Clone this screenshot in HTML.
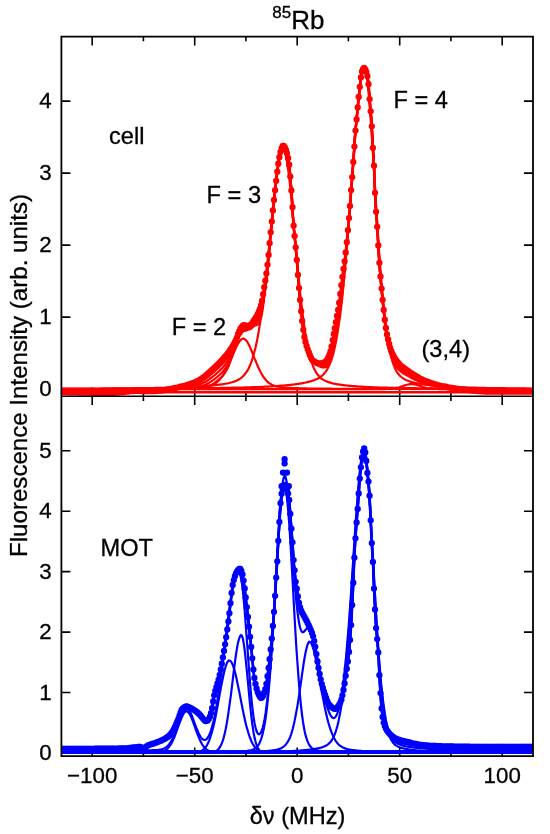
<!DOCTYPE html>
<html><head><meta charset="utf-8"><style>
html,body{margin:0;padding:0;background:#fff;}
svg{display:block;}
text{font-family:"Liberation Sans",Arial,Helvetica,sans-serif;fill:#000;stroke:#000;stroke-width:0.3px;}
</style></head><body>
<svg width="550" height="834" viewBox="0 0 550 834">
<rect width="550" height="834" fill="#fff"/>
<defs><clipPath id="ct"><rect x="61.4" y="36.7" width="471.6" height="359.6"/></clipPath><clipPath id="cb"><rect x="61.4" y="396.3" width="471.6" height="359.9"/></clipPath></defs>
<path d="M92.2 36.7v8.8M92.2 387.5v17.6M92.2 756.2v-8.8M143.4 36.7v4.6M143.4 391.7v9.2M143.4 756.2v-4.6M194.7 36.7v8.8M194.7 387.5v17.6M194.7 756.2v-8.8M245.9 36.7v4.6M245.9 391.7v9.2M245.9 756.2v-4.6M297.2 36.7v8.8M297.2 387.5v17.6M297.2 756.2v-8.8M348.4 36.7v4.6M348.4 391.7v9.2M348.4 756.2v-4.6M399.7 36.7v8.8M399.7 387.5v17.6M399.7 756.2v-8.8M450.9 36.7v4.6M450.9 391.7v9.2M450.9 756.2v-4.6M502.2 36.7v8.8M502.2 387.5v17.6M502.2 756.2v-8.8M61.4 389.1h9M533.0 389.1h-9M61.4 317.1h9M533.0 317.1h-9M61.4 245.1h9M533.0 245.1h-9M61.4 173.1h9M533.0 173.1h-9M61.4 101.1h9M533.0 101.1h-9M61.4 753.0h9M533.0 753.0h-9M61.4 692.5h9M533.0 692.5h-9M61.4 632.1h9M533.0 632.1h-9M61.4 571.6h9M533.0 571.6h-9M61.4 511.2h9M533.0 511.2h-9M61.4 450.8h9M533.0 450.8h-9" stroke="#000" stroke-width="1.6"/>
<g clip-path="url(#ct)"><g fill="none" stroke="#ff0000" stroke-width="2.2"><path d="M60.6 389.0L61.5 389.0L62.5 389.0L63.4 389.0L64.3 389.0L65.2 389.0L66.1 389.0L67.0 389.0L67.9 389.0L68.8 389.0L69.7 389.0L70.6 389.0L71.6 389.0L72.5 389.0L73.4 389.0L74.3 389.0L75.2 389.0L76.1 389.0L77.0 389.0L77.9 389.0L78.8 389.0L79.8 389.0L80.7 389.0L81.6 389.0L82.5 389.0L83.4 389.0L84.3 389.0L85.2 389.0L86.1 389.0L87.0 389.0L88.0 389.0L88.9 389.0L89.8 389.0L90.7 389.0L91.6 389.0L92.5 389.0L93.4 389.0L94.3 389.0L95.2 389.0L96.2 389.0L97.1 389.0L98.0 389.0L98.9 389.0L99.8 389.0L100.7 388.9L101.6 388.9L102.5 388.9L103.4 388.9L104.4 388.9L105.3 388.9L106.2 388.9L107.1 388.9L108.0 388.9L108.9 388.9L109.8 388.9L110.7 388.9L111.6 388.9L112.5 388.9L113.5 388.9L114.4 388.9L115.3 388.9L116.2 388.9L117.1 388.9L118.0 388.9L118.9 388.9L119.8 388.9L120.7 388.9L121.7 388.9L122.6 388.9L123.5 388.9L124.4 388.9L125.3 388.9L126.2 388.9L127.1 388.9L128.0 388.9L128.9 388.9L129.9 388.9L130.8 388.9L131.7 388.9L132.6 388.9L133.5 388.8L134.4 388.8L135.3 388.8L136.2 388.8L137.1 388.8L138.1 388.8L139.0 388.8L139.9 388.8L140.8 388.8L141.7 388.8L142.6 388.8L143.5 388.8L144.4 388.8L145.3 388.8L146.2 388.8L147.2 388.8L148.1 388.8L149.0 388.8L149.9 388.8L150.8 388.7L151.7 388.7L152.6 388.7L153.5 388.7L154.4 388.7L155.4 388.7L156.3 388.7L157.2 388.7L158.1 388.7L159.0 388.7L159.9 388.7L160.8 388.7L161.7 388.6L162.6 388.6L163.6 388.6L164.5 388.6L165.4 388.6L166.3 388.6L167.2 388.6L168.1 388.6L169.0 388.6L169.9 388.5L170.8 388.5L171.8 388.5L172.7 388.5L173.6 388.5L174.5 388.5L175.4 388.5L176.3 388.4L177.2 388.4L178.1 388.4L179.0 388.4L180.0 388.4L180.9 388.3L181.8 388.3L182.7 388.3L183.6 388.3L184.5 388.2L185.4 388.2L186.3 388.2L187.2 388.2L188.1 388.1L189.1 388.1L190.0 388.1L190.9 388.0L191.8 388.0L192.7 388.0L193.6 387.9L194.5 387.9L195.4 387.8L196.3 387.8L197.3 387.7L198.2 387.7L199.1 387.6L200.0 387.5L200.9 387.5L201.8 387.4L202.7 387.3L203.6 387.2L204.5 387.1L205.5 386.9L206.4 386.8L207.3 386.6L208.2 386.4L209.1 386.1L210.0 385.9L210.9 385.6L211.8 385.2L212.7 384.8L213.7 384.4L214.6 383.9L215.5 383.3L216.4 382.7L217.3 381.9L218.2 381.1L219.1 380.2L220.0 379.2L220.9 378.1L221.9 376.9L222.8 375.6L223.7 374.2L224.6 372.6L225.5 371.0L226.4 369.2L227.3 367.4L228.2 365.5L229.1 363.4L230.0 361.4L231.0 359.2L231.9 357.1L232.8 354.9L233.7 352.8L234.6 350.7L235.5 348.6L236.4 346.7L237.3 344.9L238.2 343.3L239.2 341.8L240.1 340.6L241.0 339.7L241.9 339.1L242.8 338.7L243.7 338.7L244.6 339.1L245.5 339.8L246.4 340.8L247.4 342.1L248.3 343.7L249.2 345.5L250.1 347.4L251.0 349.5L251.9 351.7L252.8 354.0L253.7 356.3L254.6 358.6L255.6 360.8L256.5 363.1L257.4 365.2L258.3 367.3L259.2 369.2L260.1 371.1L261.0 372.8L261.9 374.4L262.8 375.9L263.7 377.3L264.7 378.5L265.6 379.6L266.5 380.7L267.4 381.6L268.3 382.4L269.2 383.1L270.1 383.7L271.0 384.3L271.9 384.8L272.9 385.2L273.8 385.6L274.7 385.9L275.6 386.2L276.5 386.4L277.4 386.6L278.3 386.8L279.2 387.0L280.1 387.1L281.1 387.2L282.0 387.3L282.9 387.4L283.8 387.5L284.7 387.6L285.6 387.7L286.5 387.7L287.4 387.8L288.3 387.8L289.3 387.9L290.2 387.9L291.1 388.0L292.0 388.0L292.9 388.1L293.8 388.1L294.7 388.1L295.6 388.2L296.5 388.2L297.5 388.2L298.4 388.2L299.3 388.3L300.2 388.3L301.1 388.3L302.0 388.3L302.9 388.4L303.8 388.4L304.7 388.4L305.6 388.4L306.6 388.4L307.5 388.5L308.4 388.5L309.3 388.5L310.2 388.5L311.1 388.5L312.0 388.5L312.9 388.6L313.8 388.6L314.8 388.6L315.7 388.6L316.6 388.6L317.5 388.6L318.4 388.6L319.3 388.6L320.2 388.6L321.1 388.7L322.0 388.7L323.0 388.7L323.9 388.7L324.8 388.7L325.7 388.7L326.6 388.7L327.5 388.7L328.4 388.7L329.3 388.7L330.2 388.7L331.2 388.7L332.1 388.8L333.0 388.8L333.9 388.8L334.8 388.8L335.7 388.8L336.6 388.8L337.5 388.8L338.4 388.8L339.3 388.8L340.3 388.8L341.2 388.8L342.1 388.8L343.0 388.8L343.9 388.8L344.8 388.8L345.7 388.8L346.6 388.8L347.5 388.8L348.5 388.9L349.4 388.9L350.3 388.9L351.2 388.9L352.1 388.9L353.0 388.9L353.9 388.9L354.8 388.9L355.7 388.9L356.7 388.9L357.6 388.9L358.5 388.9L359.4 388.9L360.3 388.9L361.2 388.9L362.1 388.9L363.0 388.9L363.9 388.9L364.9 388.9L365.8 388.9L366.7 388.9L367.6 388.9L368.5 388.9L369.4 388.9L370.3 388.9L371.2 388.9L372.1 388.9L373.1 388.9L374.0 388.9L374.9 388.9L375.8 388.9L376.7 388.9L377.6 388.9L378.5 389.0L379.4 389.0L380.3 389.0L381.2 389.0L382.2 389.0L383.1 389.0L384.0 389.0L384.9 389.0L385.8 389.0L386.7 389.0L387.6 389.0L388.5 389.0L389.4 389.0L390.4 389.0L391.3 389.0L392.2 389.0L393.1 389.0L394.0 389.0L394.9 389.0L395.8 389.0L396.7 389.0L397.6 389.0L398.6 389.0L399.5 389.0L400.4 389.0L401.3 389.0L402.2 389.0L403.1 389.0L404.0 389.0L404.9 389.0L405.8 389.0L406.8 389.0L407.7 389.0L408.6 389.0L409.5 389.0L410.4 389.0L411.3 389.0L412.2 389.0L413.1 389.0L414.0 389.0L414.9 389.0L415.9 389.0L416.8 389.0L417.7 389.0L418.6 389.0L419.5 389.0L420.4 389.0L421.3 389.0L422.2 389.0L423.1 389.0L424.1 389.0L425.0 389.0L425.9 389.0L426.8 389.0L427.7 389.0L428.6 389.0L429.5 389.0L430.4 389.0L431.3 389.0L432.3 389.0L433.2 389.0L434.1 389.0L435.0 389.0L435.9 389.0L436.8 389.0L437.7 389.0L438.6 389.0L439.5 389.0L440.5 389.0L441.4 389.0L442.3 389.0L443.2 389.0L444.1 389.0L445.0 389.0L445.9 389.0L446.8 389.0L447.7 389.0L448.7 389.0L449.6 389.0L450.5 389.0L451.4 389.0L452.3 389.0L453.2 389.0L454.1 389.0L455.0 389.0L455.9 389.0L456.8 389.0L457.8 389.0L458.7 389.0L459.6 389.0L460.5 389.0L461.4 389.0L462.3 389.0L463.2 389.0L464.1 389.0L465.0 389.0L466.0 389.0L466.9 389.0L467.8 389.0L468.7 389.0L469.6 389.0L470.5 389.0L471.4 389.0L472.3 389.0L473.2 389.0L474.2 389.0L475.1 389.0L476.0 389.0L476.9 389.0L477.8 389.0L478.7 389.1L479.6 389.1L480.5 389.1L481.4 389.1L482.4 389.1L483.3 389.1L484.2 389.1L485.1 389.1L486.0 389.1L486.9 389.1L487.8 389.1L488.7 389.1L489.6 389.1L490.6 389.1L491.5 389.1L492.4 389.1L493.3 389.1L494.2 389.1L495.1 389.1L496.0 389.1L496.9 389.1L497.8 389.1L498.7 389.1L499.7 389.1L500.6 389.1L501.5 389.1L502.4 389.1L503.3 389.1L504.2 389.1L505.1 389.1L506.0 389.1L506.9 389.1L507.9 389.1L508.8 389.1L509.7 389.1L510.6 389.1L511.5 389.1L512.4 389.1L513.3 389.1L514.2 389.1L515.1 389.1L516.1 389.1L517.0 389.1L517.9 389.1L518.8 389.1L519.7 389.1L520.6 389.1L521.5 389.1L522.4 389.1L523.3 389.1L524.3 389.1L525.2 389.1L526.1 389.1L527.0 389.1L527.9 389.1L528.8 389.1L529.7 389.1L530.6 389.1L531.5 389.1L532.4 389.1L533.4 389.1"/>
<path d="M60.6 388.7L61.5 388.7L62.5 388.7L63.4 388.7L64.3 388.7L65.2 388.7L66.1 388.7L67.0 388.7L67.9 388.7L68.8 388.7L69.7 388.7L70.6 388.7L71.6 388.7L72.5 388.7L73.4 388.7L74.3 388.7L75.2 388.7L76.1 388.7L77.0 388.6L77.9 388.6L78.8 388.6L79.8 388.6L80.7 388.6L81.6 388.6L82.5 388.6L83.4 388.6L84.3 388.6L85.2 388.6L86.1 388.6L87.0 388.6L88.0 388.6L88.9 388.6L89.8 388.6L90.7 388.6L91.6 388.6L92.5 388.6L93.4 388.6L94.3 388.6L95.2 388.6L96.2 388.6L97.1 388.5L98.0 388.5L98.9 388.5L99.8 388.5L100.7 388.5L101.6 388.5L102.5 388.5L103.4 388.5L104.4 388.5L105.3 388.5L106.2 388.5L107.1 388.5L108.0 388.5L108.9 388.5L109.8 388.5L110.7 388.5L111.6 388.4L112.5 388.4L113.5 388.4L114.4 388.4L115.3 388.4L116.2 388.4L117.1 388.4L118.0 388.4L118.9 388.4L119.8 388.4L120.7 388.4L121.7 388.4L122.6 388.4L123.5 388.4L124.4 388.3L125.3 388.3L126.2 388.3L127.1 388.3L128.0 388.3L128.9 388.3L129.9 388.3L130.8 388.3L131.7 388.3L132.6 388.3L133.5 388.2L134.4 388.2L135.3 388.2L136.2 388.2L137.1 388.2L138.1 388.2L139.0 388.2L139.9 388.2L140.8 388.2L141.7 388.1L142.6 388.1L143.5 388.1L144.4 388.1L145.3 388.1L146.2 388.1L147.2 388.1L148.1 388.1L149.0 388.0L149.9 388.0L150.8 388.0L151.7 388.0L152.6 388.0L153.5 388.0L154.4 388.0L155.4 387.9L156.3 387.9L157.2 387.9L158.1 387.9L159.0 387.9L159.9 387.9L160.8 387.8L161.7 387.8L162.6 387.8L163.6 387.8L164.5 387.8L165.4 387.7L166.3 387.7L167.2 387.7L168.1 387.7L169.0 387.6L169.9 387.6L170.8 387.6L171.8 387.6L172.7 387.6L173.6 387.5L174.5 387.5L175.4 387.5L176.3 387.4L177.2 387.4L178.1 387.4L179.0 387.4L180.0 387.3L180.9 387.3L181.8 387.3L182.7 387.2L183.6 387.2L184.5 387.2L185.4 387.1L186.3 387.1L187.2 387.1L188.1 387.0L189.1 387.0L190.0 386.9L190.9 386.9L191.8 386.9L192.7 386.8L193.6 386.8L194.5 386.7L195.4 386.7L196.3 386.6L197.3 386.6L198.2 386.5L199.1 386.5L200.0 386.4L200.9 386.4L201.8 386.3L202.7 386.2L203.6 386.2L204.5 386.1L205.5 386.0L206.4 386.0L207.3 385.9L208.2 385.8L209.1 385.7L210.0 385.7L210.9 385.6L211.8 385.5L212.7 385.4L213.7 385.3L214.6 385.2L215.5 385.1L216.4 385.0L217.3 384.9L218.2 384.8L219.1 384.7L220.0 384.6L220.9 384.4L221.9 384.3L222.8 384.2L223.7 384.0L224.6 383.9L225.5 383.7L226.4 383.5L227.3 383.4L228.2 383.2L229.1 383.0L230.0 382.7L231.0 382.5L231.9 382.3L232.8 382.0L233.7 381.7L234.6 381.4L235.5 381.0L236.4 380.7L237.3 380.2L238.2 379.8L239.2 379.2L240.1 378.7L241.0 378.0L241.9 377.3L242.8 376.5L243.7 375.6L244.6 374.5L245.5 373.4L246.4 372.1L247.4 370.6L248.3 369.0L249.2 367.2L250.1 365.1L251.0 362.9L251.9 360.3L252.8 357.5L253.7 354.4L254.6 351.0L255.6 347.2L256.5 343.1L257.4 338.7L258.3 333.8L259.2 328.6L260.1 322.9L261.0 316.9L261.9 310.4L262.8 303.6L263.7 296.4L264.7 288.8L265.6 280.9L266.5 272.7L267.4 264.2L268.3 255.5L269.2 246.7L270.1 237.7L271.0 228.7L271.9 219.7L272.9 210.8L273.8 202.2L274.7 193.8L275.6 185.9L276.5 178.4L277.4 171.6L278.3 165.5L279.2 160.3L280.1 156.0L281.1 152.7L282.0 150.5L282.9 149.4L283.8 149.6L284.7 151.2L285.6 154.2L286.5 158.5L287.4 164.1L288.3 170.8L289.3 178.4L290.2 186.8L291.1 195.8L292.0 205.4L292.9 215.2L293.8 225.3L294.7 235.5L295.6 245.6L296.5 255.6L297.5 265.4L298.4 274.9L299.3 284.0L300.2 292.8L301.1 301.1L302.0 308.9L302.9 316.2L303.8 323.0L304.7 329.4L305.6 335.2L306.6 340.5L307.5 345.3L308.4 349.7L309.3 353.7L310.2 357.2L311.1 360.4L312.0 363.2L312.9 365.7L313.8 368.0L314.8 369.9L315.7 371.6L316.6 373.1L317.5 374.5L318.4 375.6L319.3 376.6L320.2 377.5L321.1 378.3L322.0 379.0L323.0 379.6L323.9 380.1L324.8 380.6L325.7 381.1L326.6 381.4L327.5 381.8L328.4 382.1L329.3 382.4L330.2 382.7L331.2 382.9L332.1 383.2L333.0 383.4L333.9 383.6L334.8 383.8L335.7 383.9L336.6 384.1L337.5 384.3L338.4 384.4L339.3 384.6L340.3 384.7L341.2 384.8L342.1 384.9L343.0 385.1L343.9 385.2L344.8 385.3L345.7 385.4L346.6 385.5L347.5 385.6L348.5 385.7L349.4 385.8L350.3 385.9L351.2 385.9L352.1 386.0L353.0 386.1L353.9 386.2L354.8 386.2L355.7 386.3L356.7 386.4L357.6 386.4L358.5 386.5L359.4 386.6L360.3 386.6L361.2 386.7L362.1 386.7L363.0 386.8L363.9 386.8L364.9 386.9L365.8 386.9L366.7 387.0L367.6 387.0L368.5 387.1L369.4 387.1L370.3 387.1L371.2 387.2L372.1 387.2L373.1 387.3L374.0 387.3L374.9 387.3L375.8 387.4L376.7 387.4L377.6 387.4L378.5 387.5L379.4 387.5L380.3 387.5L381.2 387.5L382.2 387.6L383.1 387.6L384.0 387.6L384.9 387.7L385.8 387.7L386.7 387.7L387.6 387.7L388.5 387.8L389.4 387.8L390.4 387.8L391.3 387.8L392.2 387.8L393.1 387.9L394.0 387.9L394.9 387.9L395.8 387.9L396.7 387.9L397.6 388.0L398.6 388.0L399.5 388.0L400.4 388.0L401.3 388.0L402.2 388.0L403.1 388.1L404.0 388.1L404.9 388.1L405.8 388.1L406.8 388.1L407.7 388.1L408.6 388.1L409.5 388.2L410.4 388.2L411.3 388.2L412.2 388.2L413.1 388.2L414.0 388.2L414.9 388.2L415.9 388.2L416.8 388.3L417.7 388.3L418.6 388.3L419.5 388.3L420.4 388.3L421.3 388.3L422.2 388.3L423.1 388.3L424.1 388.3L425.0 388.3L425.9 388.4L426.8 388.4L427.7 388.4L428.6 388.4L429.5 388.4L430.4 388.4L431.3 388.4L432.3 388.4L433.2 388.4L434.1 388.4L435.0 388.4L435.9 388.5L436.8 388.5L437.7 388.5L438.6 388.5L439.5 388.5L440.5 388.5L441.4 388.5L442.3 388.5L443.2 388.5L444.1 388.5L445.0 388.5L445.9 388.5L446.8 388.5L447.7 388.5L448.7 388.5L449.6 388.6L450.5 388.6L451.4 388.6L452.3 388.6L453.2 388.6L454.1 388.6L455.0 388.6L455.9 388.6L456.8 388.6L457.8 388.6L458.7 388.6L459.6 388.6L460.5 388.6L461.4 388.6L462.3 388.6L463.2 388.6L464.1 388.6L465.0 388.6L466.0 388.6L466.9 388.7L467.8 388.7L468.7 388.7L469.6 388.7L470.5 388.7L471.4 388.7L472.3 388.7L473.2 388.7L474.2 388.7L475.1 388.7L476.0 388.7L476.9 388.7L477.8 388.7L478.7 388.7L479.6 388.7L480.5 388.7L481.4 388.7L482.4 388.7L483.3 388.7L484.2 388.7L485.1 388.7L486.0 388.7L486.9 388.7L487.8 388.7L488.7 388.7L489.6 388.7L490.6 388.7L491.5 388.8L492.4 388.8L493.3 388.8L494.2 388.8L495.1 388.8L496.0 388.8L496.9 388.8L497.8 388.8L498.7 388.8L499.7 388.8L500.6 388.8L501.5 388.8L502.4 388.8L503.3 388.8L504.2 388.8L505.1 388.8L506.0 388.8L506.9 388.8L507.9 388.8L508.8 388.8L509.7 388.8L510.6 388.8L511.5 388.8L512.4 388.8L513.3 388.8L514.2 388.8L515.1 388.8L516.1 388.8L517.0 388.8L517.9 388.8L518.8 388.8L519.7 388.8L520.6 388.8L521.5 388.8L522.4 388.8L523.3 388.8L524.3 388.8L525.2 388.8L526.1 388.8L527.0 388.8L527.9 388.8L528.8 388.8L529.7 388.9L530.6 388.9L531.5 388.9L532.4 388.9L533.4 388.9"/>
<path d="M60.6 388.8L61.5 388.8L62.5 388.8L63.4 388.8L64.3 388.8L65.2 388.8L66.1 388.8L67.0 388.8L67.9 388.8L68.8 388.8L69.7 388.8L70.6 388.8L71.6 388.8L72.5 388.8L73.4 388.8L74.3 388.8L75.2 388.8L76.1 388.8L77.0 388.8L77.9 388.8L78.8 388.8L79.8 388.8L80.7 388.8L81.6 388.8L82.5 388.8L83.4 388.8L84.3 388.8L85.2 388.8L86.1 388.8L87.0 388.8L88.0 388.8L88.9 388.8L89.8 388.8L90.7 388.8L91.6 388.8L92.5 388.8L93.4 388.8L94.3 388.8L95.2 388.8L96.2 388.8L97.1 388.8L98.0 388.8L98.9 388.8L99.8 388.8L100.7 388.8L101.6 388.8L102.5 388.8L103.4 388.7L104.4 388.7L105.3 388.7L106.2 388.7L107.1 388.7L108.0 388.7L108.9 388.7L109.8 388.7L110.7 388.7L111.6 388.7L112.5 388.7L113.5 388.7L114.4 388.7L115.3 388.7L116.2 388.7L117.1 388.7L118.0 388.7L118.9 388.7L119.8 388.7L120.7 388.7L121.7 388.7L122.6 388.7L123.5 388.7L124.4 388.7L125.3 388.7L126.2 388.7L127.1 388.7L128.0 388.7L128.9 388.7L129.9 388.7L130.8 388.7L131.7 388.7L132.6 388.7L133.5 388.7L134.4 388.6L135.3 388.6L136.2 388.6L137.1 388.6L138.1 388.6L139.0 388.6L139.9 388.6L140.8 388.6L141.7 388.6L142.6 388.6L143.5 388.6L144.4 388.6L145.3 388.6L146.2 388.6L147.2 388.6L148.1 388.6L149.0 388.6L149.9 388.6L150.8 388.6L151.7 388.6L152.6 388.6L153.5 388.6L154.4 388.6L155.4 388.6L156.3 388.5L157.2 388.5L158.1 388.5L159.0 388.5L159.9 388.5L160.8 388.5L161.7 388.5L162.6 388.5L163.6 388.5L164.5 388.5L165.4 388.5L166.3 388.5L167.2 388.5L168.1 388.5L169.0 388.5L169.9 388.5L170.8 388.5L171.8 388.5L172.7 388.4L173.6 388.4L174.5 388.4L175.4 388.4L176.3 388.4L177.2 388.4L178.1 388.4L179.0 388.4L180.0 388.4L180.9 388.4L181.8 388.4L182.7 388.4L183.6 388.4L184.5 388.4L185.4 388.4L186.3 388.3L187.2 388.3L188.1 388.3L189.1 388.3L190.0 388.3L190.9 388.3L191.8 388.3L192.7 388.3L193.6 388.3L194.5 388.3L195.4 388.3L196.3 388.3L197.3 388.2L198.2 388.2L199.1 388.2L200.0 388.2L200.9 388.2L201.8 388.2L202.7 388.2L203.6 388.2L204.5 388.2L205.5 388.2L206.4 388.1L207.3 388.1L208.2 388.1L209.1 388.1L210.0 388.1L210.9 388.1L211.8 388.1L212.7 388.1L213.7 388.1L214.6 388.0L215.5 388.0L216.4 388.0L217.3 388.0L218.2 388.0L219.1 388.0L220.0 388.0L220.9 387.9L221.9 387.9L222.8 387.9L223.7 387.9L224.6 387.9L225.5 387.9L226.4 387.9L227.3 387.8L228.2 387.8L229.1 387.8L230.0 387.8L231.0 387.8L231.9 387.7L232.8 387.7L233.7 387.7L234.6 387.7L235.5 387.7L236.4 387.6L237.3 387.6L238.2 387.6L239.2 387.6L240.1 387.6L241.0 387.5L241.9 387.5L242.8 387.5L243.7 387.5L244.6 387.4L245.5 387.4L246.4 387.4L247.4 387.4L248.3 387.3L249.2 387.3L250.1 387.3L251.0 387.3L251.9 387.2L252.8 387.2L253.7 387.2L254.6 387.1L255.6 387.1L256.5 387.1L257.4 387.0L258.3 387.0L259.2 387.0L260.1 386.9L261.0 386.9L261.9 386.9L262.8 386.8L263.7 386.8L264.7 386.7L265.6 386.7L266.5 386.6L267.4 386.6L268.3 386.6L269.2 386.5L270.1 386.5L271.0 386.4L271.9 386.4L272.9 386.3L273.8 386.2L274.7 386.2L275.6 386.1L276.5 386.1L277.4 386.0L278.3 385.9L279.2 385.9L280.1 385.8L281.1 385.7L282.0 385.7L282.9 385.6L283.8 385.5L284.7 385.4L285.6 385.4L286.5 385.3L287.4 385.2L288.3 385.1L289.3 385.0L290.2 384.9L291.1 384.8L292.0 384.7L292.9 384.6L293.8 384.5L294.7 384.4L295.6 384.2L296.5 384.1L297.5 384.0L298.4 383.9L299.3 383.7L300.2 383.6L301.1 383.4L302.0 383.3L302.9 383.1L303.8 382.9L304.7 382.7L305.6 382.5L306.6 382.4L307.5 382.1L308.4 381.9L309.3 381.7L310.2 381.4L311.1 381.2L312.0 380.9L312.9 380.6L313.8 380.3L314.8 379.9L315.7 379.6L316.6 379.1L317.5 378.7L318.4 378.2L319.3 377.7L320.2 377.1L321.1 376.4L322.0 375.7L323.0 374.8L323.9 373.9L324.8 372.8L325.7 371.6L326.6 370.3L327.5 368.8L328.4 367.0L329.3 365.1L330.2 362.9L331.2 360.5L332.1 357.7L333.0 354.6L333.9 351.2L334.8 347.3L335.7 343.1L336.6 338.3L337.5 333.1L338.4 327.4L339.3 321.2L340.3 314.4L341.2 307.0L342.1 299.1L343.0 290.5L343.9 281.4L344.8 271.8L345.7 261.6L346.6 250.9L347.5 239.7L348.5 228.1L349.4 216.1L350.3 203.9L351.2 191.4L352.1 178.8L353.0 166.3L353.9 153.8L354.8 141.6L355.7 129.9L356.7 118.6L357.6 108.1L358.5 98.4L359.4 89.8L360.3 82.4L361.2 76.3L362.1 71.7L363.0 68.7L363.9 67.3L364.9 67.8L365.8 70.6L366.7 75.6L367.6 82.7L368.5 91.6L369.4 102.2L370.3 114.2L371.2 127.3L372.1 141.2L373.1 155.6L374.0 170.4L374.9 185.3L375.8 200.1L376.7 214.7L377.6 228.9L378.5 242.5L379.4 255.6L380.3 268.0L381.2 279.6L382.2 290.5L383.1 300.5L384.0 309.7L384.9 318.1L385.8 325.8L386.7 332.7L387.6 338.8L388.5 344.3L389.4 349.2L390.4 353.5L391.3 357.2L392.2 360.5L393.1 363.4L394.0 365.9L394.9 368.1L395.8 369.9L396.7 371.6L397.6 373.0L398.6 374.2L399.5 375.2L400.4 376.2L401.3 377.0L402.2 377.7L403.1 378.3L404.0 378.9L404.9 379.4L405.8 379.9L406.8 380.3L407.7 380.6L408.6 381.0L409.5 381.3L410.4 381.6L411.3 381.9L412.2 382.2L413.1 382.4L414.0 382.6L414.9 382.9L415.9 383.1L416.8 383.3L417.7 383.4L418.6 383.6L419.5 383.8L420.4 384.0L421.3 384.1L422.2 384.3L423.1 384.4L424.1 384.5L425.0 384.7L425.9 384.8L426.8 384.9L427.7 385.0L428.6 385.1L429.5 385.2L430.4 385.3L431.3 385.4L432.3 385.5L433.2 385.6L434.1 385.7L435.0 385.8L435.9 385.9L436.8 386.0L437.7 386.0L438.6 386.1L439.5 386.2L440.5 386.2L441.4 386.3L442.3 386.4L443.2 386.4L444.1 386.5L445.0 386.5L445.9 386.6L446.8 386.7L447.7 386.7L448.7 386.8L449.6 386.8L450.5 386.8L451.4 386.9L452.3 386.9L453.2 387.0L454.1 387.0L455.0 387.1L455.9 387.1L456.8 387.1L457.8 387.2L458.7 387.2L459.6 387.3L460.5 387.3L461.4 387.3L462.3 387.4L463.2 387.4L464.1 387.4L465.0 387.4L466.0 387.5L466.9 387.5L467.8 387.5L468.7 387.6L469.6 387.6L470.5 387.6L471.4 387.6L472.3 387.7L473.2 387.7L474.2 387.7L475.1 387.7L476.0 387.7L476.9 387.8L477.8 387.8L478.7 387.8L479.6 387.8L480.5 387.8L481.4 387.9L482.4 387.9L483.3 387.9L484.2 387.9L485.1 387.9L486.0 388.0L486.9 388.0L487.8 388.0L488.7 388.0L489.6 388.0L490.6 388.0L491.5 388.1L492.4 388.1L493.3 388.1L494.2 388.1L495.1 388.1L496.0 388.1L496.9 388.1L497.8 388.1L498.7 388.2L499.7 388.2L500.6 388.2L501.5 388.2L502.4 388.2L503.3 388.2L504.2 388.2L505.1 388.2L506.0 388.3L506.9 388.3L507.9 388.3L508.8 388.3L509.7 388.3L510.6 388.3L511.5 388.3L512.4 388.3L513.3 388.3L514.2 388.3L515.1 388.4L516.1 388.4L517.0 388.4L517.9 388.4L518.8 388.4L519.7 388.4L520.6 388.4L521.5 388.4L522.4 388.4L523.3 388.4L524.3 388.4L525.2 388.4L526.1 388.4L527.0 388.5L527.9 388.5L528.8 388.5L529.7 388.5L530.6 388.5L531.5 388.5L532.4 388.5L533.4 388.5"/>
<path d="M60.6 389.1L61.5 389.1L62.5 389.1L63.4 389.1L64.3 389.1L65.2 389.1L66.1 389.1L67.0 389.1L67.9 389.1L68.8 389.1L69.7 389.1L70.6 389.1L71.6 389.1L72.5 389.1L73.4 389.1L74.3 389.1L75.2 389.1L76.1 389.1L77.0 389.1L77.9 389.1L78.8 389.1L79.8 389.1L80.7 389.1L81.6 389.1L82.5 389.1L83.4 389.1L84.3 389.1L85.2 389.1L86.1 389.1L87.0 389.1L88.0 389.1L88.9 389.1L89.8 389.1L90.7 389.1L91.6 389.1L92.5 389.1L93.4 389.1L94.3 389.1L95.2 389.1L96.2 389.1L97.1 389.1L98.0 389.1L98.9 389.1L99.8 389.1L100.7 389.1L101.6 389.1L102.5 389.1L103.4 389.1L104.4 389.1L105.3 389.1L106.2 389.1L107.1 389.1L108.0 389.1L108.9 389.1L109.8 389.1L110.7 389.1L111.6 389.1L112.5 389.1L113.5 389.1L114.4 389.1L115.3 389.1L116.2 389.1L117.1 389.1L118.0 389.1L118.9 389.1L119.8 389.1L120.7 389.1L121.7 389.1L122.6 389.1L123.5 389.1L124.4 389.1L125.3 389.1L126.2 389.1L127.1 389.1L128.0 389.1L128.9 389.1L129.9 389.1L130.8 389.1L131.7 389.1L132.6 389.1L133.5 389.1L134.4 389.1L135.3 389.1L136.2 389.1L137.1 389.1L138.1 389.1L139.0 389.1L139.9 389.1L140.8 389.1L141.7 389.1L142.6 389.1L143.5 389.1L144.4 389.1L145.3 389.1L146.2 389.1L147.2 389.1L148.1 389.1L149.0 389.1L149.9 389.1L150.8 389.1L151.7 389.1L152.6 389.1L153.5 389.1L154.4 389.1L155.4 389.1L156.3 389.1L157.2 389.1L158.1 389.1L159.0 389.1L159.9 389.1L160.8 389.1L161.7 389.1L162.6 389.1L163.6 389.1L164.5 389.1L165.4 389.1L166.3 389.1L167.2 389.1L168.1 389.1L169.0 389.1L169.9 389.1L170.8 389.1L171.8 389.1L172.7 389.1L173.6 389.1L174.5 389.1L175.4 389.1L176.3 389.1L177.2 389.1L178.1 389.1L179.0 389.1L180.0 389.1L180.9 389.1L181.8 389.1L182.7 389.1L183.6 389.1L184.5 389.1L185.4 389.1L186.3 389.1L187.2 389.1L188.1 389.1L189.1 389.1L190.0 389.1L190.9 389.1L191.8 389.1L192.7 389.1L193.6 389.1L194.5 389.1L195.4 389.1L196.3 389.1L197.3 389.1L198.2 389.1L199.1 389.1L200.0 389.1L200.9 389.1L201.8 389.1L202.7 389.1L203.6 389.1L204.5 389.1L205.5 389.1L206.4 389.1L207.3 389.1L208.2 389.1L209.1 389.1L210.0 389.1L210.9 389.1L211.8 389.1L212.7 389.1L213.7 389.1L214.6 389.1L215.5 389.1L216.4 389.1L217.3 389.1L218.2 389.1L219.1 389.1L220.0 389.1L220.9 389.1L221.9 389.1L222.8 389.1L223.7 389.1L224.6 389.1L225.5 389.1L226.4 389.1L227.3 389.1L228.2 389.1L229.1 389.1L230.0 389.1L231.0 389.1L231.9 389.1L232.8 389.1L233.7 389.1L234.6 389.1L235.5 389.1L236.4 389.1L237.3 389.1L238.2 389.1L239.2 389.1L240.1 389.1L241.0 389.1L241.9 389.1L242.8 389.1L243.7 389.1L244.6 389.1L245.5 389.1L246.4 389.1L247.4 389.1L248.3 389.1L249.2 389.1L250.1 389.1L251.0 389.1L251.9 389.1L252.8 389.1L253.7 389.1L254.6 389.1L255.6 389.1L256.5 389.1L257.4 389.1L258.3 389.1L259.2 389.1L260.1 389.1L261.0 389.1L261.9 389.1L262.8 389.1L263.7 389.1L264.7 389.1L265.6 389.1L266.5 389.1L267.4 389.1L268.3 389.1L269.2 389.1L270.1 389.1L271.0 389.1L271.9 389.1L272.9 389.1L273.8 389.1L274.7 389.1L275.6 389.1L276.5 389.1L277.4 389.1L278.3 389.1L279.2 389.1L280.1 389.1L281.1 389.1L282.0 389.1L282.9 389.1L283.8 389.1L284.7 389.1L285.6 389.1L286.5 389.1L287.4 389.1L288.3 389.1L289.3 389.1L290.2 389.1L291.1 389.1L292.0 389.1L292.9 389.1L293.8 389.1L294.7 389.1L295.6 389.1L296.5 389.1L297.5 389.1L298.4 389.1L299.3 389.1L300.2 389.1L301.1 389.1L302.0 389.1L302.9 389.1L303.8 389.1L304.7 389.1L305.6 389.1L306.6 389.1L307.5 389.1L308.4 389.1L309.3 389.1L310.2 389.1L311.1 389.1L312.0 389.1L312.9 389.1L313.8 389.1L314.8 389.1L315.7 389.1L316.6 389.1L317.5 389.1L318.4 389.1L319.3 389.1L320.2 389.1L321.1 389.1L322.0 389.1L323.0 389.1L323.9 389.1L324.8 389.1L325.7 389.1L326.6 389.1L327.5 389.1L328.4 389.1L329.3 389.1L330.2 389.1L331.2 389.1L332.1 389.1L333.0 389.1L333.9 389.1L334.8 389.1L335.7 389.1L336.6 389.1L337.5 389.1L338.4 389.1L339.3 389.1L340.3 389.1L341.2 389.1L342.1 389.1L343.0 389.1L343.9 389.1L344.8 389.1L345.7 389.1L346.6 389.1L347.5 389.1L348.5 389.1L349.4 389.1L350.3 389.1L351.2 389.1L352.1 389.1L353.0 389.1L353.9 389.1L354.8 389.1L355.7 389.1L356.7 389.1L357.6 389.1L358.5 389.1L359.4 389.1L360.3 389.1L361.2 389.1L362.1 389.1L363.0 389.1L363.9 389.1L364.9 389.1L365.8 389.1L366.7 389.1L367.6 389.1L368.5 389.1L369.4 389.1L370.3 389.1L371.2 389.1L372.1 389.1L373.1 389.1L374.0 389.1L374.9 389.1L375.8 389.1L376.7 389.1L377.6 389.1L378.5 389.1L379.4 389.1L380.3 389.1L381.2 389.1L382.2 389.1L383.1 389.1L384.0 389.1L384.9 389.1L385.8 389.0L386.7 389.0L387.6 389.0L388.5 388.9L389.4 388.9L390.4 388.8L391.3 388.8L392.2 388.7L393.1 388.6L394.0 388.4L394.9 388.3L395.8 388.1L396.7 387.9L397.6 387.7L398.6 387.5L399.5 387.2L400.4 386.9L401.3 386.6L402.2 386.3L403.1 386.0L404.0 385.6L404.9 385.3L405.8 385.0L406.8 384.8L407.7 384.5L408.6 384.4L409.5 384.2L410.4 384.1L411.3 384.1L412.2 384.1L413.1 384.1L414.0 384.3L414.9 384.4L415.9 384.6L416.8 384.9L417.7 385.2L418.6 385.5L419.5 385.8L420.4 386.1L421.3 386.4L422.2 386.7L423.1 387.0L424.1 387.3L425.0 387.6L425.9 387.8L426.8 388.0L427.7 388.2L428.6 388.4L429.5 388.5L430.4 388.6L431.3 388.7L432.3 388.8L433.2 388.9L434.1 388.9L435.0 389.0L435.9 389.0L436.8 389.0L437.7 389.0L438.6 389.1L439.5 389.1L440.5 389.1L441.4 389.1L442.3 389.1L443.2 389.1L444.1 389.1L445.0 389.1L445.9 389.1L446.8 389.1L447.7 389.1L448.7 389.1L449.6 389.1L450.5 389.1L451.4 389.1L452.3 389.1L453.2 389.1L454.1 389.1L455.0 389.1L455.9 389.1L456.8 389.1L457.8 389.1L458.7 389.1L459.6 389.1L460.5 389.1L461.4 389.1L462.3 389.1L463.2 389.1L464.1 389.1L465.0 389.1L466.0 389.1L466.9 389.1L467.8 389.1L468.7 389.1L469.6 389.1L470.5 389.1L471.4 389.1L472.3 389.1L473.2 389.1L474.2 389.1L475.1 389.1L476.0 389.1L476.9 389.1L477.8 389.1L478.7 389.1L479.6 389.1L480.5 389.1L481.4 389.1L482.4 389.1L483.3 389.1L484.2 389.1L485.1 389.1L486.0 389.1L486.9 389.1L487.8 389.1L488.7 389.1L489.6 389.1L490.6 389.1L491.5 389.1L492.4 389.1L493.3 389.1L494.2 389.1L495.1 389.1L496.0 389.1L496.9 389.1L497.8 389.1L498.7 389.1L499.7 389.1L500.6 389.1L501.5 389.1L502.4 389.1L503.3 389.1L504.2 389.1L505.1 389.1L506.0 389.1L506.9 389.1L507.9 389.1L508.8 389.1L509.7 389.1L510.6 389.1L511.5 389.1L512.4 389.1L513.3 389.1L514.2 389.1L515.1 389.1L516.1 389.1L517.0 389.1L517.9 389.1L518.8 389.1L519.7 389.1L520.6 389.1L521.5 389.1L522.4 389.1L523.3 389.1L524.3 389.1L525.2 389.1L526.1 389.1L527.0 389.1L527.9 389.1L528.8 389.1L529.7 389.1L530.6 389.1L531.5 389.1L532.4 389.1L533.4 389.1"/>
<path d="M61 392.3H533" stroke-width="2.6"/>
<path d="M60.6 392.1L61.5 392.1L62.5 392.1L63.4 392.1L64.3 392.2L65.2 392.2L66.1 392.2L67.0 392.2L67.9 392.2L68.8 392.3L69.7 392.3L70.6 392.3L71.6 392.3L72.5 392.3L73.4 392.4L74.3 392.4L75.2 392.4L76.1 392.4L77.0 392.4L77.9 392.5L78.8 392.5L79.8 392.5L80.7 392.5L81.6 392.5L82.5 392.6L83.4 392.6L84.3 392.6L85.2 392.6L86.1 392.6L87.0 392.6L88.0 392.7L88.9 392.7L89.8 392.7L90.7 392.7L91.6 392.7L92.5 392.8L93.4 392.8L94.3 392.8L95.2 392.8L96.2 392.8L97.1 392.9L98.0 392.9L98.9 392.9L99.8 392.9L100.7 392.9L101.6 392.9L102.5 393.0L103.4 393.0L104.4 393.0L105.3 393.0L106.2 393.0L107.1 393.0L108.0 393.0L108.9 393.0L109.8 393.0L110.7 393.0L111.6 392.9L112.5 392.9L113.5 392.8L114.4 392.8L115.3 392.7L116.2 392.6L117.1 392.5L118.0 392.5L118.9 392.4L119.8 392.3L120.7 392.2L121.7 392.1L122.6 392.0L123.5 391.9L124.4 391.8L125.3 391.8L126.2 391.7L127.1 391.6L128.0 391.5L128.9 391.4L129.9 391.3L130.8 391.2L131.7 391.1L132.6 391.0L133.5 391.0L134.4 390.9L135.3 390.9L136.2 390.9L137.1 390.9L138.1 390.9L139.0 390.9L139.9 391.0L140.8 391.0L141.7 391.0L142.6 391.0L143.5 391.1L144.4 391.1L145.3 391.1L146.2 391.1L147.2 391.2L148.1 391.2L149.0 391.2L149.9 391.2L150.8 391.2L151.7 391.2L152.6 391.1L153.5 391.1L154.4 391.0L155.4 391.0L156.3 390.9L157.2 390.8L158.1 390.8L159.0 390.7L159.9 390.6L160.8 390.5L161.7 390.4L162.6 390.3L163.6 390.2L164.5 390.0L165.4 389.9L166.3 389.7L167.2 389.6L168.1 389.4L169.0 389.3L169.9 389.1L170.8 388.9L171.8 388.7L172.7 388.6L173.6 388.4L174.5 388.2L175.4 388.0L176.3 387.8L177.2 387.6L178.1 387.4L179.0 387.2L180.0 387.1L180.9 387.0L181.8 386.8L182.7 386.7L183.6 386.5L184.5 386.4L185.4 386.2L186.3 386.0L187.2 385.8L188.1 385.7L189.1 385.5L190.0 385.3L190.9 385.0L191.8 384.8L192.7 384.6L193.6 384.3L194.5 384.0L195.4 383.7L196.3 383.5L197.3 383.1L198.2 382.8L199.1 382.4L200.0 382.0L200.9 381.5L201.8 381.0L202.7 380.5L203.6 380.0L204.5 379.4L205.5 378.8L206.4 378.2L207.3 377.5L208.2 376.8L209.1 376.1L210.0 375.3L210.9 374.5L211.8 373.8L212.7 373.0L213.7 372.2L214.6 371.4L215.5 370.6L216.4 369.8L217.3 368.9L218.2 368.1L219.1 367.2L220.0 366.3L220.9 365.4L221.9 364.4L222.8 363.5L223.7 362.4L224.6 361.2L225.5 360.1L226.4 358.9L227.3 357.6L228.2 356.3L229.1 354.8L230.0 353.2L231.0 351.6L231.9 349.8L232.8 348.1L233.7 346.2L234.6 344.3L235.5 342.2L236.4 339.9L237.3 337.2L238.2 334.9L239.2 332.7L240.1 330.9L241.0 329.5L241.9 328.2L242.8 327.1L243.7 326.5L244.6 326.6L245.5 326.8L246.4 327.0L247.4 327.0L248.3 326.8L249.2 326.5L250.1 326.2L251.0 325.7L251.9 324.6L252.8 323.3L253.7 322.1L254.6 321.0L255.6 319.9L256.5 318.7L257.4 317.3L258.3 315.7L259.2 313.7L260.1 311.2L261.0 308.2L261.9 304.7L262.8 299.2L263.7 292.8L264.7 287.0L265.6 281.1L266.5 274.6L267.4 267.0L268.3 258.6L269.2 248.9L270.1 239.0L271.0 229.8L271.9 220.7L272.9 211.3L273.8 202.3L274.7 193.8L275.6 185.7L276.5 178.0L277.4 170.4L278.3 163.9L279.2 158.3L280.1 153.5L281.1 150.2L282.0 147.4L282.9 145.7L283.8 145.8L284.7 147.1L285.6 149.1L286.5 151.4L287.4 154.9L288.3 159.4L289.3 165.1L290.2 175.0L291.1 186.5L292.0 199.0L292.9 216.2L293.8 228.5L294.7 236.8L295.6 246.3L296.5 256.6L297.5 268.6L298.4 280.9L299.3 291.3L300.2 301.1L301.1 310.6L302.0 319.0L302.9 326.6L303.8 333.3L304.7 338.5L305.6 342.5L306.6 345.8L307.5 348.7L308.4 351.2L309.3 353.6L310.2 355.9L311.1 358.0L312.0 359.7L312.9 360.9L313.8 361.6L314.8 362.2L315.7 362.8L316.6 363.2L317.5 363.6L318.4 364.0L319.3 364.2L320.2 364.3L321.1 364.3L322.0 364.2L323.0 364.0L323.9 363.7L324.8 363.3L325.7 362.9L326.6 362.2L327.5 360.9L328.4 359.1L329.3 356.9L330.2 354.4L331.2 351.2L332.1 346.5L333.0 341.2L333.9 336.3L334.8 331.6L335.7 326.7L336.6 321.7L337.5 316.6L338.4 310.9L339.3 304.6L340.3 296.9L341.2 289.3L342.1 281.9L343.0 274.7L343.9 268.1L344.8 261.2L345.7 253.3L346.6 244.5L347.5 234.5L348.5 224.1L349.4 213.8L350.3 203.1L351.2 189.4L352.1 178.6L353.0 166.1L353.9 153.9L354.8 138.6L355.7 128.1L356.7 118.3L357.6 108.3L358.5 99.5L359.4 91.0L360.3 82.2L361.2 75.4L362.1 71.2L363.0 68.9L363.9 67.8L364.9 68.5L365.8 70.4L366.7 72.9L367.6 77.1L368.5 83.9L369.4 96.2L370.3 107.7L371.2 117.5L372.1 132.9L373.1 151.0L374.0 165.9L374.9 188.8L375.8 207.2L376.7 219.1L377.6 233.0L378.5 249.7L379.4 263.4L380.3 275.0L381.2 285.5L382.2 295.4L383.1 304.5L384.0 312.8L384.9 321.3L385.8 328.3L386.7 333.9L387.6 338.6L388.5 342.6L389.4 346.3L390.4 349.5L391.3 352.3L392.2 354.6L393.1 356.6L394.0 358.4L394.9 359.9L395.8 361.4L396.7 362.6L397.6 363.8L398.6 364.8L399.5 365.7L400.4 366.6L401.3 367.4L402.2 368.2L403.1 368.9L404.0 369.6L404.9 370.2L405.8 370.8L406.8 371.4L407.7 372.0L408.6 372.6L409.5 373.2L410.4 373.7L411.3 374.3L412.2 374.9L413.1 375.5L414.0 376.0L414.9 376.6L415.9 377.1L416.8 377.6L417.7 378.1L418.6 378.6L419.5 379.0L420.4 379.5L421.3 379.9L422.2 380.3L423.1 380.7L424.1 381.1L425.0 381.4L425.9 381.7L426.8 382.0L427.7 382.3L428.6 382.6L429.5 382.9L430.4 383.2L431.3 383.5L432.3 383.8L433.2 384.0L434.1 384.3L435.0 384.5L435.9 384.7L436.8 385.0L437.7 385.2L438.6 385.4L439.5 385.6L440.5 385.8L441.4 386.0L442.3 386.1L443.2 386.3L444.1 386.5L445.0 386.6L445.9 386.8L446.8 387.0L447.7 387.2L448.7 387.3L449.6 387.5L450.5 387.7L451.4 387.8L452.3 388.0L453.2 388.1L454.1 388.3L455.0 388.4L455.9 388.6L456.8 388.7L457.8 388.8L458.7 388.9L459.6 389.1L460.5 389.2L461.4 389.3L462.3 389.4L463.2 389.5L464.1 389.6L465.0 389.7L466.0 389.8L466.9 389.9L467.8 390.0L468.7 390.1L469.6 390.2L470.5 390.3L471.4 390.4L472.3 390.5L473.2 390.6L474.2 390.7L475.1 390.8L476.0 390.9L476.9 391.0L477.8 391.1L478.7 391.1L479.6 391.2L480.5 391.3L481.4 391.3L482.4 391.4L483.3 391.4L484.2 391.4L485.1 391.5L486.0 391.5L486.9 391.5L487.8 391.5L488.7 391.5L489.6 391.5L490.6 391.5L491.5 391.5L492.4 391.5L493.3 391.5L494.2 391.5L495.1 391.5L496.0 391.5L496.9 391.5L497.8 391.5L498.7 391.5L499.7 391.5L500.6 391.5L501.5 391.5L502.4 391.5L503.3 391.5L504.2 391.5L505.1 391.5L506.0 391.5L506.9 391.5L507.9 391.5L508.8 391.5L509.7 391.5L510.6 391.5L511.5 391.5L512.4 391.5L513.3 391.5L514.2 391.5L515.1 391.5L516.1 391.5L517.0 391.5L517.9 391.5L518.8 391.5L519.7 391.5L520.6 391.5L521.5 391.5L522.4 391.5L523.3 391.5L524.3 391.5L525.2 391.5L526.1 391.5L527.0 391.5L527.9 391.5L528.8 391.5L529.7 391.5L530.6 391.5L531.5 391.5L532.4 391.5L533.4 391.5"/>
<path d="M60.6 392.1L61.5 392.1L62.5 392.1L63.4 392.1L64.3 392.2L65.2 392.2L66.1 392.2L67.0 392.2L67.9 392.2L68.8 392.3L69.7 392.3L70.6 392.3L71.6 392.3L72.5 392.3L73.4 392.4L74.3 392.4L75.2 392.4L76.1 392.4L77.0 392.4L77.9 392.5L78.8 392.5L79.8 392.5L80.7 392.5L81.6 392.5L82.5 392.6L83.4 392.6L84.3 392.6L85.2 392.6L86.1 392.6L87.0 392.6L88.0 392.7L88.9 392.7L89.8 392.7L90.7 392.7L91.6 392.7L92.5 392.8L93.4 392.8L94.3 392.8L95.2 392.8L96.2 392.8L97.1 392.9L98.0 392.9L98.9 392.9L99.8 392.9L100.7 392.9L101.6 392.9L102.5 393.0L103.4 393.0L104.4 393.0L105.3 393.0L106.2 393.0L107.1 393.0L108.0 393.0L108.9 393.0L109.8 393.0L110.7 393.0L111.6 392.9L112.5 392.9L113.5 392.8L114.4 392.8L115.3 392.7L116.2 392.6L117.1 392.5L118.0 392.5L118.9 392.4L119.8 392.3L120.7 392.2L121.7 392.1L122.6 392.0L123.5 391.9L124.4 391.8L125.3 391.8L126.2 391.7L127.1 391.6L128.0 391.5L128.9 391.4L129.9 391.3L130.8 391.2L131.7 391.1L132.6 391.0L133.5 391.0L134.4 390.9L135.3 390.9L136.2 390.9L137.1 390.9L138.1 390.9L139.0 390.9L139.9 391.0L140.8 391.0L141.7 391.0L142.6 391.0L143.5 391.1L144.4 391.1L145.3 391.1L146.2 391.1L147.2 391.2L148.1 391.2L149.0 391.2L149.9 391.2L150.8 391.2L151.7 391.2L152.6 391.1L153.5 391.1L154.4 391.0L155.4 391.0L156.3 390.9L157.2 390.8L158.1 390.8L159.0 390.7L159.9 390.6L160.8 390.5L161.7 390.4L162.6 390.3L163.6 390.2L164.5 390.0L165.4 389.9L166.3 389.7L167.2 389.6L168.1 389.4L169.0 389.3L169.9 389.1L170.8 388.9L171.8 388.7L172.7 388.6L173.6 388.4L174.5 388.2L175.4 388.0L176.3 387.8L177.2 387.6L178.1 387.4L179.0 387.3L180.0 387.3L180.9 387.2L181.8 387.2L182.7 387.1L183.6 387.0L184.5 387.0L185.4 386.9L186.3 386.8L187.2 386.7L188.1 386.6L189.1 386.5L190.0 386.4L190.9 386.3L191.8 386.2L192.7 386.0L193.6 385.8L194.5 385.6L195.4 385.4L196.3 385.3L197.3 385.1L198.2 384.8L199.1 384.6L200.0 384.2L200.9 383.9L201.8 383.5L202.7 383.1L203.6 382.7L204.5 382.2L205.5 381.7L206.4 381.2L207.3 380.6L208.2 380.0L209.1 379.4L210.0 378.7L210.9 378.0L211.8 377.4L212.7 376.7L213.7 376.0L214.6 375.2L215.5 374.4L216.4 373.6L217.3 372.8L218.2 372.0L219.1 371.2L220.0 370.3L220.9 369.4L221.9 368.5L222.8 367.6L223.7 366.4L224.6 365.2L225.5 363.9L226.4 362.6L227.3 361.3L228.2 359.9L229.1 358.1L230.0 356.2L231.0 354.2L231.9 352.2L232.8 350.1L233.7 348.0L234.6 345.8L235.5 343.5L236.4 340.9L237.3 337.9L238.2 335.9L239.2 333.9L240.1 332.3L241.0 331.1L241.9 329.8L242.8 328.6L243.7 328.0L244.6 328.0L245.5 328.1L246.4 328.2L247.4 328.0L248.3 327.7L249.2 327.5L250.1 327.2L251.0 326.7L251.9 325.7L252.8 324.6L253.7 323.6L254.6 322.7L255.6 321.7L256.5 320.9L257.4 319.8L258.3 318.5L259.2 316.8L260.1 314.3L261.0 311.4L261.9 307.9L262.8 302.3L263.7 295.6L264.7 289.4L265.6 283.2L266.5 276.4L267.4 268.5L268.3 259.8L269.2 249.8L270.1 239.7L271.0 230.3L271.9 221.0L272.9 211.5L273.8 202.4L274.7 193.8L275.6 185.7L276.5 178.0L277.4 170.4L278.3 163.9L279.2 158.3L280.1 153.5L281.1 150.2L282.0 147.4L282.9 145.7L283.8 145.8L284.7 147.1L285.6 149.1L286.5 151.4L287.4 154.9L288.3 159.4L289.3 165.1L290.2 175.0L291.1 186.5L292.0 199.0L292.9 216.2L293.8 228.5L294.7 236.8L295.6 246.3L296.5 256.6L297.5 268.6L298.4 280.9L299.3 291.3L300.2 301.1L301.1 310.6L302.0 319.0L302.9 326.6L303.8 333.3L304.7 338.5L305.6 342.5L306.6 345.8L307.5 348.7L308.4 351.2L309.3 353.6L310.2 356.0L311.1 358.1L312.0 359.9L312.9 361.1L313.8 361.9L314.8 362.6L315.7 363.2L316.6 363.7L317.5 364.2L318.4 364.6L319.3 364.9L320.2 365.1L321.1 365.2L322.0 365.2L323.0 365.1L323.9 364.9L324.8 364.7L325.7 364.3L326.6 363.8L327.5 362.7L328.4 361.1L329.3 359.1L330.2 356.8L331.2 353.7L332.1 349.2L333.0 344.0L333.9 339.3L334.8 334.8L335.7 330.1L336.6 325.2L337.5 320.1L338.4 314.2L339.3 307.6L340.3 299.8L341.2 291.9L342.1 284.3L343.0 276.8L343.9 269.8L344.8 262.7L345.7 254.5L346.6 245.4L347.5 235.0L348.5 224.4L349.4 214.0L350.3 203.1L351.2 189.4L352.1 178.6L353.0 166.1L353.9 153.9L354.8 138.6L355.7 128.1L356.7 118.3L357.6 108.3L358.5 99.5L359.4 91.0L360.3 82.2L361.2 75.4L362.1 71.2L363.0 68.9L363.9 67.8L364.9 68.5L365.8 70.4L366.7 72.9L367.6 77.1L368.5 83.9L369.4 96.2L370.3 107.7L371.2 117.5L372.1 132.9L373.1 151.0L374.0 165.9L374.9 188.8L375.8 207.2L376.7 219.1L377.6 233.0L378.5 249.7L379.4 263.4L380.3 275.1L381.2 285.8L382.2 295.8L383.1 305.1L384.0 313.5L384.9 322.1L385.8 329.2L386.7 334.9L387.6 339.7L388.5 343.8L389.4 347.5L390.4 350.9L391.3 353.7L392.2 356.1L393.1 358.2L394.0 360.0L394.9 361.5L395.8 362.9L396.7 364.2L397.6 365.3L398.6 366.3L399.5 367.3L400.4 368.1L401.3 368.9L402.2 369.7L403.1 370.4L404.0 371.0L404.9 371.6L405.8 372.2L406.8 372.8L407.7 373.3L408.6 373.9L409.5 374.4L410.4 375.0L411.3 375.5L412.2 376.0L413.1 376.6L414.0 377.1L414.9 377.6L415.9 378.1L416.8 378.6L417.7 379.0L418.6 379.5L419.5 379.9L420.4 380.3L421.3 380.7L422.2 381.0L423.1 381.4L424.1 381.7L425.0 382.0L425.9 382.3L426.8 382.6L427.7 382.8L428.6 383.1L429.5 383.4L430.4 383.6L431.3 383.9L432.3 384.1L433.2 384.4L434.1 384.6L435.0 384.8L435.9 385.0L436.8 385.2L437.7 385.4L438.6 385.6L439.5 385.7L440.5 385.9L441.4 386.1L442.3 386.2L443.2 386.4L444.1 386.5L445.0 386.6L445.9 386.8L446.8 387.0L447.7 387.2L448.7 387.3L449.6 387.5L450.5 387.7L451.4 387.8L452.3 388.0L453.2 388.1L454.1 388.3L455.0 388.4L455.9 388.6L456.8 388.7L457.8 388.8L458.7 388.9L459.6 389.1L460.5 389.2L461.4 389.3L462.3 389.4L463.2 389.5L464.1 389.6L465.0 389.7L466.0 389.8L466.9 389.9L467.8 390.0L468.7 390.1L469.6 390.2L470.5 390.3L471.4 390.4L472.3 390.5L473.2 390.6L474.2 390.7L475.1 390.8L476.0 390.9L476.9 391.0L477.8 391.1L478.7 391.1L479.6 391.2L480.5 391.3L481.4 391.3L482.4 391.4L483.3 391.4L484.2 391.4L485.1 391.5L486.0 391.5L486.9 391.5L487.8 391.5L488.7 391.5L489.6 391.5L490.6 391.5L491.5 391.5L492.4 391.5L493.3 391.5L494.2 391.5L495.1 391.5L496.0 391.5L496.9 391.5L497.8 391.5L498.7 391.5L499.7 391.5L500.6 391.5L501.5 391.5L502.4 391.5L503.3 391.5L504.2 391.5L505.1 391.5L506.0 391.5L506.9 391.5L507.9 391.5L508.8 391.5L509.7 391.5L510.6 391.5L511.5 391.5L512.4 391.5L513.3 391.5L514.2 391.5L515.1 391.5L516.1 391.5L517.0 391.5L517.9 391.5L518.8 391.5L519.7 391.5L520.6 391.5L521.5 391.5L522.4 391.5L523.3 391.5L524.3 391.5L525.2 391.5L526.1 391.5L527.0 391.5L527.9 391.5L528.8 391.5L529.7 391.5L530.6 391.5L531.5 391.5L532.4 391.5L533.4 391.5"/>
<path d="M60.6 392.1L61.5 392.1L62.5 392.1L63.4 392.1L64.3 392.2L65.2 392.2L66.1 392.2L67.0 392.2L67.9 392.2L68.8 392.3L69.7 392.3L70.6 392.3L71.6 392.3L72.5 392.3L73.4 392.4L74.3 392.4L75.2 392.4L76.1 392.4L77.0 392.4L77.9 392.5L78.8 392.5L79.8 392.5L80.7 392.5L81.6 392.5L82.5 392.6L83.4 392.6L84.3 392.6L85.2 392.6L86.1 392.6L87.0 392.6L88.0 392.7L88.9 392.7L89.8 392.7L90.7 392.7L91.6 392.7L92.5 392.8L93.4 392.8L94.3 392.8L95.2 392.8L96.2 392.8L97.1 392.9L98.0 392.9L98.9 392.9L99.8 392.9L100.7 392.9L101.6 392.9L102.5 393.0L103.4 393.0L104.4 393.0L105.3 393.0L106.2 393.0L107.1 393.0L108.0 393.0L108.9 393.0L109.8 393.0L110.7 393.0L111.6 392.9L112.5 392.9L113.5 392.8L114.4 392.8L115.3 392.7L116.2 392.6L117.1 392.5L118.0 392.5L118.9 392.4L119.8 392.3L120.7 392.2L121.7 392.1L122.6 392.0L123.5 391.9L124.4 391.8L125.3 391.8L126.2 391.7L127.1 391.6L128.0 391.5L128.9 391.4L129.9 391.3L130.8 391.2L131.7 391.1L132.6 391.0L133.5 391.0L134.4 390.9L135.3 390.9L136.2 390.9L137.1 390.9L138.1 390.9L139.0 390.9L139.9 391.0L140.8 391.0L141.7 391.0L142.6 391.0L143.5 391.1L144.4 391.1L145.3 391.1L146.2 391.1L147.2 391.2L148.1 391.2L149.0 391.2L149.9 391.2L150.8 391.2L151.7 391.2L152.6 391.1L153.5 391.1L154.4 391.0L155.4 391.0L156.3 390.9L157.2 390.8L158.1 390.8L159.0 390.7L159.9 390.6L160.8 390.5L161.7 390.4L162.6 390.3L163.6 390.2L164.5 390.0L165.4 389.9L166.3 389.7L167.2 389.6L168.1 389.4L169.0 389.3L169.9 389.1L170.8 388.9L171.8 388.7L172.7 388.6L173.6 388.4L174.5 388.2L175.4 388.0L176.3 387.8L177.2 387.6L178.1 387.4L179.0 387.4L180.0 387.4L180.9 387.5L181.8 387.5L182.7 387.5L183.6 387.6L184.5 387.6L185.4 387.6L186.3 387.6L187.2 387.6L188.1 387.6L189.1 387.6L190.0 387.6L190.9 387.5L191.8 387.5L192.7 387.4L193.6 387.4L194.5 387.3L195.4 387.1L196.3 387.1L197.3 387.0L198.2 386.9L199.1 386.7L200.0 386.5L200.9 386.3L201.8 386.0L202.7 385.7L203.6 385.4L204.5 385.1L205.5 384.7L206.4 384.2L207.3 383.7L208.2 383.2L209.1 382.7L210.0 382.1L210.9 381.6L211.8 381.0L212.7 380.4L213.7 379.8L214.6 379.0L215.5 378.3L216.4 377.5L217.3 376.8L218.2 376.0L219.1 375.2L220.0 374.4L220.9 373.5L221.9 372.6L222.8 371.7L223.7 370.5L224.6 369.1L225.5 367.8L226.4 366.4L227.3 365.0L228.2 363.4L229.1 361.3L230.0 359.1L231.0 356.9L231.9 354.6L232.8 352.2L233.7 349.8L234.6 347.3L235.5 344.7L236.4 341.9L237.3 338.7L238.2 336.8L239.2 335.1L240.1 333.7L241.0 332.7L241.9 331.3L242.8 330.1L243.7 329.5L244.6 329.4L245.5 329.4L246.4 329.4L247.4 329.1L248.3 328.6L249.2 328.4L250.1 328.2L251.0 327.7L251.9 326.7L252.8 325.8L253.7 325.0L254.6 324.3L255.6 323.5L256.5 323.0L257.4 322.2L258.3 321.2L259.2 319.9L260.1 317.4L261.0 314.6L261.9 311.1L262.8 305.3L263.7 298.3L264.7 291.8L265.6 285.3L266.5 278.1L267.4 270.0L268.3 261.1L269.2 250.8L270.1 240.3L271.0 230.8L271.9 221.4L272.9 211.7L273.8 202.5L274.7 193.8L275.6 185.7L276.5 178.0L277.4 170.4L278.3 163.9L279.2 158.3L280.1 153.5L281.1 150.2L282.0 147.4L282.9 145.7L283.8 145.8L284.7 147.1L285.6 149.1L286.5 151.4L287.4 154.9L288.3 159.4L289.3 165.1L290.2 175.0L291.1 186.5L292.0 199.0L292.9 216.2L293.8 228.5L294.7 236.8L295.6 246.3L296.5 256.6L297.5 268.6L298.4 280.9L299.3 291.3L300.2 301.1L301.1 310.6L302.0 319.0L302.9 326.6L303.8 333.3L304.7 338.5L305.6 342.5L306.6 345.8L307.5 348.7L308.4 351.2L309.3 353.6L310.2 356.0L311.1 358.2L312.0 360.1L312.9 361.4L313.8 362.2L314.8 362.9L315.7 363.6L316.6 364.2L317.5 364.7L318.4 365.2L319.3 365.6L320.2 365.9L321.1 366.1L322.0 366.2L323.0 366.2L323.9 366.1L324.8 366.0L325.7 365.8L326.6 365.4L327.5 364.5L328.4 363.0L329.3 361.2L330.2 359.1L331.2 356.2L332.1 351.9L333.0 346.9L333.9 342.4L334.8 337.9L335.7 333.4L336.6 328.7L337.5 323.6L338.4 317.5L339.3 310.7L340.3 302.6L341.2 294.5L342.1 286.7L343.0 278.9L343.9 271.6L344.8 264.1L345.7 255.6L346.6 246.2L347.5 235.5L348.5 224.8L349.4 214.2L350.3 203.1L351.2 189.4L352.1 178.6L353.0 166.1L353.9 153.9L354.8 138.6L355.7 128.1L356.7 118.3L357.6 108.3L358.5 99.5L359.4 91.0L360.3 82.2L361.2 75.4L362.1 71.2L363.0 68.9L363.9 67.8L364.9 68.5L365.8 70.4L366.7 72.9L367.6 77.1L368.5 83.9L369.4 96.2L370.3 107.7L371.2 117.5L372.1 132.9L373.1 151.0L374.0 165.9L374.9 188.8L375.8 207.2L376.7 219.1L377.6 233.0L378.5 249.7L379.4 263.5L380.3 275.3L381.2 286.1L382.2 296.2L383.1 305.6L384.0 314.2L384.9 322.9L385.8 330.1L386.7 336.0L387.6 340.8L388.5 345.0L389.4 348.8L390.4 352.2L391.3 355.1L392.2 357.6L393.1 359.7L394.0 361.6L394.9 363.1L395.8 364.5L396.7 365.8L397.6 366.9L398.6 367.9L399.5 368.8L400.4 369.6L401.3 370.4L402.2 371.1L403.1 371.8L404.0 372.5L404.9 373.0L405.8 373.6L406.8 374.1L407.7 374.6L408.6 375.1L409.5 375.6L410.4 376.2L411.3 376.7L412.2 377.2L413.1 377.7L414.0 378.2L414.9 378.6L415.9 379.1L416.8 379.5L417.7 379.9L418.6 380.3L419.5 380.7L420.4 381.1L421.3 381.4L422.2 381.8L423.1 382.1L424.1 382.3L425.0 382.6L425.9 382.8L426.8 383.1L427.7 383.3L428.6 383.6L429.5 383.8L430.4 384.1L431.3 384.3L432.3 384.5L433.2 384.7L434.1 384.9L435.0 385.1L435.9 385.3L436.8 385.4L437.7 385.6L438.6 385.7L439.5 385.9L440.5 386.0L441.4 386.2L442.3 386.3L443.2 386.4L444.1 386.5L445.0 386.6L445.9 386.8L446.8 387.0L447.7 387.2L448.7 387.3L449.6 387.5L450.5 387.7L451.4 387.8L452.3 388.0L453.2 388.1L454.1 388.3L455.0 388.4L455.9 388.6L456.8 388.7L457.8 388.8L458.7 388.9L459.6 389.1L460.5 389.2L461.4 389.3L462.3 389.4L463.2 389.5L464.1 389.6L465.0 389.7L466.0 389.8L466.9 389.9L467.8 390.0L468.7 390.1L469.6 390.2L470.5 390.3L471.4 390.4L472.3 390.5L473.2 390.6L474.2 390.7L475.1 390.8L476.0 390.9L476.9 391.0L477.8 391.1L478.7 391.1L479.6 391.2L480.5 391.3L481.4 391.3L482.4 391.4L483.3 391.4L484.2 391.4L485.1 391.5L486.0 391.5L486.9 391.5L487.8 391.5L488.7 391.5L489.6 391.5L490.6 391.5L491.5 391.5L492.4 391.5L493.3 391.5L494.2 391.5L495.1 391.5L496.0 391.5L496.9 391.5L497.8 391.5L498.7 391.5L499.7 391.5L500.6 391.5L501.5 391.5L502.4 391.5L503.3 391.5L504.2 391.5L505.1 391.5L506.0 391.5L506.9 391.5L507.9 391.5L508.8 391.5L509.7 391.5L510.6 391.5L511.5 391.5L512.4 391.5L513.3 391.5L514.2 391.5L515.1 391.5L516.1 391.5L517.0 391.5L517.9 391.5L518.8 391.5L519.7 391.5L520.6 391.5L521.5 391.5L522.4 391.5L523.3 391.5L524.3 391.5L525.2 391.5L526.1 391.5L527.0 391.5L527.9 391.5L528.8 391.5L529.7 391.5L530.6 391.5L531.5 391.5L532.4 391.5L533.4 391.5"/>
<path d="M60.6 392.1L61.5 392.1L62.5 392.1L63.4 392.1L64.3 392.2L65.2 392.2L66.1 392.2L67.0 392.2L67.9 392.2L68.8 392.3L69.7 392.3L70.6 392.3L71.6 392.3L72.5 392.3L73.4 392.4L74.3 392.4L75.2 392.4L76.1 392.4L77.0 392.4L77.9 392.5L78.8 392.5L79.8 392.5L80.7 392.5L81.6 392.5L82.5 392.6L83.4 392.6L84.3 392.6L85.2 392.6L86.1 392.6L87.0 392.6L88.0 392.7L88.9 392.7L89.8 392.7L90.7 392.7L91.6 392.7L92.5 392.8L93.4 392.8L94.3 392.8L95.2 392.8L96.2 392.8L97.1 392.9L98.0 392.9L98.9 392.9L99.8 392.9L100.7 392.9L101.6 392.9L102.5 393.0L103.4 393.0L104.4 393.0L105.3 393.0L106.2 393.0L107.1 393.0L108.0 393.0L108.9 393.0L109.8 393.0L110.7 393.0L111.6 392.9L112.5 392.9L113.5 392.8L114.4 392.8L115.3 392.7L116.2 392.6L117.1 392.5L118.0 392.5L118.9 392.4L119.8 392.3L120.7 392.2L121.7 392.1L122.6 392.0L123.5 391.9L124.4 391.8L125.3 391.8L126.2 391.7L127.1 391.6L128.0 391.5L128.9 391.4L129.9 391.3L130.8 391.2L131.7 391.1L132.6 391.0L133.5 391.0L134.4 390.9L135.3 390.9L136.2 390.9L137.1 390.9L138.1 390.9L139.0 390.9L139.9 391.0L140.8 391.0L141.7 391.0L142.6 391.0L143.5 391.1L144.4 391.1L145.3 391.1L146.2 391.1L147.2 391.2L148.1 391.2L149.0 391.2L149.9 391.2L150.8 391.2L151.7 391.2L152.6 391.1L153.5 391.1L154.4 391.0L155.4 391.0L156.3 390.9L157.2 390.8L158.1 390.8L159.0 390.7L159.9 390.6L160.8 390.5L161.7 390.4L162.6 390.3L163.6 390.2L164.5 390.0L165.4 389.9L166.3 389.7L167.2 389.6L168.1 389.4L169.0 389.3L169.9 389.1L170.8 388.9L171.8 388.7L172.7 388.6L173.6 388.4L174.5 388.2L175.4 388.0L176.3 387.8L177.2 387.6L178.1 387.4L179.0 387.4L180.0 387.6L180.9 387.7L181.8 387.8L182.7 388.0L183.6 388.1L184.5 388.2L185.4 388.3L186.3 388.4L187.2 388.5L188.1 388.6L189.1 388.7L190.0 388.7L190.9 388.8L191.8 388.8L192.7 388.9L193.6 388.9L194.5 388.9L195.4 388.8L196.3 388.9L197.3 388.9L198.2 388.9L199.1 388.9L200.0 388.8L200.9 388.6L201.8 388.5L202.7 388.3L203.6 388.1L204.5 387.9L205.5 387.6L206.4 387.2L207.3 386.9L208.2 386.4L209.1 386.0L210.0 385.5L210.9 385.1L211.8 384.6L212.7 384.1L213.7 383.6L214.6 382.9L215.5 382.1L216.4 381.4L217.3 380.7L218.2 379.9L219.1 379.2L220.0 378.4L220.9 377.6L221.9 376.7L222.8 375.9L223.7 374.5L224.6 373.1L225.5 371.7L226.4 370.2L227.3 368.7L228.2 367.0L229.1 364.6L230.0 362.1L231.0 359.6L231.9 357.0L232.8 354.3L233.7 351.6L234.6 348.8L235.5 346.0L236.4 342.9L237.3 339.4L238.2 337.8L239.2 336.3L240.1 335.1L241.0 334.3L241.9 332.9L242.8 331.7L243.7 330.9L244.6 330.8L245.5 330.7L246.4 330.5L247.4 330.1L248.3 329.5L249.2 329.4L250.1 329.2L251.0 328.8L251.9 327.8L252.8 327.1L253.7 326.4L254.6 325.9L255.6 325.3L256.5 325.1L257.4 324.7L258.3 324.0L259.2 322.9L260.1 320.5L261.0 317.7L261.9 314.3L262.8 308.4L263.7 301.1L264.7 294.3L265.6 287.4L266.5 279.9L267.4 271.6L268.3 262.3L269.2 251.7L270.1 241.0L271.0 231.3L271.9 221.7L272.9 212.0L273.8 202.6L274.7 193.8L275.6 185.7L276.5 178.0L277.4 170.4L278.3 163.9L279.2 158.3L280.1 153.5L281.1 150.2L282.0 147.4L282.9 145.7L283.8 145.8L284.7 147.1L285.6 149.1L286.5 151.4L287.4 154.9L288.3 159.4L289.3 165.1L290.2 175.0L291.1 186.5L292.0 199.0L292.9 216.2L293.8 228.5L294.7 236.8L295.6 246.3L296.5 256.6L297.5 268.6L298.4 280.9L299.3 291.3L300.2 301.1L301.1 310.6L302.0 319.0L302.9 326.6L303.8 333.3L304.7 338.5L305.6 342.5L306.6 345.8L307.5 348.7L308.4 351.2L309.3 353.6L310.2 356.1L311.1 358.3L312.0 360.2L312.9 361.6L313.8 362.5L314.8 363.3L315.7 364.0L316.6 364.6L317.5 365.2L318.4 365.8L319.3 366.3L320.2 366.8L321.1 367.1L322.0 367.3L323.0 367.3L323.9 367.4L324.8 367.3L325.7 367.2L326.6 367.0L327.5 366.2L328.4 365.0L329.3 363.4L330.2 361.4L331.2 358.8L332.1 354.6L333.0 349.8L333.9 345.4L334.8 341.1L335.7 336.8L336.6 332.3L337.5 327.2L338.4 320.8L339.3 313.8L340.3 305.5L341.2 297.1L342.1 289.1L343.0 281.0L343.9 273.4L344.8 265.6L345.7 256.7L346.6 247.0L347.5 236.1L348.5 225.2L349.4 214.4L350.3 203.2L351.2 189.4L352.1 178.6L353.0 166.1L353.9 153.9L354.8 138.6L355.7 128.1L356.7 118.3L357.6 108.3L358.5 99.5L359.4 91.0L360.3 82.2L361.2 75.4L362.1 71.2L363.0 68.9L363.9 67.8L364.9 68.5L365.8 70.4L366.7 72.9L367.6 77.1L368.5 83.9L369.4 96.2L370.3 107.7L371.2 117.5L372.1 132.9L373.1 151.0L374.0 165.9L374.9 188.8L375.8 207.2L376.7 219.1L377.6 233.0L378.5 249.7L379.4 263.5L380.3 275.5L381.2 286.4L382.2 296.7L383.1 306.2L384.0 314.9L384.9 323.8L385.8 331.1L386.7 337.0L387.6 341.9L388.5 346.1L389.4 350.1L390.4 353.5L391.3 356.6L392.2 359.1L393.1 361.3L394.0 363.2L394.9 364.7L395.8 366.1L396.7 367.3L397.6 368.4L398.6 369.4L399.5 370.3L400.4 371.1L401.3 371.9L402.2 372.6L403.1 373.3L404.0 373.9L404.9 374.4L405.8 374.9L406.8 375.4L407.7 375.9L408.6 376.4L409.5 376.9L410.4 377.4L411.3 377.9L412.2 378.3L413.1 378.8L414.0 379.3L414.9 379.7L415.9 380.1L416.8 380.5L417.7 380.9L418.6 381.2L419.5 381.6L420.4 381.9L421.3 382.2L422.2 382.5L423.1 382.7L424.1 383.0L425.0 383.2L425.9 383.4L426.8 383.6L427.7 383.8L428.6 384.1L429.5 384.3L430.4 384.5L431.3 384.7L432.3 384.9L433.2 385.0L434.1 385.2L435.0 385.4L435.9 385.5L436.8 385.7L437.7 385.8L438.6 385.9L439.5 386.0L440.5 386.2L441.4 386.3L442.3 386.4L443.2 386.4L444.1 386.5L445.0 386.6L445.9 386.8L446.8 387.0L447.7 387.2L448.7 387.3L449.6 387.5L450.5 387.7L451.4 387.8L452.3 388.0L453.2 388.1L454.1 388.3L455.0 388.4L455.9 388.6L456.8 388.7L457.8 388.8L458.7 388.9L459.6 389.1L460.5 389.2L461.4 389.3L462.3 389.4L463.2 389.5L464.1 389.6L465.0 389.7L466.0 389.8L466.9 389.9L467.8 390.0L468.7 390.1L469.6 390.2L470.5 390.3L471.4 390.4L472.3 390.5L473.2 390.6L474.2 390.7L475.1 390.8L476.0 390.9L476.9 391.0L477.8 391.1L478.7 391.1L479.6 391.2L480.5 391.3L481.4 391.3L482.4 391.4L483.3 391.4L484.2 391.4L485.1 391.5L486.0 391.5L486.9 391.5L487.8 391.5L488.7 391.5L489.6 391.5L490.6 391.5L491.5 391.5L492.4 391.5L493.3 391.5L494.2 391.5L495.1 391.5L496.0 391.5L496.9 391.5L497.8 391.5L498.7 391.5L499.7 391.5L500.6 391.5L501.5 391.5L502.4 391.5L503.3 391.5L504.2 391.5L505.1 391.5L506.0 391.5L506.9 391.5L507.9 391.5L508.8 391.5L509.7 391.5L510.6 391.5L511.5 391.5L512.4 391.5L513.3 391.5L514.2 391.5L515.1 391.5L516.1 391.5L517.0 391.5L517.9 391.5L518.8 391.5L519.7 391.5L520.6 391.5L521.5 391.5L522.4 391.5L523.3 391.5L524.3 391.5L525.2 391.5L526.1 391.5L527.0 391.5L527.9 391.5L528.8 391.5L529.7 391.5L530.6 391.5L531.5 391.5L532.4 391.5L533.4 391.5"/>
<path d="M60.6 392.1L61.5 392.1L62.5 392.1L63.4 392.1L64.3 392.2L65.2 392.2L66.1 392.2L67.0 392.2L67.9 392.2L68.8 392.3L69.7 392.3L70.6 392.3L71.6 392.3L72.5 392.3L73.4 392.4L74.3 392.4L75.2 392.4L76.1 392.4L77.0 392.4L77.9 392.5L78.8 392.5L79.8 392.5L80.7 392.5L81.6 392.5L82.5 392.6L83.4 392.6L84.3 392.6L85.2 392.6L86.1 392.6L87.0 392.6L88.0 392.7L88.9 392.7L89.8 392.7L90.7 392.7L91.6 392.7L92.5 392.8L93.4 392.8L94.3 392.8L95.2 392.8L96.2 392.8L97.1 392.9L98.0 392.9L98.9 392.9L99.8 392.9L100.7 392.9L101.6 392.9L102.5 393.0L103.4 393.0L104.4 393.0L105.3 393.0L106.2 393.0L107.1 393.0L108.0 393.0L108.9 393.0L109.8 393.0L110.7 393.0L111.6 392.9L112.5 392.9L113.5 392.8L114.4 392.8L115.3 392.7L116.2 392.6L117.1 392.5L118.0 392.5L118.9 392.4L119.8 392.3L120.7 392.2L121.7 392.1L122.6 392.0L123.5 391.9L124.4 391.8L125.3 391.8L126.2 391.7L127.1 391.6L128.0 391.5L128.9 391.4L129.9 391.3L130.8 391.2L131.7 391.1L132.6 391.0L133.5 391.0L134.4 390.9L135.3 390.9L136.2 390.9L137.1 390.9L138.1 390.9L139.0 390.9L139.9 391.0L140.8 391.0L141.7 391.0L142.6 391.0L143.5 391.1L144.4 391.1L145.3 391.1L146.2 391.1L147.2 391.2L148.1 391.2L149.0 391.2L149.9 391.2L150.8 391.2L151.7 391.2L152.6 391.1L153.5 391.1L154.4 391.0L155.4 391.0L156.3 390.9L157.2 390.8L158.1 390.8L159.0 390.7L159.9 390.6L160.8 390.5L161.7 390.4L162.6 390.3L163.6 390.2L164.5 390.0L165.4 389.9L166.3 389.7L167.2 389.6L168.1 389.4L169.0 389.3L169.9 389.1L170.8 388.9L171.8 388.7L172.7 388.6L173.6 388.4L174.5 388.2L175.4 388.0L176.3 387.8L177.2 387.6L178.1 387.4L179.0 387.2L180.0 386.9L180.9 386.7L181.8 386.5L182.7 386.2L183.6 386.0L184.5 385.7L185.4 385.5L186.3 385.2L187.2 385.0L188.1 384.7L189.1 384.4L190.0 384.1L190.9 383.8L191.8 383.5L192.7 383.1L193.6 382.8L194.5 382.4L195.4 382.0L196.3 381.6L197.3 381.2L198.2 380.8L199.1 380.3L200.0 379.7L200.9 379.1L201.8 378.5L202.7 377.9L203.6 377.2L204.5 376.6L205.5 375.9L206.4 375.1L207.3 374.4L208.2 373.6L209.1 372.7L210.0 371.9L210.9 371.0L211.8 370.2L212.7 369.3L213.7 368.5L214.6 367.6L215.5 366.7L216.4 365.9L217.3 365.0L218.2 364.1L219.1 363.2L220.0 362.3L220.9 361.3L221.9 360.3L222.8 359.3L223.7 358.3L224.6 357.3L225.5 356.2L226.4 355.1L227.3 353.9L228.2 352.8L229.1 351.5L230.0 350.2L231.0 348.9L231.9 347.5L232.8 346.0L233.7 344.4L234.6 342.7L235.5 341.0L236.4 338.9L237.3 336.5L238.2 334.0L239.2 331.5L240.1 329.4L241.0 327.9L241.9 326.6L242.8 325.6L243.7 325.0L244.6 325.1L245.5 325.5L246.4 325.9L247.4 326.0L248.3 325.9L249.2 325.6L250.1 325.2L251.0 324.6L251.9 323.5L252.8 322.0L253.7 320.7L254.6 319.4L255.6 318.1L256.5 316.6L257.4 314.9L258.3 312.9L259.2 310.7L260.1 308.1L261.0 305.1L261.9 301.4L262.8 296.1L263.7 290.1L264.7 284.5L265.6 279.0L266.5 272.8L267.4 265.5L268.3 257.4L269.2 247.9L270.1 238.3L271.0 229.4L271.9 220.3L272.9 211.0L273.8 202.2L274.7 193.8L275.6 185.7L276.5 178.0L277.4 170.4L278.3 163.9L279.2 158.3L280.1 153.5L281.1 150.2L282.0 147.4L282.9 145.7L283.8 145.8L284.7 147.1L285.6 149.1L286.5 151.4L287.4 154.9L288.3 159.4L289.3 165.1L290.2 175.0L291.1 186.5L292.0 199.0L292.9 216.2L293.8 228.5L294.7 236.8L295.6 246.3L296.5 256.6L297.5 268.6L298.4 280.9L299.3 291.3L300.2 301.1L301.1 310.6L302.0 319.0L302.9 326.6L303.8 333.3L304.7 338.5L305.6 342.5L306.6 345.8L307.5 348.7L308.4 351.2L309.3 353.6L310.2 355.9L311.1 357.9L312.0 359.6L312.9 360.7L313.8 361.3L314.8 361.9L315.7 362.4L316.6 362.8L317.5 363.1L318.4 363.3L319.3 363.5L320.2 363.5L321.1 363.4L322.0 363.2L323.0 362.9L323.9 362.5L324.8 362.0L325.7 361.5L326.6 360.6L327.5 359.2L328.4 357.2L329.3 354.8L330.2 352.1L331.2 348.7L332.1 343.8L333.0 338.3L333.9 333.3L334.8 328.4L335.7 323.4L336.6 318.2L337.5 313.1L338.4 307.7L339.3 301.5L340.3 294.1L341.2 286.7L342.1 279.5L343.0 272.7L343.9 266.3L344.8 259.8L345.7 252.2L346.6 243.7L347.5 234.0L348.5 223.7L349.4 213.6L350.3 203.0L351.2 189.4L352.1 178.6L353.0 166.1L353.9 153.9L354.8 138.6L355.7 128.1L356.7 118.3L357.6 108.3L358.5 99.5L359.4 91.0L360.3 82.2L361.2 75.4L362.1 71.2L363.0 68.9L363.9 67.8L364.9 68.5L365.8 70.4L366.7 72.9L367.6 77.1L368.5 83.9L369.4 96.2L370.3 107.7L371.2 117.5L372.1 132.9L373.1 151.0L374.0 165.9L374.9 188.8L375.8 207.2L376.7 219.1L377.6 233.0L378.5 249.7L379.4 263.4L380.3 274.8L381.2 285.2L382.2 294.9L383.1 303.9L384.0 312.1L384.9 320.4L385.8 327.3L386.7 332.9L387.6 337.5L388.5 341.4L389.4 345.0L390.4 348.2L391.3 350.9L392.2 353.1L393.1 355.0L394.0 356.7L394.9 358.3L395.8 359.8L396.7 361.1L397.6 362.2L398.6 363.3L399.5 364.2L400.4 365.1L401.3 366.0L402.2 366.7L403.1 367.5L404.0 368.2L404.9 368.8L405.8 369.5L406.8 370.1L407.7 370.7L408.6 371.3L409.5 371.9L410.4 372.5L411.3 373.1L412.2 373.8L413.1 374.4L414.0 374.9L414.9 375.5L415.9 376.1L416.8 376.6L417.7 377.2L418.6 377.7L419.5 378.2L420.4 378.7L421.3 379.2L422.2 379.6L423.1 380.0L424.1 380.4L425.0 380.8L425.9 381.1L426.8 381.5L427.7 381.8L428.6 382.2L429.5 382.5L430.4 382.8L431.3 383.1L432.3 383.4L433.2 383.7L434.1 384.0L435.0 384.2L435.9 384.5L436.8 384.7L437.7 385.0L438.6 385.2L439.5 385.4L440.5 385.6L441.4 385.9L442.3 386.1L443.2 386.3L444.1 386.4L445.0 386.6L445.9 386.8L446.8 387.0L447.7 387.2L448.7 387.3L449.6 387.5L450.5 387.7L451.4 387.8L452.3 388.0L453.2 388.1L454.1 388.3L455.0 388.4L455.9 388.6L456.8 388.7L457.8 388.8L458.7 388.9L459.6 389.1L460.5 389.2L461.4 389.3L462.3 389.4L463.2 389.5L464.1 389.6L465.0 389.7L466.0 389.8L466.9 389.9L467.8 390.0L468.7 390.1L469.6 390.2L470.5 390.3L471.4 390.4L472.3 390.5L473.2 390.6L474.2 390.7L475.1 390.8L476.0 390.9L476.9 391.0L477.8 391.1L478.7 391.1L479.6 391.2L480.5 391.3L481.4 391.3L482.4 391.4L483.3 391.4L484.2 391.4L485.1 391.5L486.0 391.5L486.9 391.5L487.8 391.5L488.7 391.5L489.6 391.5L490.6 391.5L491.5 391.5L492.4 391.5L493.3 391.5L494.2 391.5L495.1 391.5L496.0 391.5L496.9 391.5L497.8 391.5L498.7 391.5L499.7 391.5L500.6 391.5L501.5 391.5L502.4 391.5L503.3 391.5L504.2 391.5L505.1 391.5L506.0 391.5L506.9 391.5L507.9 391.5L508.8 391.5L509.7 391.5L510.6 391.5L511.5 391.5L512.4 391.5L513.3 391.5L514.2 391.5L515.1 391.5L516.1 391.5L517.0 391.5L517.9 391.5L518.8 391.5L519.7 391.5L520.6 391.5L521.5 391.5L522.4 391.5L523.3 391.5L524.3 391.5L525.2 391.5L526.1 391.5L527.0 391.5L527.9 391.5L528.8 391.5L529.7 391.5L530.6 391.5L531.5 391.5L532.4 391.5L533.4 391.5" stroke-width="2.6"/>
<path d="M61.0 392.1h0M62.1 392.1h0M63.2 392.1h0M64.3 392.2h0M65.4 392.2h0M66.5 392.2h0M67.6 392.2h0M68.6 392.3h0M69.7 392.3h0M70.8 392.3h0M71.9 392.3h0M73.0 392.4h0M74.1 392.4h0M75.2 392.4h0M76.3 392.4h0M77.3 392.4h0M78.4 392.5h0M79.5 392.5h0M80.6 392.5h0M81.7 392.5h0M82.8 392.6h0M83.9 392.6h0M84.9 392.6h0M86.0 392.6h0M87.1 392.6h0M88.2 392.7h0M89.3 392.7h0M90.4 392.7h0M91.5 392.7h0M92.5 392.8h0M93.6 392.8h0M94.7 392.8h0M95.8 392.8h0M96.9 392.9h0M98.0 392.9h0M99.1 392.9h0M100.2 392.9h0M101.2 392.9h0M102.3 392.9h0M103.4 393.0h0M104.5 393.0h0M105.6 393.0h0M106.7 393.0h0M107.8 393.0h0M108.8 393.0h0M109.9 393.0h0M111.0 393.0h0M112.1 392.9h0M113.2 392.9h0M114.3 392.8h0M115.4 392.7h0M116.5 392.6h0M117.5 392.5h0M118.6 392.4h0M119.7 392.3h0M120.8 392.2h0M121.9 392.1h0M123.0 392.0h0M124.1 391.9h0M125.1 391.8h0M126.2 391.7h0M127.3 391.6h0M128.4 391.5h0M129.5 391.3h0M130.6 391.2h0M131.7 391.1h0M132.7 391.0h0M133.8 391.0h0M134.9 390.9h0M136.0 390.9h0M137.1 390.9h0M138.2 390.9h0M139.3 390.9h0M140.4 391.0h0M141.4 391.0h0M142.5 391.0h0M143.6 391.1h0M144.7 391.1h0M145.8 391.1h0M146.9 391.2h0M148.0 391.2h0M149.0 391.2h0M150.1 391.2h0M151.2 391.2h0M152.3 391.2h0M153.4 391.1h0M154.5 391.0h0M155.6 391.0h0M156.7 390.9h0M157.7 390.8h0M158.8 390.7h0M159.9 390.6h0M161.0 390.5h0M162.1 390.4h0M163.2 390.2h0M164.3 390.1h0M165.3 389.9h0M166.4 389.7h0M167.5 389.5h0M168.6 389.3h0M169.7 389.1h0M170.8 388.9h0M171.9 388.7h0M172.9 388.5h0M174.0 388.3h0M175.1 388.0h0M176.2 387.8h0M177.3 387.6h0M178.4 387.3h0M179.5 387.0h0M180.6 386.8h0M181.6 386.5h0M182.7 386.2h0M183.8 385.9h0M184.9 385.6h0M186.0 385.3h0M187.1 385.0h0M188.2 384.7h0M189.2 384.3h0M190.3 384.0h0M191.4 383.6h0M192.5 383.2h0M193.6 382.8h0M194.7 382.4h0M195.8 381.9h0M196.9 381.4h0M197.9 380.9h0M199.0 380.3h0M200.1 379.6h0M201.2 378.9h0M202.3 378.2h0M203.4 377.4h0M204.5 376.6h0M205.5 375.8h0M206.6 374.9h0M207.7 374.0h0M208.8 373.0h0M209.9 372.0h0M211.0 371.0h0M212.1 370.0h0M213.2 368.9h0M214.2 367.9h0M215.3 366.9h0M216.4 365.8h0M217.5 364.8h0M218.6 363.7h0M219.7 362.6h0M220.8 361.5h0M221.8 360.3h0M222.9 359.1h0M224.0 357.9h0M225.1 356.7h0M226.2 355.4h0M227.3 354.0h0M228.4 352.6h0M229.4 351.1h0M230.5 349.5h0M231.6 347.9h0M232.7 346.1h0M233.8 344.2h0M234.9 342.2h0M236.0 340.0h0M237.1 337.3h0M238.1 334.2h0M239.2 331.3h0M240.3 328.9h0M241.4 327.3h0M242.5 325.9h0M243.6 325.1h0M244.7 325.1h0M245.7 325.6h0M246.8 326.0h0M247.9 325.9h0M249.0 325.6h0M250.1 325.2h0M251.2 324.4h0M252.3 322.9h0M253.4 321.2h0M254.4 319.7h0M255.5 318.2h0M256.6 316.4h0M257.7 314.2h0M258.8 311.7h0M259.9 308.8h0M261.0 305.3h0M262.0 300.9h0M263.1 294.2h0M264.2 287.2h0M265.3 280.7h0M266.4 273.5h0M267.5 264.8h0M268.6 254.9h0M269.6 243.2h0M270.7 232.3h0M271.8 221.6h0M272.9 210.5h0M274.0 200.0h0M275.1 190.2h0M276.2 180.8h0M277.3 171.7h0M278.3 163.7h0M279.4 157.2h0M280.5 152.0h0M281.6 148.4h0M282.7 145.9h0M283.8 145.8h0M284.9 147.5h0M285.9 149.8h0M287.0 153.2h0M288.1 158.2h0M289.2 164.7h0M290.3 176.6h0M291.4 190.4h0M292.5 207.2h0M293.6 225.7h0M294.6 236.1h0M295.7 247.3h0M296.8 259.9h0M297.9 274.9h0M299.0 288.1h0M300.1 299.9h0M301.2 311.2h0M302.2 321.0h0M303.3 329.8h0M304.4 336.9h0M305.5 341.9h0M306.6 345.9h0M307.7 349.3h0M308.8 352.2h0M309.8 355.0h0M310.9 357.5h0M312.0 359.6h0M313.1 360.8h0M314.2 361.5h0M315.3 362.2h0M316.4 362.7h0M317.5 363.1h0M318.5 363.4h0M319.6 363.5h0M320.7 363.5h0M321.8 363.3h0M322.9 362.9h0M324.0 362.4h0M325.1 361.9h0M326.1 361.1h0M327.2 359.7h0M328.3 357.4h0M329.4 354.6h0M330.5 351.3h0M331.6 346.5h0M332.7 340.1h0M333.8 334.0h0M334.8 328.2h0M335.9 322.2h0M337.0 316.0h0M338.1 309.8h0M339.2 302.7h0M340.3 294.0h0M341.4 285.2h0M342.4 276.8h0M343.5 268.8h0M344.6 261.3h0M345.7 252.4h0M346.8 242.2h0M347.9 230.2h0M349.0 218.1h0M350.0 206.0h0M351.1 190.1h0M352.2 177.1h0M353.3 162.0h0M354.4 146.6h0M355.5 130.6h0M356.6 119.4h0M357.7 107.5h0M358.7 97.0h0M359.8 86.8h0M360.9 77.4h0M362.0 71.5h0M363.1 68.8h0M364.2 67.8h0M365.3 69.3h0M366.3 71.9h0M367.4 76.2h0M368.5 84.2h0M369.6 99.1h0M370.7 111.3h0M371.8 126.3h0M372.9 147.8h0M374.0 165.7h0M375.0 192.8h0M376.1 211.8h0M377.2 226.8h0M378.3 245.5h0M379.4 262.8h0M380.5 276.4h0M381.6 288.6h0M382.6 299.8h0M383.7 309.9h0M384.8 319.7h0M385.9 328.0h0M387.0 334.4h0M388.1 339.5h0M389.2 343.9h0M390.2 347.8h0M391.3 351.1h0M392.4 353.6h0M393.5 355.8h0M394.6 357.8h0M395.7 359.6h0M396.8 361.1h0M397.9 362.5h0M398.9 363.7h0M400.0 364.8h0M401.1 365.8h0M402.2 366.7h0M403.3 367.6h0M404.4 368.4h0M405.5 369.2h0M406.5 369.9h0M407.6 370.7h0M408.7 371.4h0M409.8 372.1h0M410.9 372.9h0M412.0 373.6h0M413.1 374.3h0M414.2 375.0h0M415.2 375.7h0M416.3 376.4h0M417.4 377.0h0M418.5 377.6h0M419.6 378.3h0M420.7 378.8h0M421.8 379.4h0M422.8 379.9h0M423.9 380.4h0M425.0 380.8h0M426.1 381.2h0M427.2 381.6h0M428.3 382.0h0M429.4 382.4h0M430.5 382.8h0M431.5 383.2h0M432.6 383.5h0M433.7 383.8h0M434.8 384.2h0M435.9 384.5h0M437.0 384.8h0M438.1 385.1h0M439.1 385.3h0M440.2 385.6h0M441.3 385.8h0M442.4 386.1h0M443.5 386.3h0M444.6 386.5h0M445.7 386.8h0M446.7 387.0h0M447.8 387.2h0M448.9 387.4h0M450.0 387.6h0M451.1 387.8h0M452.2 388.0h0M453.3 388.2h0M454.4 388.3h0M455.4 388.5h0M456.5 388.6h0M457.6 388.8h0M458.7 388.9h0M459.8 389.1h0M460.9 389.2h0M462.0 389.3h0M463.0 389.5h0M464.1 389.6h0M465.2 389.7h0M466.3 389.8h0M467.4 390.0h0M468.5 390.1h0M469.6 390.2h0M470.7 390.3h0M471.7 390.5h0M472.8 390.6h0M473.9 390.7h0M475.0 390.8h0M476.1 390.9h0M477.2 391.0h0M478.3 391.1h0M479.3 391.2h0M480.4 391.2h0M481.5 391.3h0M482.6 391.4h0M483.7 391.4h0M484.8 391.5h0M485.9 391.5h0M486.9 391.5h0M488.0 391.5h0M489.1 391.5h0M490.2 391.5h0M491.3 391.5h0M492.4 391.5h0M493.5 391.5h0M494.6 391.5h0M495.6 391.5h0M496.7 391.5h0M497.8 391.5h0M498.9 391.5h0M500.0 391.5h0M501.1 391.5h0M502.2 391.5h0M503.2 391.5h0M504.3 391.5h0M505.4 391.5h0M506.5 391.5h0M507.6 391.5h0M508.7 391.5h0M509.8 391.5h0M510.9 391.5h0M511.9 391.5h0M513.0 391.5h0M514.1 391.5h0M515.2 391.5h0M516.3 391.5h0M517.4 391.5h0M518.5 391.5h0M519.5 391.5h0M520.6 391.5h0M521.7 391.5h0M522.8 391.5h0M523.9 391.5h0M525.0 391.5h0M526.1 391.5h0M527.1 391.5h0M528.2 391.5h0M529.3 391.5h0M530.4 391.5h0M531.5 391.5h0M532.6 391.5h0" stroke-width="6.3" stroke-linecap="round"/></g></g>
<g clip-path="url(#cb)"><g fill="none" stroke="#0000ff" stroke-width="2.2"><path d="M60.6 753.0L61.5 753.0L62.5 753.0L63.4 753.0L64.3 753.0L65.2 753.0L66.1 753.0L67.0 753.0L67.9 753.0L68.8 753.0L69.7 753.0L70.6 753.0L71.6 753.0L72.5 753.0L73.4 753.0L74.3 753.0L75.2 753.0L76.1 753.0L77.0 753.0L77.9 753.0L78.8 753.0L79.8 753.0L80.7 753.0L81.6 753.0L82.5 753.0L83.4 753.0L84.3 753.0L85.2 753.0L86.1 753.0L87.0 753.0L88.0 753.0L88.9 753.0L89.8 753.0L90.7 753.0L91.6 753.0L92.5 753.0L93.4 753.0L94.3 752.9L95.2 752.9L96.2 752.9L97.1 752.9L98.0 752.9L98.9 752.9L99.8 752.9L100.7 752.9L101.6 752.9L102.5 752.9L103.4 752.9L104.4 752.9L105.3 752.9L106.2 752.9L107.1 752.9L108.0 752.9L108.9 752.9L109.8 752.9L110.7 752.9L111.6 752.9L112.5 752.9L113.5 752.9L114.4 752.9L115.3 752.9L116.2 752.9L117.1 752.9L118.0 752.9L118.9 752.9L119.8 752.9L120.7 752.9L121.7 752.9L122.6 752.9L123.5 752.9L124.4 752.9L125.3 752.9L126.2 752.9L127.1 752.9L128.0 752.9L128.9 752.9L129.9 752.9L130.8 752.9L131.7 752.9L132.6 752.9L133.5 752.8L134.4 752.8L135.3 752.8L136.2 752.8L137.1 752.8L138.1 752.8L139.0 752.8L139.9 752.8L140.8 752.8L141.7 752.8L142.6 752.8L143.5 752.8L144.4 752.8L145.3 752.8L146.2 752.7L147.2 752.7L148.1 752.7L149.0 752.7L149.9 752.7L150.8 752.7L151.7 752.7L152.6 752.6L153.5 752.6L154.4 752.6L155.4 752.5L156.3 752.5L157.2 752.4L158.1 752.3L159.0 752.2L159.9 752.1L160.8 751.9L161.7 751.7L162.6 751.5L163.6 751.1L164.5 750.7L165.4 750.2L166.3 749.6L167.2 748.9L168.1 748.0L169.0 746.9L169.9 745.7L170.8 744.3L171.8 742.7L172.7 740.9L173.6 738.9L174.5 736.8L175.4 734.4L176.3 732.0L177.2 729.4L178.1 726.9L179.0 724.3L180.0 721.8L180.9 719.4L181.8 717.2L182.7 715.2L183.6 713.6L184.5 712.4L185.4 711.6L186.3 711.3L187.2 711.4L188.1 712.1L189.1 713.1L190.0 714.6L190.9 716.4L191.8 718.5L192.7 720.8L193.6 723.3L194.5 725.9L195.4 728.5L196.3 731.0L197.3 733.5L198.2 735.9L199.1 738.1L200.0 740.2L200.9 742.0L201.8 743.7L202.7 745.2L203.6 746.5L204.5 747.6L205.5 748.5L206.4 749.3L207.3 750.0L208.2 750.6L209.1 751.0L210.0 751.4L210.9 751.6L211.8 751.9L212.7 752.0L213.7 752.2L214.6 752.3L215.5 752.4L216.4 752.5L217.3 752.5L218.2 752.6L219.1 752.6L220.0 752.6L220.9 752.6L221.9 752.7L222.8 752.7L223.7 752.7L224.6 752.7L225.5 752.7L226.4 752.7L227.3 752.8L228.2 752.8L229.1 752.8L230.0 752.8L231.0 752.8L231.9 752.8L232.8 752.8L233.7 752.8L234.6 752.8L235.5 752.8L236.4 752.8L237.3 752.8L238.2 752.8L239.2 752.8L240.1 752.9L241.0 752.9L241.9 752.9L242.8 752.9L243.7 752.9L244.6 752.9L245.5 752.9L246.4 752.9L247.4 752.9L248.3 752.9L249.2 752.9L250.1 752.9L251.0 752.9L251.9 752.9L252.8 752.9L253.7 752.9L254.6 752.9L255.6 752.9L256.5 752.9L257.4 752.9L258.3 752.9L259.2 752.9L260.1 752.9L261.0 752.9L261.9 752.9L262.8 752.9L263.7 752.9L264.7 752.9L265.6 752.9L266.5 752.9L267.4 752.9L268.3 752.9L269.2 752.9L270.1 752.9L271.0 752.9L271.9 752.9L272.9 752.9L273.8 752.9L274.7 752.9L275.6 752.9L276.5 752.9L277.4 752.9L278.3 752.9L279.2 752.9L280.1 753.0L281.1 753.0L282.0 753.0L282.9 753.0L283.8 753.0L284.7 753.0L285.6 753.0L286.5 753.0L287.4 753.0L288.3 753.0L289.3 753.0L290.2 753.0L291.1 753.0L292.0 753.0L292.9 753.0L293.8 753.0L294.7 753.0L295.6 753.0L296.5 753.0L297.5 753.0L298.4 753.0L299.3 753.0L300.2 753.0L301.1 753.0L302.0 753.0L302.9 753.0L303.8 753.0L304.7 753.0L305.6 753.0L306.6 753.0L307.5 753.0L308.4 753.0L309.3 753.0L310.2 753.0L311.1 753.0L312.0 753.0L312.9 753.0L313.8 753.0L314.8 753.0L315.7 753.0L316.6 753.0L317.5 753.0L318.4 753.0L319.3 753.0L320.2 753.0L321.1 753.0L322.0 753.0L323.0 753.0L323.9 753.0L324.8 753.0L325.7 753.0L326.6 753.0L327.5 753.0L328.4 753.0L329.3 753.0L330.2 753.0L331.2 753.0L332.1 753.0L333.0 753.0L333.9 753.0L334.8 753.0L335.7 753.0L336.6 753.0L337.5 753.0L338.4 753.0L339.3 753.0L340.3 753.0L341.2 753.0L342.1 753.0L343.0 753.0L343.9 753.0L344.8 753.0L345.7 753.0L346.6 753.0L347.5 753.0L348.5 753.0L349.4 753.0L350.3 753.0L351.2 753.0L352.1 753.0L353.0 753.0L353.9 753.0L354.8 753.0L355.7 753.0L356.7 753.0L357.6 753.0L358.5 753.0L359.4 753.0L360.3 753.0L361.2 753.0L362.1 753.0L363.0 753.0L363.9 753.0L364.9 753.0L365.8 753.0L366.7 753.0L367.6 753.0L368.5 753.0L369.4 753.0L370.3 753.0L371.2 753.0L372.1 753.0L373.1 753.0L374.0 753.0L374.9 753.0L375.8 753.0L376.7 753.0L377.6 753.0L378.5 753.0L379.4 753.0L380.3 753.0L381.2 753.0L382.2 753.0L383.1 753.0L384.0 753.0L384.9 753.0L385.8 753.0L386.7 753.0L387.6 753.0L388.5 753.0L389.4 753.0L390.4 753.0L391.3 753.0L392.2 753.0L393.1 753.0L394.0 753.0L394.9 753.0L395.8 753.0L396.7 753.0L397.6 753.0L398.6 753.0L399.5 753.0L400.4 753.0L401.3 753.0L402.2 753.0L403.1 753.0L404.0 753.0L404.9 753.0L405.8 753.0L406.8 753.0L407.7 753.0L408.6 753.0L409.5 753.0L410.4 753.0L411.3 753.0L412.2 753.0L413.1 753.0L414.0 753.0L414.9 753.0L415.9 753.0L416.8 753.0L417.7 753.0L418.6 753.0L419.5 753.0L420.4 753.0L421.3 753.0L422.2 753.0L423.1 753.0L424.1 753.0L425.0 753.0L425.9 753.0L426.8 753.0L427.7 753.0L428.6 753.0L429.5 753.0L430.4 753.0L431.3 753.0L432.3 753.0L433.2 753.0L434.1 753.0L435.0 753.0L435.9 753.0L436.8 753.0L437.7 753.0L438.6 753.0L439.5 753.0L440.5 753.0L441.4 753.0L442.3 753.0L443.2 753.0L444.1 753.0L445.0 753.0L445.9 753.0L446.8 753.0L447.7 753.0L448.7 753.0L449.6 753.0L450.5 753.0L451.4 753.0L452.3 753.0L453.2 753.0L454.1 753.0L455.0 753.0L455.9 753.0L456.8 753.0L457.8 753.0L458.7 753.0L459.6 753.0L460.5 753.0L461.4 753.0L462.3 753.0L463.2 753.0L464.1 753.0L465.0 753.0L466.0 753.0L466.9 753.0L467.8 753.0L468.7 753.0L469.6 753.0L470.5 753.0L471.4 753.0L472.3 753.0L473.2 753.0L474.2 753.0L475.1 753.0L476.0 753.0L476.9 753.0L477.8 753.0L478.7 753.0L479.6 753.0L480.5 753.0L481.4 753.0L482.4 753.0L483.3 753.0L484.2 753.0L485.1 753.0L486.0 753.0L486.9 753.0L487.8 753.0L488.7 753.0L489.6 753.0L490.6 753.0L491.5 753.0L492.4 753.0L493.3 753.0L494.2 753.0L495.1 753.0L496.0 753.0L496.9 753.0L497.8 753.0L498.7 753.0L499.7 753.0L500.6 753.0L501.5 753.0L502.4 753.0L503.3 753.0L504.2 753.0L505.1 753.0L506.0 753.0L506.9 753.0L507.9 753.0L508.8 753.0L509.7 753.0L510.6 753.0L511.5 753.0L512.4 753.0L513.3 753.0L514.2 753.0L515.1 753.0L516.1 753.0L517.0 753.0L517.9 753.0L518.8 753.0L519.7 753.0L520.6 753.0L521.5 753.0L522.4 753.0L523.3 753.0L524.3 753.0L525.2 753.0L526.1 753.0L527.0 753.0L527.9 753.0L528.8 753.0L529.7 753.0L530.6 753.0L531.5 753.0L532.4 753.0L533.4 753.0"/>
<path d="M60.6 753.0L61.5 753.0L62.5 753.0L63.4 753.0L64.3 753.0L65.2 753.0L66.1 753.0L67.0 753.0L67.9 753.0L68.8 753.0L69.7 753.0L70.6 753.0L71.6 753.0L72.5 753.0L73.4 753.0L74.3 753.0L75.2 753.0L76.1 753.0L77.0 753.0L77.9 753.0L78.8 753.0L79.8 753.0L80.7 753.0L81.6 753.0L82.5 753.0L83.4 753.0L84.3 753.0L85.2 753.0L86.1 753.0L87.0 753.0L88.0 753.0L88.9 753.0L89.8 753.0L90.7 753.0L91.6 753.0L92.5 753.0L93.4 753.0L94.3 753.0L95.2 753.0L96.2 753.0L97.1 753.0L98.0 753.0L98.9 753.0L99.8 753.0L100.7 753.0L101.6 753.0L102.5 753.0L103.4 753.0L104.4 753.0L105.3 753.0L106.2 753.0L107.1 753.0L108.0 753.0L108.9 753.0L109.8 753.0L110.7 753.0L111.6 753.0L112.5 753.0L113.5 753.0L114.4 753.0L115.3 753.0L116.2 753.0L117.1 753.0L118.0 753.0L118.9 753.0L119.8 753.0L120.7 753.0L121.7 753.0L122.6 753.0L123.5 753.0L124.4 753.0L125.3 753.0L126.2 753.0L127.1 753.0L128.0 753.0L128.9 753.0L129.9 753.0L130.8 753.0L131.7 753.0L132.6 753.0L133.5 753.0L134.4 753.0L135.3 753.0L136.2 753.0L137.1 753.0L138.1 753.0L139.0 753.0L139.9 753.0L140.8 753.0L141.7 753.0L142.6 753.0L143.5 753.0L144.4 753.0L145.3 753.0L146.2 753.0L147.2 753.0L148.1 753.0L149.0 753.0L149.9 753.0L150.8 753.0L151.7 753.0L152.6 753.0L153.5 753.0L154.4 753.0L155.4 753.0L156.3 753.0L157.2 753.0L158.1 753.0L159.0 753.0L159.9 753.0L160.8 753.0L161.7 753.0L162.6 753.0L163.6 753.0L164.5 753.0L165.4 753.0L166.3 753.0L167.2 753.0L168.1 753.0L169.0 753.0L169.9 753.0L170.8 753.0L171.8 753.0L172.7 753.0L173.6 753.0L174.5 753.0L175.4 753.0L176.3 753.0L177.2 753.0L178.1 753.0L179.0 753.0L180.0 753.0L180.9 753.0L181.8 753.0L182.7 753.0L183.6 753.0L184.5 753.0L185.4 753.0L186.3 753.0L187.2 753.0L188.1 753.0L189.1 753.0L190.0 753.0L190.9 752.9L191.8 752.9L192.7 752.9L193.6 752.8L194.5 752.8L195.4 752.7L196.3 752.6L197.3 752.4L198.2 752.2L199.1 752.0L200.0 751.6L200.9 751.2L201.8 750.8L202.7 750.1L203.6 749.4L204.5 748.5L205.5 747.4L206.4 746.1L207.3 744.5L208.2 742.7L209.1 740.6L210.0 738.2L210.9 735.5L211.8 732.4L212.7 729.1L213.7 725.3L214.6 721.3L215.5 717.0L216.4 712.4L217.3 707.6L218.2 702.7L219.1 697.6L220.0 692.6L220.9 687.6L221.9 682.8L222.8 678.2L223.7 674.0L224.6 670.2L225.5 667.0L226.4 664.4L227.3 662.4L228.2 661.1L229.1 660.5L230.0 660.7L231.0 661.5L231.9 663.0L232.8 665.0L233.7 667.6L234.6 670.7L235.5 674.2L236.4 678.1L237.3 682.4L238.2 686.8L239.2 691.4L240.1 696.1L241.0 700.8L241.9 705.4L242.8 709.9L243.7 714.3L244.6 718.5L245.5 722.4L246.4 726.1L247.4 729.5L248.3 732.6L249.2 735.4L250.1 738.0L251.0 740.2L251.9 742.2L252.8 744.0L253.7 745.5L254.6 746.8L255.6 747.9L256.5 748.9L257.4 749.6L258.3 750.3L259.2 750.9L260.1 751.3L261.0 751.7L261.9 752.0L262.8 752.2L263.7 752.4L264.7 752.5L265.6 752.6L266.5 752.7L267.4 752.8L268.3 752.8L269.2 752.9L270.1 752.9L271.0 752.9L271.9 753.0L272.9 753.0L273.8 753.0L274.7 753.0L275.6 753.0L276.5 753.0L277.4 753.0L278.3 753.0L279.2 753.0L280.1 753.0L281.1 753.0L282.0 753.0L282.9 753.0L283.8 753.0L284.7 753.0L285.6 753.0L286.5 753.0L287.4 753.0L288.3 753.0L289.3 753.0L290.2 753.0L291.1 753.0L292.0 753.0L292.9 753.0L293.8 753.0L294.7 753.0L295.6 753.0L296.5 753.0L297.5 753.0L298.4 753.0L299.3 753.0L300.2 753.0L301.1 753.0L302.0 753.0L302.9 753.0L303.8 753.0L304.7 753.0L305.6 753.0L306.6 753.0L307.5 753.0L308.4 753.0L309.3 753.0L310.2 753.0L311.1 753.0L312.0 753.0L312.9 753.0L313.8 753.0L314.8 753.0L315.7 753.0L316.6 753.0L317.5 753.0L318.4 753.0L319.3 753.0L320.2 753.0L321.1 753.0L322.0 753.0L323.0 753.0L323.9 753.0L324.8 753.0L325.7 753.0L326.6 753.0L327.5 753.0L328.4 753.0L329.3 753.0L330.2 753.0L331.2 753.0L332.1 753.0L333.0 753.0L333.9 753.0L334.8 753.0L335.7 753.0L336.6 753.0L337.5 753.0L338.4 753.0L339.3 753.0L340.3 753.0L341.2 753.0L342.1 753.0L343.0 753.0L343.9 753.0L344.8 753.0L345.7 753.0L346.6 753.0L347.5 753.0L348.5 753.0L349.4 753.0L350.3 753.0L351.2 753.0L352.1 753.0L353.0 753.0L353.9 753.0L354.8 753.0L355.7 753.0L356.7 753.0L357.6 753.0L358.5 753.0L359.4 753.0L360.3 753.0L361.2 753.0L362.1 753.0L363.0 753.0L363.9 753.0L364.9 753.0L365.8 753.0L366.7 753.0L367.6 753.0L368.5 753.0L369.4 753.0L370.3 753.0L371.2 753.0L372.1 753.0L373.1 753.0L374.0 753.0L374.9 753.0L375.8 753.0L376.7 753.0L377.6 753.0L378.5 753.0L379.4 753.0L380.3 753.0L381.2 753.0L382.2 753.0L383.1 753.0L384.0 753.0L384.9 753.0L385.8 753.0L386.7 753.0L387.6 753.0L388.5 753.0L389.4 753.0L390.4 753.0L391.3 753.0L392.2 753.0L393.1 753.0L394.0 753.0L394.9 753.0L395.8 753.0L396.7 753.0L397.6 753.0L398.6 753.0L399.5 753.0L400.4 753.0L401.3 753.0L402.2 753.0L403.1 753.0L404.0 753.0L404.9 753.0L405.8 753.0L406.8 753.0L407.7 753.0L408.6 753.0L409.5 753.0L410.4 753.0L411.3 753.0L412.2 753.0L413.1 753.0L414.0 753.0L414.9 753.0L415.9 753.0L416.8 753.0L417.7 753.0L418.6 753.0L419.5 753.0L420.4 753.0L421.3 753.0L422.2 753.0L423.1 753.0L424.1 753.0L425.0 753.0L425.9 753.0L426.8 753.0L427.7 753.0L428.6 753.0L429.5 753.0L430.4 753.0L431.3 753.0L432.3 753.0L433.2 753.0L434.1 753.0L435.0 753.0L435.9 753.0L436.8 753.0L437.7 753.0L438.6 753.0L439.5 753.0L440.5 753.0L441.4 753.0L442.3 753.0L443.2 753.0L444.1 753.0L445.0 753.0L445.9 753.0L446.8 753.0L447.7 753.0L448.7 753.0L449.6 753.0L450.5 753.0L451.4 753.0L452.3 753.0L453.2 753.0L454.1 753.0L455.0 753.0L455.9 753.0L456.8 753.0L457.8 753.0L458.7 753.0L459.6 753.0L460.5 753.0L461.4 753.0L462.3 753.0L463.2 753.0L464.1 753.0L465.0 753.0L466.0 753.0L466.9 753.0L467.8 753.0L468.7 753.0L469.6 753.0L470.5 753.0L471.4 753.0L472.3 753.0L473.2 753.0L474.2 753.0L475.1 753.0L476.0 753.0L476.9 753.0L477.8 753.0L478.7 753.0L479.6 753.0L480.5 753.0L481.4 753.0L482.4 753.0L483.3 753.0L484.2 753.0L485.1 753.0L486.0 753.0L486.9 753.0L487.8 753.0L488.7 753.0L489.6 753.0L490.6 753.0L491.5 753.0L492.4 753.0L493.3 753.0L494.2 753.0L495.1 753.0L496.0 753.0L496.9 753.0L497.8 753.0L498.7 753.0L499.7 753.0L500.6 753.0L501.5 753.0L502.4 753.0L503.3 753.0L504.2 753.0L505.1 753.0L506.0 753.0L506.9 753.0L507.9 753.0L508.8 753.0L509.7 753.0L510.6 753.0L511.5 753.0L512.4 753.0L513.3 753.0L514.2 753.0L515.1 753.0L516.1 753.0L517.0 753.0L517.9 753.0L518.8 753.0L519.7 753.0L520.6 753.0L521.5 753.0L522.4 753.0L523.3 753.0L524.3 753.0L525.2 753.0L526.1 753.0L527.0 753.0L527.9 753.0L528.8 753.0L529.7 753.0L530.6 753.0L531.5 753.0L532.4 753.0L533.4 753.0"/>
<path d="M60.6 753.0L61.5 753.0L62.5 753.0L63.4 753.0L64.3 753.0L65.2 753.0L66.1 753.0L67.0 753.0L67.9 753.0L68.8 753.0L69.7 753.0L70.6 753.0L71.6 753.0L72.5 753.0L73.4 753.0L74.3 753.0L75.2 753.0L76.1 753.0L77.0 753.0L77.9 753.0L78.8 753.0L79.8 753.0L80.7 753.0L81.6 753.0L82.5 753.0L83.4 753.0L84.3 753.0L85.2 753.0L86.1 753.0L87.0 753.0L88.0 753.0L88.9 753.0L89.8 753.0L90.7 753.0L91.6 753.0L92.5 753.0L93.4 753.0L94.3 753.0L95.2 753.0L96.2 753.0L97.1 753.0L98.0 753.0L98.9 753.0L99.8 753.0L100.7 753.0L101.6 753.0L102.5 753.0L103.4 753.0L104.4 753.0L105.3 753.0L106.2 753.0L107.1 753.0L108.0 753.0L108.9 753.0L109.8 753.0L110.7 753.0L111.6 753.0L112.5 753.0L113.5 753.0L114.4 753.0L115.3 753.0L116.2 753.0L117.1 753.0L118.0 753.0L118.9 753.0L119.8 753.0L120.7 753.0L121.7 753.0L122.6 753.0L123.5 753.0L124.4 753.0L125.3 753.0L126.2 753.0L127.1 753.0L128.0 753.0L128.9 753.0L129.9 753.0L130.8 753.0L131.7 753.0L132.6 753.0L133.5 753.0L134.4 753.0L135.3 753.0L136.2 753.0L137.1 753.0L138.1 753.0L139.0 753.0L139.9 753.0L140.8 753.0L141.7 753.0L142.6 753.0L143.5 753.0L144.4 753.0L145.3 753.0L146.2 753.0L147.2 753.0L148.1 753.0L149.0 753.0L149.9 753.0L150.8 753.0L151.7 753.0L152.6 753.0L153.5 753.0L154.4 753.0L155.4 753.0L156.3 753.0L157.2 753.0L158.1 753.0L159.0 753.0L159.9 753.0L160.8 753.0L161.7 753.0L162.6 753.0L163.6 753.0L164.5 753.0L165.4 753.0L166.3 753.0L167.2 753.0L168.1 753.0L169.0 753.0L169.9 753.0L170.8 753.0L171.8 753.0L172.7 753.0L173.6 753.0L174.5 753.0L175.4 753.0L176.3 753.0L177.2 753.0L178.1 753.0L179.0 753.0L180.0 753.0L180.9 753.0L181.8 753.0L182.7 753.0L183.6 753.0L184.5 753.0L185.4 753.0L186.3 753.0L187.2 753.0L188.1 753.0L189.1 753.0L190.0 753.0L190.9 753.0L191.8 753.0L192.7 753.0L193.6 753.0L194.5 753.0L195.4 753.0L196.3 753.0L197.3 753.0L198.2 753.0L199.1 753.0L200.0 753.0L200.9 753.0L201.8 753.0L202.7 753.0L203.6 753.0L204.5 753.0L205.5 753.0L206.4 753.0L207.3 752.9L208.2 752.9L209.1 752.9L210.0 752.8L210.9 752.7L211.8 752.6L212.7 752.4L213.7 752.2L214.6 751.9L215.5 751.5L216.4 751.0L217.3 750.3L218.2 749.4L219.1 748.3L220.0 746.9L220.9 745.2L221.9 743.1L222.8 740.6L223.7 737.6L224.6 734.1L225.5 730.0L226.4 725.4L227.3 720.2L228.2 714.4L229.1 708.1L230.0 701.4L231.0 694.3L231.9 686.9L232.8 679.4L233.7 672.0L234.6 664.8L235.5 658.0L236.4 651.8L237.3 646.4L238.2 641.9L239.2 638.4L240.1 636.2L241.0 635.2L241.9 635.7L242.8 638.4L243.7 643.1L244.6 649.6L245.5 657.5L246.4 666.5L247.4 676.1L248.3 686.0L249.2 695.6L250.1 704.8L251.0 713.3L251.9 720.9L252.8 727.5L253.7 733.2L254.6 737.9L255.6 741.7L256.5 744.7L257.4 747.0L258.3 748.7L259.2 750.0L260.1 751.0L261.0 751.7L261.9 752.1L262.8 752.4L263.7 752.6L264.7 752.8L265.6 752.9L266.5 752.9L267.4 753.0L268.3 753.0L269.2 753.0L270.1 753.0L271.0 753.0L271.9 753.0L272.9 753.0L273.8 753.0L274.7 753.0L275.6 753.0L276.5 753.0L277.4 753.0L278.3 753.0L279.2 753.0L280.1 753.0L281.1 753.0L282.0 753.0L282.9 753.0L283.8 753.0L284.7 753.0L285.6 753.0L286.5 753.0L287.4 753.0L288.3 753.0L289.3 753.0L290.2 753.0L291.1 753.0L292.0 753.0L292.9 753.0L293.8 753.0L294.7 753.0L295.6 753.0L296.5 753.0L297.5 753.0L298.4 753.0L299.3 753.0L300.2 753.0L301.1 753.0L302.0 753.0L302.9 753.0L303.8 753.0L304.7 753.0L305.6 753.0L306.6 753.0L307.5 753.0L308.4 753.0L309.3 753.0L310.2 753.0L311.1 753.0L312.0 753.0L312.9 753.0L313.8 753.0L314.8 753.0L315.7 753.0L316.6 753.0L317.5 753.0L318.4 753.0L319.3 753.0L320.2 753.0L321.1 753.0L322.0 753.0L323.0 753.0L323.9 753.0L324.8 753.0L325.7 753.0L326.6 753.0L327.5 753.0L328.4 753.0L329.3 753.0L330.2 753.0L331.2 753.0L332.1 753.0L333.0 753.0L333.9 753.0L334.8 753.0L335.7 753.0L336.6 753.0L337.5 753.0L338.4 753.0L339.3 753.0L340.3 753.0L341.2 753.0L342.1 753.0L343.0 753.0L343.9 753.0L344.8 753.0L345.7 753.0L346.6 753.0L347.5 753.0L348.5 753.0L349.4 753.0L350.3 753.0L351.2 753.0L352.1 753.0L353.0 753.0L353.9 753.0L354.8 753.0L355.7 753.0L356.7 753.0L357.6 753.0L358.5 753.0L359.4 753.0L360.3 753.0L361.2 753.0L362.1 753.0L363.0 753.0L363.9 753.0L364.9 753.0L365.8 753.0L366.7 753.0L367.6 753.0L368.5 753.0L369.4 753.0L370.3 753.0L371.2 753.0L372.1 753.0L373.1 753.0L374.0 753.0L374.9 753.0L375.8 753.0L376.7 753.0L377.6 753.0L378.5 753.0L379.4 753.0L380.3 753.0L381.2 753.0L382.2 753.0L383.1 753.0L384.0 753.0L384.9 753.0L385.8 753.0L386.7 753.0L387.6 753.0L388.5 753.0L389.4 753.0L390.4 753.0L391.3 753.0L392.2 753.0L393.1 753.0L394.0 753.0L394.9 753.0L395.8 753.0L396.7 753.0L397.6 753.0L398.6 753.0L399.5 753.0L400.4 753.0L401.3 753.0L402.2 753.0L403.1 753.0L404.0 753.0L404.9 753.0L405.8 753.0L406.8 753.0L407.7 753.0L408.6 753.0L409.5 753.0L410.4 753.0L411.3 753.0L412.2 753.0L413.1 753.0L414.0 753.0L414.9 753.0L415.9 753.0L416.8 753.0L417.7 753.0L418.6 753.0L419.5 753.0L420.4 753.0L421.3 753.0L422.2 753.0L423.1 753.0L424.1 753.0L425.0 753.0L425.9 753.0L426.8 753.0L427.7 753.0L428.6 753.0L429.5 753.0L430.4 753.0L431.3 753.0L432.3 753.0L433.2 753.0L434.1 753.0L435.0 753.0L435.9 753.0L436.8 753.0L437.7 753.0L438.6 753.0L439.5 753.0L440.5 753.0L441.4 753.0L442.3 753.0L443.2 753.0L444.1 753.0L445.0 753.0L445.9 753.0L446.8 753.0L447.7 753.0L448.7 753.0L449.6 753.0L450.5 753.0L451.4 753.0L452.3 753.0L453.2 753.0L454.1 753.0L455.0 753.0L455.9 753.0L456.8 753.0L457.8 753.0L458.7 753.0L459.6 753.0L460.5 753.0L461.4 753.0L462.3 753.0L463.2 753.0L464.1 753.0L465.0 753.0L466.0 753.0L466.9 753.0L467.8 753.0L468.7 753.0L469.6 753.0L470.5 753.0L471.4 753.0L472.3 753.0L473.2 753.0L474.2 753.0L475.1 753.0L476.0 753.0L476.9 753.0L477.8 753.0L478.7 753.0L479.6 753.0L480.5 753.0L481.4 753.0L482.4 753.0L483.3 753.0L484.2 753.0L485.1 753.0L486.0 753.0L486.9 753.0L487.8 753.0L488.7 753.0L489.6 753.0L490.6 753.0L491.5 753.0L492.4 753.0L493.3 753.0L494.2 753.0L495.1 753.0L496.0 753.0L496.9 753.0L497.8 753.0L498.7 753.0L499.7 753.0L500.6 753.0L501.5 753.0L502.4 753.0L503.3 753.0L504.2 753.0L505.1 753.0L506.0 753.0L506.9 753.0L507.9 753.0L508.8 753.0L509.7 753.0L510.6 753.0L511.5 753.0L512.4 753.0L513.3 753.0L514.2 753.0L515.1 753.0L516.1 753.0L517.0 753.0L517.9 753.0L518.8 753.0L519.7 753.0L520.6 753.0L521.5 753.0L522.4 753.0L523.3 753.0L524.3 753.0L525.2 753.0L526.1 753.0L527.0 753.0L527.9 753.0L528.8 753.0L529.7 753.0L530.6 753.0L531.5 753.0L532.4 753.0L533.4 753.0"/>
<path d="M60.6 752.9L61.5 752.9L62.5 752.9L63.4 752.9L64.3 752.9L65.2 752.9L66.1 752.9L67.0 752.9L67.9 752.9L68.8 752.9L69.7 752.9L70.6 752.9L71.6 752.9L72.5 752.9L73.4 752.9L74.3 752.9L75.2 752.9L76.1 752.9L77.0 752.9L77.9 752.9L78.8 752.9L79.8 752.9L80.7 752.9L81.6 752.9L82.5 752.9L83.4 752.9L84.3 752.9L85.2 752.9L86.1 752.9L87.0 752.9L88.0 752.9L88.9 752.9L89.8 752.9L90.7 752.9L91.6 752.9L92.5 752.9L93.4 752.9L94.3 752.9L95.2 752.9L96.2 752.9L97.1 752.9L98.0 752.9L98.9 752.9L99.8 752.9L100.7 752.9L101.6 752.9L102.5 752.9L103.4 752.9L104.4 752.9L105.3 752.9L106.2 752.9L107.1 752.9L108.0 752.9L108.9 752.9L109.8 752.9L110.7 752.9L111.6 752.9L112.5 752.9L113.5 752.9L114.4 752.9L115.3 752.9L116.2 752.9L117.1 752.9L118.0 752.9L118.9 752.9L119.8 752.9L120.7 752.9L121.7 752.9L122.6 752.9L123.5 752.9L124.4 752.9L125.3 752.9L126.2 752.9L127.1 752.9L128.0 752.9L128.9 752.9L129.9 752.9L130.8 752.9L131.7 752.9L132.6 752.9L133.5 752.9L134.4 752.9L135.3 752.9L136.2 752.9L137.1 752.9L138.1 752.9L139.0 752.9L139.9 752.9L140.8 752.9L141.7 752.8L142.6 752.8L143.5 752.8L144.4 752.8L145.3 752.8L146.2 752.8L147.2 752.8L148.1 752.8L149.0 752.8L149.9 752.8L150.8 752.8L151.7 752.8L152.6 752.8L153.5 752.8L154.4 752.8L155.4 752.8L156.3 752.8L157.2 752.8L158.1 752.8L159.0 752.8L159.9 752.8L160.8 752.8L161.7 752.8L162.6 752.8L163.6 752.8L164.5 752.8L165.4 752.8L166.3 752.8L167.2 752.8L168.1 752.8L169.0 752.8L169.9 752.8L170.8 752.8L171.8 752.8L172.7 752.8L173.6 752.8L174.5 752.7L175.4 752.7L176.3 752.7L177.2 752.7L178.1 752.7L179.0 752.7L180.0 752.7L180.9 752.7L181.8 752.7L182.7 752.7L183.6 752.7L184.5 752.7L185.4 752.7L186.3 752.7L187.2 752.7L188.1 752.7L189.1 752.7L190.0 752.7L190.9 752.7L191.8 752.6L192.7 752.6L193.6 752.6L194.5 752.6L195.4 752.6L196.3 752.6L197.3 752.6L198.2 752.6L199.1 752.6L200.0 752.6L200.9 752.6L201.8 752.6L202.7 752.5L203.6 752.5L204.5 752.5L205.5 752.5L206.4 752.5L207.3 752.5L208.2 752.5L209.1 752.5L210.0 752.5L210.9 752.4L211.8 752.4L212.7 752.4L213.7 752.4L214.6 752.4L215.5 752.4L216.4 752.4L217.3 752.3L218.2 752.3L219.1 752.3L220.0 752.3L220.9 752.3L221.9 752.2L222.8 752.2L223.7 752.2L224.6 752.2L225.5 752.1L226.4 752.1L227.3 752.1L228.2 752.1L229.1 752.0L230.0 752.0L231.0 752.0L231.9 751.9L232.8 751.9L233.7 751.9L234.6 751.8L235.5 751.8L236.4 751.7L237.3 751.7L238.2 751.6L239.2 751.6L240.1 751.5L241.0 751.5L241.9 751.4L242.8 751.3L243.7 751.3L244.6 751.2L245.5 751.1L246.4 751.0L247.4 750.9L248.3 750.7L249.2 750.6L250.1 750.4L251.0 750.2L251.9 750.0L252.8 749.6L253.7 749.3L254.6 748.8L255.6 748.2L256.5 747.4L257.4 746.4L258.3 745.2L259.2 743.7L260.1 741.8L261.0 739.5L261.9 736.7L262.8 733.2L263.7 729.1L264.7 724.1L265.6 718.3L266.5 711.5L267.4 703.7L268.3 694.8L269.2 684.8L270.1 673.6L271.0 661.4L271.9 648.1L272.9 633.9L273.8 619.0L274.7 603.6L275.6 587.8L276.5 572.1L277.4 556.6L278.3 541.8L279.2 528.1L280.1 515.8L281.1 505.2L282.0 496.8L282.9 490.7L283.8 487.2L284.7 486.5L285.6 488.7L286.5 493.9L287.4 501.8L288.3 512.1L289.3 524.5L290.2 538.6L291.1 553.9L292.0 570.0L292.9 586.5L293.8 603.1L294.7 619.3L295.6 635.0L296.5 649.7L297.5 663.5L298.4 676.2L299.3 687.6L300.2 697.8L301.1 706.7L302.0 714.5L302.9 721.2L303.8 726.8L304.7 731.5L305.6 735.4L306.6 738.6L307.5 741.2L308.4 743.3L309.3 745.0L310.2 746.3L311.1 747.3L312.0 748.1L312.9 748.8L313.8 749.3L314.8 749.7L315.7 750.0L316.6 750.3L317.5 750.5L318.4 750.6L319.3 750.8L320.2 750.9L321.1 751.0L322.0 751.1L323.0 751.2L323.9 751.3L324.8 751.4L325.7 751.4L326.6 751.5L327.5 751.6L328.4 751.6L329.3 751.7L330.2 751.7L331.2 751.8L332.1 751.8L333.0 751.9L333.9 751.9L334.8 751.9L335.7 752.0L336.6 752.0L337.5 752.0L338.4 752.1L339.3 752.1L340.3 752.1L341.2 752.2L342.1 752.2L343.0 752.2L343.9 752.2L344.8 752.3L345.7 752.3L346.6 752.3L347.5 752.3L348.5 752.3L349.4 752.4L350.3 752.4L351.2 752.4L352.1 752.4L353.0 752.4L353.9 752.4L354.8 752.4L355.7 752.5L356.7 752.5L357.6 752.5L358.5 752.5L359.4 752.5L360.3 752.5L361.2 752.5L362.1 752.5L363.0 752.6L363.9 752.6L364.9 752.6L365.8 752.6L366.7 752.6L367.6 752.6L368.5 752.6L369.4 752.6L370.3 752.6L371.2 752.6L372.1 752.6L373.1 752.6L374.0 752.7L374.9 752.7L375.8 752.7L376.7 752.7L377.6 752.7L378.5 752.7L379.4 752.7L380.3 752.7L381.2 752.7L382.2 752.7L383.1 752.7L384.0 752.7L384.9 752.7L385.8 752.7L386.7 752.7L387.6 752.7L388.5 752.7L389.4 752.7L390.4 752.8L391.3 752.8L392.2 752.8L393.1 752.8L394.0 752.8L394.9 752.8L395.8 752.8L396.7 752.8L397.6 752.8L398.6 752.8L399.5 752.8L400.4 752.8L401.3 752.8L402.2 752.8L403.1 752.8L404.0 752.8L404.9 752.8L405.8 752.8L406.8 752.8L407.7 752.8L408.6 752.8L409.5 752.8L410.4 752.8L411.3 752.8L412.2 752.8L413.1 752.8L414.0 752.8L414.9 752.8L415.9 752.8L416.8 752.8L417.7 752.8L418.6 752.8L419.5 752.8L420.4 752.8L421.3 752.9L422.2 752.9L423.1 752.9L424.1 752.9L425.0 752.9L425.9 752.9L426.8 752.9L427.7 752.9L428.6 752.9L429.5 752.9L430.4 752.9L431.3 752.9L432.3 752.9L433.2 752.9L434.1 752.9L435.0 752.9L435.9 752.9L436.8 752.9L437.7 752.9L438.6 752.9L439.5 752.9L440.5 752.9L441.4 752.9L442.3 752.9L443.2 752.9L444.1 752.9L445.0 752.9L445.9 752.9L446.8 752.9L447.7 752.9L448.7 752.9L449.6 752.9L450.5 752.9L451.4 752.9L452.3 752.9L453.2 752.9L454.1 752.9L455.0 752.9L455.9 752.9L456.8 752.9L457.8 752.9L458.7 752.9L459.6 752.9L460.5 752.9L461.4 752.9L462.3 752.9L463.2 752.9L464.1 752.9L465.0 752.9L466.0 752.9L466.9 752.9L467.8 752.9L468.7 752.9L469.6 752.9L470.5 752.9L471.4 752.9L472.3 752.9L473.2 752.9L474.2 752.9L475.1 752.9L476.0 752.9L476.9 752.9L477.8 752.9L478.7 752.9L479.6 752.9L480.5 752.9L481.4 752.9L482.4 752.9L483.3 752.9L484.2 752.9L485.1 752.9L486.0 752.9L486.9 752.9L487.8 752.9L488.7 752.9L489.6 752.9L490.6 752.9L491.5 752.9L492.4 752.9L493.3 752.9L494.2 752.9L495.1 752.9L496.0 752.9L496.9 752.9L497.8 752.9L498.7 752.9L499.7 752.9L500.6 752.9L501.5 752.9L502.4 752.9L503.3 752.9L504.2 752.9L505.1 752.9L506.0 752.9L506.9 752.9L507.9 752.9L508.8 752.9L509.7 752.9L510.6 752.9L511.5 752.9L512.4 752.9L513.3 752.9L514.2 752.9L515.1 752.9L516.1 752.9L517.0 752.9L517.9 752.9L518.8 752.9L519.7 752.9L520.6 752.9L521.5 753.0L522.4 753.0L523.3 753.0L524.3 753.0L525.2 753.0L526.1 753.0L527.0 753.0L527.9 753.0L528.8 753.0L529.7 753.0L530.6 753.0L531.5 753.0L532.4 753.0L533.4 753.0"/>
<path d="M60.6 752.9L61.5 752.9L62.5 752.9L63.4 752.9L64.3 752.9L65.2 752.9L66.1 752.9L67.0 752.9L67.9 752.9L68.8 752.9L69.7 752.9L70.6 752.9L71.6 752.9L72.5 752.9L73.4 752.9L74.3 752.9L75.2 752.9L76.1 752.9L77.0 752.9L77.9 752.9L78.8 752.9L79.8 752.9L80.7 752.9L81.6 752.9L82.5 752.9L83.4 752.9L84.3 752.9L85.2 752.9L86.1 752.9L87.0 752.9L88.0 752.9L88.9 752.9L89.8 752.9L90.7 752.9L91.6 752.9L92.5 752.9L93.4 752.9L94.3 752.9L95.2 752.9L96.2 752.9L97.1 752.9L98.0 752.9L98.9 752.9L99.8 752.9L100.7 752.9L101.6 752.9L102.5 752.9L103.4 752.9L104.4 752.9L105.3 752.9L106.2 752.9L107.1 752.9L108.0 752.9L108.9 752.9L109.8 752.9L110.7 752.9L111.6 752.9L112.5 752.9L113.5 752.9L114.4 752.9L115.3 752.9L116.2 752.9L117.1 752.9L118.0 752.9L118.9 752.9L119.8 752.9L120.7 752.9L121.7 752.9L122.6 752.9L123.5 752.9L124.4 752.9L125.3 752.9L126.2 752.9L127.1 752.9L128.0 752.9L128.9 752.9L129.9 752.9L130.8 752.9L131.7 752.9L132.6 752.9L133.5 752.9L134.4 752.9L135.3 752.9L136.2 752.9L137.1 752.9L138.1 752.9L139.0 752.9L139.9 752.9L140.8 752.9L141.7 752.9L142.6 752.9L143.5 752.9L144.4 752.9L145.3 752.9L146.2 752.9L147.2 752.9L148.1 752.9L149.0 752.9L149.9 752.8L150.8 752.8L151.7 752.8L152.6 752.8L153.5 752.8L154.4 752.8L155.4 752.8L156.3 752.8L157.2 752.8L158.1 752.8L159.0 752.8L159.9 752.8L160.8 752.8L161.7 752.8L162.6 752.8L163.6 752.8L164.5 752.8L165.4 752.8L166.3 752.8L167.2 752.8L168.1 752.8L169.0 752.8L169.9 752.8L170.8 752.8L171.8 752.8L172.7 752.8L173.6 752.8L174.5 752.8L175.4 752.8L176.3 752.8L177.2 752.8L178.1 752.8L179.0 752.8L180.0 752.8L180.9 752.8L181.8 752.8L182.7 752.8L183.6 752.8L184.5 752.8L185.4 752.8L186.3 752.7L187.2 752.7L188.1 752.7L189.1 752.7L190.0 752.7L190.9 752.7L191.8 752.7L192.7 752.7L193.6 752.7L194.5 752.7L195.4 752.7L196.3 752.7L197.3 752.7L198.2 752.7L199.1 752.7L200.0 752.7L200.9 752.7L201.8 752.7L202.7 752.7L203.6 752.7L204.5 752.7L205.5 752.6L206.4 752.6L207.3 752.6L208.2 752.6L209.1 752.6L210.0 752.6L210.9 752.6L211.8 752.6L212.7 752.6L213.7 752.6L214.6 752.6L215.5 752.6L216.4 752.6L217.3 752.6L218.2 752.5L219.1 752.5L220.0 752.5L220.9 752.5L221.9 752.5L222.8 752.5L223.7 752.5L224.6 752.5L225.5 752.5L226.4 752.4L227.3 752.4L228.2 752.4L229.1 752.4L230.0 752.4L231.0 752.4L231.9 752.4L232.8 752.4L233.7 752.3L234.6 752.3L235.5 752.3L236.4 752.3L237.3 752.3L238.2 752.3L239.2 752.2L240.1 752.2L241.0 752.2L241.9 752.2L242.8 752.2L243.7 752.1L244.6 752.1L245.5 752.1L246.4 752.1L247.4 752.0L248.3 752.0L249.2 752.0L250.1 751.9L251.0 751.9L251.9 751.9L252.8 751.8L253.7 751.8L254.6 751.8L255.6 751.7L256.5 751.7L257.4 751.6L258.3 751.6L259.2 751.5L260.1 751.5L261.0 751.4L261.9 751.4L262.8 751.3L263.7 751.2L264.7 751.2L265.6 751.1L266.5 751.0L267.4 751.0L268.3 750.9L269.2 750.8L270.1 750.7L271.0 750.6L271.9 750.5L272.9 750.3L273.8 750.2L274.7 750.0L275.6 749.9L276.5 749.7L277.4 749.5L278.3 749.2L279.2 748.9L280.1 748.6L281.1 748.2L282.0 747.7L282.9 747.2L283.8 746.5L284.7 745.8L285.6 744.8L286.5 743.7L287.4 742.4L288.3 740.8L289.3 739.0L290.2 736.8L291.1 734.3L292.0 731.4L292.9 728.2L293.8 724.5L294.7 720.4L295.6 715.8L296.5 710.9L297.5 705.5L298.4 699.8L299.3 693.8L300.2 687.6L301.1 681.3L302.0 674.9L302.9 668.7L303.8 662.7L304.7 657.1L305.6 652.2L306.6 648.0L307.5 644.8L308.4 642.7L309.3 641.8L310.2 642.0L311.1 643.0L312.0 644.8L312.9 647.4L313.8 650.5L314.8 654.2L315.7 658.4L316.6 662.9L317.5 667.8L318.4 672.8L319.3 677.9L320.2 683.0L321.1 688.2L322.0 693.2L323.0 698.1L323.9 702.8L324.8 707.3L325.7 711.5L326.6 715.5L327.5 719.2L328.4 722.7L329.3 725.8L330.2 728.7L331.2 731.3L332.1 733.7L333.0 735.8L333.9 737.7L334.8 739.3L335.7 740.8L336.6 742.1L337.5 743.2L338.4 744.2L339.3 745.1L340.3 745.8L341.2 746.4L342.1 747.0L343.0 747.5L343.9 747.9L344.8 748.2L345.7 748.6L346.6 748.8L347.5 749.1L348.5 749.3L349.4 749.5L350.3 749.7L351.2 749.8L352.1 750.0L353.0 750.1L353.9 750.2L354.8 750.3L355.7 750.4L356.7 750.5L357.6 750.6L358.5 750.7L359.4 750.8L360.3 750.8L361.2 750.9L362.1 751.0L363.0 751.1L363.9 751.1L364.9 751.2L365.8 751.2L366.7 751.3L367.6 751.3L368.5 751.4L369.4 751.4L370.3 751.5L371.2 751.5L372.1 751.6L373.1 751.6L374.0 751.6L374.9 751.7L375.8 751.7L376.7 751.7L377.6 751.8L378.5 751.8L379.4 751.8L380.3 751.9L381.2 751.9L382.2 751.9L383.1 751.9L384.0 752.0L384.9 752.0L385.8 752.0L386.7 752.0L387.6 752.1L388.5 752.1L389.4 752.1L390.4 752.1L391.3 752.1L392.2 752.2L393.1 752.2L394.0 752.2L394.9 752.2L395.8 752.2L396.7 752.2L397.6 752.3L398.6 752.3L399.5 752.3L400.4 752.3L401.3 752.3L402.2 752.3L403.1 752.3L404.0 752.3L404.9 752.4L405.8 752.4L406.8 752.4L407.7 752.4L408.6 752.4L409.5 752.4L410.4 752.4L411.3 752.4L412.2 752.4L413.1 752.5L414.0 752.5L414.9 752.5L415.9 752.5L416.8 752.5L417.7 752.5L418.6 752.5L419.5 752.5L420.4 752.5L421.3 752.5L422.2 752.5L423.1 752.5L424.1 752.6L425.0 752.6L425.9 752.6L426.8 752.6L427.7 752.6L428.6 752.6L429.5 752.6L430.4 752.6L431.3 752.6L432.3 752.6L433.2 752.6L434.1 752.6L435.0 752.6L435.9 752.6L436.8 752.6L437.7 752.6L438.6 752.6L439.5 752.7L440.5 752.7L441.4 752.7L442.3 752.7L443.2 752.7L444.1 752.7L445.0 752.7L445.9 752.7L446.8 752.7L447.7 752.7L448.7 752.7L449.6 752.7L450.5 752.7L451.4 752.7L452.3 752.7L453.2 752.7L454.1 752.7L455.0 752.7L455.9 752.7L456.8 752.7L457.8 752.7L458.7 752.7L459.6 752.7L460.5 752.7L461.4 752.7L462.3 752.7L463.2 752.8L464.1 752.8L465.0 752.8L466.0 752.8L466.9 752.8L467.8 752.8L468.7 752.8L469.6 752.8L470.5 752.8L471.4 752.8L472.3 752.8L473.2 752.8L474.2 752.8L475.1 752.8L476.0 752.8L476.9 752.8L477.8 752.8L478.7 752.8L479.6 752.8L480.5 752.8L481.4 752.8L482.4 752.8L483.3 752.8L484.2 752.8L485.1 752.8L486.0 752.8L486.9 752.8L487.8 752.8L488.7 752.8L489.6 752.8L490.6 752.8L491.5 752.8L492.4 752.8L493.3 752.8L494.2 752.8L495.1 752.8L496.0 752.8L496.9 752.8L497.8 752.8L498.7 752.8L499.7 752.8L500.6 752.8L501.5 752.8L502.4 752.8L503.3 752.8L504.2 752.8L505.1 752.8L506.0 752.8L506.9 752.8L507.9 752.9L508.8 752.9L509.7 752.9L510.6 752.9L511.5 752.9L512.4 752.9L513.3 752.9L514.2 752.9L515.1 752.9L516.1 752.9L517.0 752.9L517.9 752.9L518.8 752.9L519.7 752.9L520.6 752.9L521.5 752.9L522.4 752.9L523.3 752.9L524.3 752.9L525.2 752.9L526.1 752.9L527.0 752.9L527.9 752.9L528.8 752.9L529.7 752.9L530.6 752.9L531.5 752.9L532.4 752.9L533.4 752.9"/>
<path d="M60.6 752.9L61.5 752.9L62.5 752.9L63.4 752.9L64.3 752.9L65.2 752.9L66.1 752.9L67.0 752.9L67.9 752.9L68.8 752.9L69.7 752.9L70.6 752.9L71.6 752.9L72.5 752.9L73.4 752.9L74.3 752.9L75.2 752.9L76.1 752.9L77.0 752.9L77.9 752.9L78.8 752.9L79.8 752.9L80.7 752.9L81.6 752.9L82.5 752.9L83.4 752.9L84.3 752.9L85.2 752.9L86.1 752.9L87.0 752.9L88.0 752.9L88.9 752.9L89.8 752.9L90.7 752.9L91.6 752.9L92.5 752.9L93.4 752.9L94.3 752.9L95.2 752.9L96.2 752.9L97.1 752.9L98.0 752.9L98.9 752.8L99.8 752.8L100.7 752.8L101.6 752.8L102.5 752.8L103.4 752.8L104.4 752.8L105.3 752.8L106.2 752.8L107.1 752.8L108.0 752.8L108.9 752.8L109.8 752.8L110.7 752.8L111.6 752.8L112.5 752.8L113.5 752.8L114.4 752.8L115.3 752.8L116.2 752.8L117.1 752.8L118.0 752.8L118.9 752.8L119.8 752.8L120.7 752.8L121.7 752.8L122.6 752.8L123.5 752.8L124.4 752.8L125.3 752.8L126.2 752.8L127.1 752.8L128.0 752.8L128.9 752.8L129.9 752.8L130.8 752.8L131.7 752.8L132.6 752.8L133.5 752.8L134.4 752.8L135.3 752.8L136.2 752.8L137.1 752.8L138.1 752.8L139.0 752.8L139.9 752.8L140.8 752.8L141.7 752.8L142.6 752.8L143.5 752.8L144.4 752.8L145.3 752.8L146.2 752.8L147.2 752.8L148.1 752.8L149.0 752.8L149.9 752.8L150.8 752.8L151.7 752.8L152.6 752.8L153.5 752.8L154.4 752.8L155.4 752.8L156.3 752.8L157.2 752.8L158.1 752.8L159.0 752.7L159.9 752.7L160.8 752.7L161.7 752.7L162.6 752.7L163.6 752.7L164.5 752.7L165.4 752.7L166.3 752.7L167.2 752.7L168.1 752.7L169.0 752.7L169.9 752.7L170.8 752.7L171.8 752.7L172.7 752.7L173.6 752.7L174.5 752.7L175.4 752.7L176.3 752.7L177.2 752.7L178.1 752.7L179.0 752.7L180.0 752.7L180.9 752.7L181.8 752.7L182.7 752.7L183.6 752.7L184.5 752.7L185.4 752.7L186.3 752.7L187.2 752.7L188.1 752.7L189.1 752.7L190.0 752.7L190.9 752.6L191.8 752.6L192.7 752.6L193.6 752.6L194.5 752.6L195.4 752.6L196.3 752.6L197.3 752.6L198.2 752.6L199.1 752.6L200.0 752.6L200.9 752.6L201.8 752.6L202.7 752.6L203.6 752.6L204.5 752.6L205.5 752.6L206.4 752.6L207.3 752.6L208.2 752.6L209.1 752.6L210.0 752.6L210.9 752.6L211.8 752.5L212.7 752.5L213.7 752.5L214.6 752.5L215.5 752.5L216.4 752.5L217.3 752.5L218.2 752.5L219.1 752.5L220.0 752.5L220.9 752.5L221.9 752.5L222.8 752.5L223.7 752.5L224.6 752.5L225.5 752.5L226.4 752.4L227.3 752.4L228.2 752.4L229.1 752.4L230.0 752.4L231.0 752.4L231.9 752.4L232.8 752.4L233.7 752.4L234.6 752.4L235.5 752.4L236.4 752.4L237.3 752.3L238.2 752.3L239.2 752.3L240.1 752.3L241.0 752.3L241.9 752.3L242.8 752.3L243.7 752.3L244.6 752.3L245.5 752.3L246.4 752.2L247.4 752.2L248.3 752.2L249.2 752.2L250.1 752.2L251.0 752.2L251.9 752.2L252.8 752.2L253.7 752.1L254.6 752.1L255.6 752.1L256.5 752.1L257.4 752.1L258.3 752.1L259.2 752.0L260.1 752.0L261.0 752.0L261.9 752.0L262.8 752.0L263.7 752.0L264.7 751.9L265.6 751.9L266.5 751.9L267.4 751.9L268.3 751.9L269.2 751.8L270.1 751.8L271.0 751.8L271.9 751.8L272.9 751.7L273.8 751.7L274.7 751.7L275.6 751.7L276.5 751.6L277.4 751.6L278.3 751.6L279.2 751.6L280.1 751.5L281.1 751.5L282.0 751.5L282.9 751.4L283.8 751.4L284.7 751.4L285.6 751.3L286.5 751.3L287.4 751.2L288.3 751.2L289.3 751.2L290.2 751.1L291.1 751.1L292.0 751.0L292.9 751.0L293.8 750.9L294.7 750.9L295.6 750.8L296.5 750.8L297.5 750.7L298.4 750.6L299.3 750.6L300.2 750.5L301.1 750.4L302.0 750.4L302.9 750.3L303.8 750.2L304.7 750.1L305.6 750.0L306.6 749.9L307.5 749.9L308.4 749.8L309.3 749.7L310.2 749.5L311.1 749.4L312.0 749.3L312.9 749.2L313.8 749.0L314.8 748.9L315.7 748.8L316.6 748.6L317.5 748.4L318.4 748.2L319.3 748.0L320.2 747.8L321.1 747.6L322.0 747.3L323.0 747.0L323.9 746.6L324.8 746.2L325.7 745.8L326.6 745.3L327.5 744.7L328.4 744.0L329.3 743.1L330.2 742.2L331.2 741.0L332.1 739.7L333.0 738.2L333.9 736.3L334.8 734.2L335.7 731.7L336.6 728.8L337.5 725.5L338.4 721.7L339.3 717.3L340.3 712.3L341.2 706.7L342.1 700.4L343.0 693.3L343.9 685.5L344.8 676.9L345.7 667.6L346.6 657.4L347.5 646.5L348.5 634.8L349.4 622.5L350.3 609.6L351.2 596.2L352.1 582.4L353.0 568.4L353.9 554.4L354.8 540.4L355.7 526.7L356.7 513.6L357.6 501.2L358.5 489.8L359.4 479.6L360.3 470.8L361.2 463.7L362.1 458.4L363.0 455.0L363.9 453.8L364.9 455.0L365.8 459.0L366.7 465.9L367.6 475.1L368.5 486.6L369.4 499.8L370.3 514.4L371.2 530.0L372.1 546.3L373.1 562.9L374.0 579.5L374.9 595.8L375.8 611.6L376.7 626.7L377.6 640.9L378.5 654.2L379.4 666.4L380.3 677.5L381.2 687.5L382.2 696.4L383.1 704.3L384.0 711.2L384.9 717.2L385.8 722.3L386.7 726.7L387.6 730.4L388.5 733.5L389.4 736.1L390.4 738.3L391.3 740.1L392.2 741.5L393.1 742.8L394.0 743.8L394.9 744.6L395.8 745.3L396.7 745.9L397.6 746.4L398.6 746.9L399.5 747.2L400.4 747.6L401.3 747.9L402.2 748.1L403.1 748.3L404.0 748.6L404.9 748.7L405.8 748.9L406.8 749.1L407.7 749.2L408.6 749.4L409.5 749.5L410.4 749.7L411.3 749.8L412.2 749.9L413.1 750.0L414.0 750.1L414.9 750.2L415.9 750.3L416.8 750.4L417.7 750.5L418.6 750.5L419.5 750.6L420.4 750.7L421.3 750.8L422.2 750.8L423.1 750.9L424.1 751.0L425.0 751.0L425.9 751.1L426.8 751.1L427.7 751.2L428.6 751.2L429.5 751.3L430.4 751.3L431.3 751.4L432.3 751.4L433.2 751.4L434.1 751.5L435.0 751.5L435.9 751.6L436.8 751.6L437.7 751.6L438.6 751.7L439.5 751.7L440.5 751.7L441.4 751.8L442.3 751.8L443.2 751.8L444.1 751.8L445.0 751.9L445.9 751.9L446.8 751.9L447.7 751.9L448.7 752.0L449.6 752.0L450.5 752.0L451.4 752.0L452.3 752.0L453.2 752.1L454.1 752.1L455.0 752.1L455.9 752.1L456.8 752.1L457.8 752.1L458.7 752.2L459.6 752.2L460.5 752.2L461.4 752.2L462.3 752.2L463.2 752.2L464.1 752.3L465.0 752.3L466.0 752.3L466.9 752.3L467.8 752.3L468.7 752.3L469.6 752.3L470.5 752.3L471.4 752.3L472.3 752.4L473.2 752.4L474.2 752.4L475.1 752.4L476.0 752.4L476.9 752.4L477.8 752.4L478.7 752.4L479.6 752.4L480.5 752.4L481.4 752.5L482.4 752.5L483.3 752.5L484.2 752.5L485.1 752.5L486.0 752.5L486.9 752.5L487.8 752.5L488.7 752.5L489.6 752.5L490.6 752.5L491.5 752.5L492.4 752.5L493.3 752.5L494.2 752.6L495.1 752.6L496.0 752.6L496.9 752.6L497.8 752.6L498.7 752.6L499.7 752.6L500.6 752.6L501.5 752.6L502.4 752.6L503.3 752.6L504.2 752.6L505.1 752.6L506.0 752.6L506.9 752.6L507.9 752.6L508.8 752.6L509.7 752.6L510.6 752.6L511.5 752.7L512.4 752.7L513.3 752.7L514.2 752.7L515.1 752.7L516.1 752.7L517.0 752.7L517.9 752.7L518.8 752.7L519.7 752.7L520.6 752.7L521.5 752.7L522.4 752.7L523.3 752.7L524.3 752.7L525.2 752.7L526.1 752.7L527.0 752.7L527.9 752.7L528.8 752.7L529.7 752.7L530.6 752.7L531.5 752.7L532.4 752.7L533.4 752.7"/>
<path d="M60.6 750.9L61.5 750.9L62.5 750.9L63.4 750.9L64.3 750.9L65.2 750.9L66.1 750.9L67.0 750.9L67.9 750.9L68.8 750.9L69.7 750.9L70.6 750.9L71.6 750.9L72.5 750.9L73.4 750.9L74.3 750.9L75.2 750.9L76.1 750.9L77.0 750.9L77.9 750.9L78.8 750.9L79.8 750.9L80.7 750.9L81.6 750.9L82.5 750.9L83.4 750.9L84.3 750.9L85.2 750.9L86.1 750.9L87.0 750.8L88.0 750.8L88.9 750.8L89.8 750.8L90.7 750.8L91.6 750.8L92.5 750.8L93.4 750.8L94.3 750.8L95.2 750.8L96.2 750.8L97.1 750.8L98.0 750.8L98.9 750.8L99.8 750.8L100.7 750.8L101.6 750.8L102.5 750.8L103.4 750.8L104.4 750.8L105.3 750.8L106.2 750.8L107.1 750.8L108.0 750.8L108.9 750.8L109.8 750.8L110.7 750.7L111.6 750.7L112.5 750.7L113.5 750.7L114.4 750.7L115.3 750.7L116.2 750.7L117.1 750.7L118.0 750.7L118.9 750.7L119.8 750.7L120.7 750.7L121.7 750.7L122.6 750.7L123.5 750.7L124.4 750.7L125.3 750.7L126.2 750.6L127.1 750.6L128.0 750.6L128.9 750.6L129.9 750.6L130.8 750.6L131.7 750.6L132.6 750.6L133.5 750.6L134.4 750.6L135.3 750.6L136.2 750.5L137.1 750.5L138.1 750.5L139.0 750.5L139.9 750.5L140.8 750.5L141.7 750.5L142.6 750.5L143.5 750.4L144.4 750.4L145.3 750.4L146.2 750.4L147.2 750.4L148.1 750.4L149.0 750.3L149.9 750.3L150.8 750.3L151.7 750.3L152.6 750.2L153.5 750.2L154.4 750.2L155.4 750.1L156.3 750.1L157.2 750.0L158.1 749.9L159.0 749.8L159.9 749.7L160.8 749.5L161.7 749.3L162.6 749.0L163.6 748.7L164.5 748.3L165.4 747.7L166.3 747.1L167.2 746.4L168.1 745.5L169.0 744.4L169.9 743.2L170.8 741.8L171.8 740.2L172.7 738.4L173.6 736.4L174.5 734.2L175.4 731.9L176.3 729.4L177.2 726.8L178.1 724.2L179.0 721.6L180.0 719.1L180.9 716.7L181.8 714.5L182.7 712.6L183.6 711.0L184.5 709.7L185.4 708.9L186.3 708.6L187.2 708.7L188.1 709.3L189.1 710.3L190.0 711.8L190.9 713.5L191.8 715.6L192.7 717.9L193.6 720.3L194.5 722.8L195.4 725.3L196.3 727.7L197.3 730.0L198.2 732.2L199.1 734.1L200.0 735.9L200.9 737.3L201.8 738.5L202.7 739.3L203.6 739.8L204.5 740.0L205.5 739.8L206.4 739.3L207.3 738.3L208.2 737.0L209.1 735.3L210.0 733.2L210.9 730.6L211.8 727.7L212.7 724.3L213.7 720.5L214.6 716.2L215.5 711.5L216.4 706.5L217.3 701.0L218.2 695.2L219.1 689.1L220.0 682.6L220.9 675.9L221.9 669.0L222.8 661.9L223.7 654.6L224.6 647.3L225.5 640.0L226.4 632.7L227.3 625.4L228.2 618.3L229.1 611.5L230.0 604.9L231.0 598.5L231.9 592.6L232.8 587.1L233.7 582.2L234.6 578.0L235.5 574.7L236.4 572.4L237.3 571.1L238.2 570.9L239.2 572.0L240.1 574.4L241.0 577.9L241.9 583.0L242.8 590.1L243.7 599.1L244.6 609.7L245.5 621.4L246.4 634.0L247.4 646.8L248.3 659.6L249.2 671.9L250.1 683.4L251.0 693.9L251.9 703.2L252.8 711.2L253.7 718.0L254.6 723.4L255.6 727.7L256.5 730.8L257.4 732.9L258.3 734.0L259.2 734.3L260.1 733.7L261.0 732.4L261.9 730.2L262.8 727.2L263.7 723.4L264.7 718.7L265.6 713.0L266.5 706.2L267.4 698.4L268.3 689.5L269.2 679.4L270.1 668.2L271.0 655.8L271.9 642.4L272.9 628.1L273.8 613.0L274.7 597.4L275.6 581.5L276.5 565.5L277.4 549.8L278.3 534.8L279.2 520.7L280.1 508.1L281.1 497.1L282.0 488.1L282.9 481.5L283.8 477.3L284.7 475.7L285.6 477.0L286.5 481.0L287.4 487.5L288.3 496.2L289.3 506.8L290.2 518.6L291.1 531.4L292.0 544.6L292.9 557.8L293.8 570.6L294.7 582.7L295.6 593.8L296.5 603.5L297.5 611.9L298.4 618.8L299.3 624.1L300.2 628.0L301.1 630.6L302.0 631.9L302.9 632.2L303.8 631.8L304.7 630.9L305.6 629.8L306.6 628.7L307.5 628.0L308.4 627.9L309.3 628.6L310.2 630.0L311.1 632.0L312.0 634.4L312.9 637.5L313.8 641.0L314.8 645.0L315.7 649.3L316.6 654.0L317.5 658.8L318.4 663.8L319.3 668.9L320.2 673.9L321.1 678.9L322.0 683.8L323.0 688.4L323.9 692.9L324.8 697.0L325.7 700.9L326.6 704.5L327.5 707.6L328.4 710.4L329.3 712.8L330.2 714.8L331.2 716.3L332.1 717.4L333.0 718.0L333.9 718.1L334.8 717.6L335.7 716.7L336.6 715.1L337.5 712.9L338.4 710.1L339.3 706.6L340.3 702.4L341.2 697.4L342.1 691.7L343.0 685.2L343.9 677.8L344.8 669.6L345.7 660.6L346.6 650.7L347.5 640.0L348.5 628.6L349.4 616.5L350.3 603.8L351.2 590.6L352.1 577.0L353.0 563.1L353.9 549.2L354.8 535.3L355.7 521.8L356.7 508.8L357.6 496.5L358.5 485.1L359.4 475.0L360.3 466.3L361.2 459.3L362.1 454.1L363.0 450.8L363.9 449.6L364.9 450.9L365.8 455.0L366.7 461.9L367.6 471.2L368.5 482.7L369.4 496.0L370.3 510.7L371.2 526.4L372.1 542.7L373.1 559.3L374.0 576.0L374.9 592.3L375.8 608.2L376.7 623.3L377.6 637.6L378.5 650.8L379.4 663.1L380.3 674.2L381.2 684.3L382.2 693.2L383.1 701.1L384.0 708.0L384.9 714.0L385.8 719.2L386.7 723.6L387.6 727.3L388.5 730.5L389.4 733.1L390.4 735.3L391.3 737.1L392.2 738.6L393.1 739.9L394.0 740.9L394.9 741.8L395.8 742.5L396.7 743.1L397.6 743.7L398.6 744.1L399.5 744.5L400.4 744.8L401.3 745.1L402.2 745.4L403.1 745.7L404.0 745.9L404.9 746.1L405.8 746.3L406.8 746.5L407.7 746.6L408.6 746.8L409.5 746.9L410.4 747.1L411.3 747.2L412.2 747.3L413.1 747.5L414.0 747.6L414.9 747.7L415.9 747.8L416.8 747.9L417.7 748.0L418.6 748.1L419.5 748.2L420.4 748.3L421.3 748.3L422.2 748.4L423.1 748.5L424.1 748.6L425.0 748.6L425.9 748.7L426.8 748.7L427.7 748.8L428.6 748.9L429.5 748.9L430.4 749.0L431.3 749.0L432.3 749.1L433.2 749.1L434.1 749.2L435.0 749.2L435.9 749.3L436.8 749.3L437.7 749.3L438.6 749.4L439.5 749.4L440.5 749.4L441.4 749.5L442.3 749.5L443.2 749.6L444.1 749.6L445.0 749.6L445.9 749.6L446.8 749.7L447.7 749.7L448.7 749.7L449.6 749.8L450.5 749.8L451.4 749.8L452.3 749.8L453.2 749.9L454.1 749.9L455.0 749.9L455.9 749.9L456.8 749.9L457.8 750.0L458.7 750.0L459.6 750.0L460.5 750.0L461.4 750.0L462.3 750.1L463.2 750.1L464.1 750.1L465.0 750.1L466.0 750.1L466.9 750.1L467.8 750.2L468.7 750.2L469.6 750.2L470.5 750.2L471.4 750.2L472.3 750.2L473.2 750.3L474.2 750.3L475.1 750.3L476.0 750.3L476.9 750.3L477.8 750.3L478.7 750.3L479.6 750.3L480.5 750.4L481.4 750.4L482.4 750.4L483.3 750.4L484.2 750.4L485.1 750.4L486.0 750.4L486.9 750.4L487.8 750.4L488.7 750.4L489.6 750.5L490.6 750.5L491.5 750.5L492.4 750.5L493.3 750.5L494.2 750.5L495.1 750.5L496.0 750.5L496.9 750.5L497.8 750.5L498.7 750.5L499.7 750.5L500.6 750.6L501.5 750.6L502.4 750.6L503.3 750.6L504.2 750.6L505.1 750.6L506.0 750.6L506.9 750.6L507.9 750.6L508.8 750.6L509.7 750.6L510.6 750.6L511.5 750.6L512.4 750.6L513.3 750.6L514.2 750.7L515.1 750.7L516.1 750.7L517.0 750.7L517.9 750.7L518.8 750.7L519.7 750.7L520.6 750.7L521.5 750.7L522.4 750.7L523.3 750.7L524.3 750.7L525.2 750.7L526.1 750.7L527.0 750.7L527.9 750.7L528.8 750.7L529.7 750.7L530.6 750.7L531.5 750.7L532.4 750.8L533.4 750.8"/>
<path d="M61 751.2H533" stroke-width="2.6"/>
<path d="M60.6 749.0L61.5 749.0L62.5 749.0L63.4 749.0L64.3 749.0L65.2 749.0L66.1 749.0L67.0 749.0L67.9 749.0L68.8 749.0L69.7 748.9L70.6 748.9L71.6 748.9L72.5 748.9L73.4 748.9L74.3 748.9L75.2 748.9L76.1 748.9L77.0 748.9L77.9 748.9L78.8 748.9L79.8 748.9L80.7 748.9L81.6 748.9L82.5 748.8L83.4 748.8L84.3 748.8L85.2 748.8L86.1 748.8L87.0 748.8L88.0 748.8L88.9 748.8L89.8 748.8L90.7 748.8L91.6 748.8L92.5 748.8L93.4 748.8L94.3 748.8L95.2 748.7L96.2 748.7L97.1 748.7L98.0 748.7L98.9 748.7L99.8 748.7L100.7 748.7L101.6 748.7L102.5 748.7L103.4 748.7L104.4 748.7L105.3 748.7L106.2 748.7L107.1 748.7L108.0 748.7L108.9 748.6L109.8 748.6L110.7 748.6L111.6 748.6L112.5 748.6L113.5 748.6L114.4 748.6L115.3 748.6L116.2 748.6L117.1 748.6L118.0 748.5L118.9 748.5L119.8 748.5L120.7 748.5L121.7 748.5L122.6 748.5L123.5 748.5L124.4 748.4L125.3 748.4L126.2 748.3L127.1 748.2L128.0 748.1L128.9 748.0L129.9 747.9L130.8 747.8L131.7 747.6L132.6 747.5L133.5 747.4L134.4 747.3L135.3 747.2L136.2 747.1L137.1 747.1L138.1 747.0L139.0 747.0L139.9 747.0L140.8 747.1L141.7 747.4L142.6 747.7L143.5 747.9L144.4 747.7L145.3 747.2L146.2 746.7L147.2 746.0L148.1 745.5L149.0 745.0L149.9 744.7L150.8 744.3L151.7 744.0L152.6 743.8L153.5 743.5L154.4 743.2L155.4 742.9L156.3 742.6L157.2 742.2L158.1 741.9L159.0 741.7L159.9 741.4L160.8 741.1L161.7 740.8L162.6 740.5L163.6 740.1L164.5 739.8L165.4 739.3L166.3 738.9L167.2 738.3L168.1 737.8L169.0 737.1L169.9 736.3L170.8 735.4L171.8 734.5L172.7 733.3L173.6 731.8L174.5 730.1L175.4 728.1L176.3 726.1L177.2 724.1L178.1 722.0L179.0 719.5L180.0 716.9L180.9 714.3L181.8 712.2L182.7 710.9L183.6 709.9L184.5 709.0L185.4 708.4L186.3 708.0L187.2 707.9L188.1 708.0L189.1 708.2L190.0 708.4L190.9 708.8L191.8 709.2L192.7 709.6L193.6 710.2L194.5 710.9L195.4 711.5L196.3 712.2L197.3 713.0L198.2 713.9L199.1 714.9L200.0 716.0L200.9 717.1L201.8 718.4L202.7 719.7L203.6 720.8L204.5 721.5L205.5 721.9L206.4 721.9L207.3 721.6L208.2 720.3L209.1 718.6L210.0 716.4L210.9 713.3L211.8 709.4L212.7 704.0L213.7 698.3L214.6 693.9L215.5 690.3L216.4 687.2L217.3 684.2L218.2 681.0L219.1 677.3L220.0 673.1L220.9 668.6L221.9 663.7L222.8 658.5L223.7 653.1L224.6 647.6L225.5 641.8L226.4 635.7L227.3 629.2L228.2 622.5L229.1 615.6L230.0 607.9L231.0 599.1L231.9 590.8L232.8 584.6L233.7 580.5L234.6 577.1L235.5 574.4L236.4 572.4L237.3 570.9L238.2 569.7L239.2 568.8L240.1 568.7L241.0 570.0L241.9 572.4L242.8 575.8L243.7 581.6L244.6 588.1L245.5 595.5L246.4 603.6L247.4 611.9L248.3 620.0L249.2 628.3L250.1 636.7L251.0 645.3L251.9 654.5L252.8 664.2L253.7 672.9L254.6 679.1L255.6 684.0L256.5 688.1L257.4 691.3L258.3 693.6L259.2 695.5L260.1 697.1L261.0 697.9L261.9 697.7L262.8 696.3L263.7 694.1L264.7 691.4L265.6 688.2L266.5 683.2L267.4 676.8L268.3 669.9L269.2 662.8L270.1 655.0L271.0 646.5L271.9 637.2L272.9 626.5L273.8 614.8L274.7 602.1L275.6 586.8L276.5 572.9L277.4 558.4L278.3 541.1L279.2 525.6L280.1 508.0L281.1 498.0L282.0 491.5L282.9 488.1L283.8 485.8L284.7 485.3L285.6 486.3L286.5 488.3L287.4 490.8L288.3 494.7L289.3 500.3L290.2 511.8L291.1 524.7L292.0 536.4L292.9 548.6L293.8 562.8L294.7 571.2L295.6 581.2L296.5 586.9L297.5 593.4L298.4 599.5L299.3 604.2L300.2 607.8L301.1 610.5L302.0 612.4L302.9 614.1L303.8 615.7L304.7 617.4L305.6 619.2L306.6 621.0L307.5 622.8L308.4 624.6L309.3 626.5L310.2 628.4L311.1 630.6L312.0 632.9L312.9 635.7L313.8 639.2L314.8 643.8L315.7 649.3L316.6 655.6L317.5 661.7L318.4 667.0L319.3 672.2L320.2 677.0L321.1 681.1L322.0 684.8L323.0 688.2L323.9 691.3L324.8 694.1L325.7 696.7L326.6 699.2L327.5 701.5L328.4 703.5L329.3 704.9L330.2 705.9L331.2 706.8L332.1 707.6L333.0 708.2L333.9 708.6L334.8 708.9L335.7 708.8L336.6 708.2L337.5 707.2L338.4 705.9L339.3 704.3L340.3 702.6L341.2 700.4L342.1 696.9L343.0 692.7L343.9 688.0L344.8 682.1L345.7 675.6L346.6 669.7L347.5 663.9L348.5 656.9L349.4 647.7L350.3 637.1L351.2 624.2L352.1 607.3L353.0 589.9L353.9 567.8L354.8 549.3L355.7 534.3L356.7 521.3L357.6 509.9L358.5 498.0L359.4 483.9L360.3 473.4L361.2 464.5L362.1 456.6L363.0 451.7L363.9 448.6L364.9 450.0L365.8 456.0L366.7 464.5L367.6 474.4L368.5 481.4L369.4 492.3L370.3 510.7L371.2 532.1L372.1 549.5L373.1 565.6L374.0 588.8L374.9 606.3L375.8 623.4L376.7 634.1L377.6 643.5L378.5 655.8L379.4 676.0L380.3 690.8L381.2 704.8L382.2 714.0L383.1 720.1L384.0 724.3L384.9 727.2L385.8 729.5L386.7 731.3L387.6 732.7L388.5 733.9L389.4 734.9L390.4 735.9L391.3 736.7L392.2 737.5L393.1 738.3L394.0 738.9L394.9 739.4L395.8 739.9L396.7 740.3L397.6 740.7L398.6 741.0L399.5 741.3L400.4 741.6L401.3 741.8L402.2 742.1L403.1 742.3L404.0 742.5L404.9 742.7L405.8 742.9L406.8 743.1L407.7 743.3L408.6 743.5L409.5 743.7L410.4 743.9L411.3 744.1L412.2 744.2L413.1 744.4L414.0 744.6L414.9 744.8L415.9 744.9L416.8 745.1L417.7 745.2L418.6 745.3L419.5 745.4L420.4 745.5L421.3 745.6L422.2 745.7L423.1 745.8L424.1 745.9L425.0 745.9L425.9 746.0L426.8 746.1L427.7 746.1L428.6 746.1L429.5 746.2L430.4 746.2L431.3 746.2L432.3 746.2L433.2 746.2L434.1 746.2L435.0 746.2L435.9 746.2L436.8 746.2L437.7 746.2L438.6 746.2L439.5 746.2L440.5 746.2L441.4 746.2L442.3 746.3L443.2 746.3L444.1 746.3L445.0 746.3L445.9 746.4L446.8 746.4L447.7 746.4L448.7 746.4L449.6 746.5L450.5 746.5L451.4 746.5L452.3 746.5L453.2 746.5L454.1 746.5L455.0 746.6L455.9 746.6L456.8 746.6L457.8 746.6L458.7 746.6L459.6 746.6L460.5 746.6L461.4 746.7L462.3 746.7L463.2 746.7L464.1 746.7L465.0 746.7L466.0 746.7L466.9 746.7L467.8 746.7L468.7 746.7L469.6 746.7L470.5 746.8L471.4 746.8L472.3 746.8L473.2 746.8L474.2 746.8L475.1 746.8L476.0 746.8L476.9 746.8L477.8 746.8L478.7 746.8L479.6 746.8L480.5 746.9L481.4 746.9L482.4 746.9L483.3 746.9L484.2 746.9L485.1 746.9L486.0 746.9L486.9 746.9L487.8 746.9L488.7 746.9L489.6 746.9L490.6 746.9L491.5 746.9L492.4 746.9L493.3 746.9L494.2 746.9L495.1 746.9L496.0 746.9L496.9 746.9L497.8 747.0L498.7 747.0L499.7 747.0L500.6 747.0L501.5 747.0L502.4 747.0L503.3 747.0L504.2 747.0L505.1 747.0L506.0 747.0L506.9 747.0L507.9 747.0L508.8 747.0L509.7 747.0L510.6 747.0L511.5 747.0L512.4 747.0L513.3 747.0L514.2 747.0L515.1 747.0L516.1 747.0L517.0 747.0L517.9 747.0L518.8 747.0L519.7 747.0L520.6 747.0L521.5 747.0L522.4 747.0L523.3 747.0L524.3 747.0L525.2 747.0L526.1 747.0L527.0 747.0L527.9 747.0L528.8 747.0L529.7 747.0L530.6 747.0L531.5 747.0L532.4 747.0L533.4 747.0"/>
<path d="M60.6 749.0L61.5 749.0L62.5 749.0L63.4 749.0L64.3 749.0L65.2 749.0L66.1 749.0L67.0 749.0L67.9 749.0L68.8 749.0L69.7 748.9L70.6 748.9L71.6 748.9L72.5 748.9L73.4 748.9L74.3 748.9L75.2 748.9L76.1 748.9L77.0 748.9L77.9 748.9L78.8 748.9L79.8 748.9L80.7 748.9L81.6 748.9L82.5 748.8L83.4 748.8L84.3 748.8L85.2 748.8L86.1 748.8L87.0 748.8L88.0 748.8L88.9 748.8L89.8 748.8L90.7 748.8L91.6 748.8L92.5 748.8L93.4 748.8L94.3 748.8L95.2 748.7L96.2 748.7L97.1 748.7L98.0 748.7L98.9 748.7L99.8 748.7L100.7 748.7L101.6 748.7L102.5 748.7L103.4 748.7L104.4 748.7L105.3 748.7L106.2 748.7L107.1 748.7L108.0 748.7L108.9 748.6L109.8 748.6L110.7 748.6L111.6 748.6L112.5 748.6L113.5 748.6L114.4 748.6L115.3 748.6L116.2 748.6L117.1 748.6L118.0 748.5L118.9 748.5L119.8 748.5L120.7 748.5L121.7 748.5L122.6 748.5L123.5 748.5L124.4 748.4L125.3 748.4L126.2 748.3L127.1 748.2L128.0 748.1L128.9 748.0L129.9 747.9L130.8 747.8L131.7 747.6L132.6 747.5L133.5 747.4L134.4 747.3L135.3 747.2L136.2 747.1L137.1 747.1L138.1 747.0L139.0 747.0L139.9 747.0L140.8 747.1L141.7 747.4L142.6 747.7L143.5 747.9L144.4 747.7L145.3 747.2L146.2 746.7L147.2 746.0L148.1 745.5L149.0 745.0L149.9 744.7L150.8 744.3L151.7 744.0L152.6 743.8L153.5 743.5L154.4 743.2L155.4 742.9L156.3 742.6L157.2 742.2L158.1 742.0L159.0 741.8L159.9 741.7L160.8 741.5L161.7 741.3L162.6 741.1L163.6 740.9L164.5 740.6L165.4 740.3L166.3 739.9L167.2 739.5L168.1 739.0L169.0 738.5L169.9 737.8L170.8 737.0L171.8 736.2L172.7 735.1L173.6 733.7L174.5 732.1L175.4 730.3L176.3 728.4L177.2 726.4L178.1 724.5L179.0 722.1L180.0 719.6L180.9 716.9L181.8 714.6L182.7 713.2L183.6 712.0L184.5 710.9L185.4 710.1L186.3 709.5L187.2 709.3L188.1 709.2L189.1 709.2L190.0 709.2L190.9 709.4L191.8 709.7L192.7 709.9L193.6 710.6L194.5 711.3L195.4 712.1L196.3 712.9L197.3 713.8L198.2 714.8L199.1 715.9L200.0 717.0L200.9 718.2L201.8 719.6L202.7 721.0L203.6 722.2L204.5 723.0L205.5 723.2L206.4 722.9L207.3 722.2L208.2 720.7L209.1 718.6L210.0 716.4L210.9 713.3L211.8 709.4L212.7 704.0L213.7 698.3L214.6 693.9L215.5 690.3L216.4 687.2L217.3 684.2L218.2 681.0L219.1 677.3L220.0 673.1L220.9 668.6L221.9 663.7L222.8 658.5L223.7 653.1L224.6 647.6L225.5 641.8L226.4 635.7L227.3 629.2L228.2 622.5L229.1 615.6L230.0 607.9L231.0 599.1L231.9 590.8L232.8 584.6L233.7 580.5L234.6 577.1L235.5 574.4L236.4 572.4L237.3 570.9L238.2 569.7L239.2 568.8L240.1 568.7L241.0 570.0L241.9 572.4L242.8 575.8L243.7 581.6L244.6 588.1L245.5 595.5L246.4 603.6L247.4 611.9L248.3 620.0L249.2 628.3L250.1 636.7L251.0 645.3L251.9 654.5L252.8 664.2L253.7 672.9L254.6 679.1L255.6 684.0L256.5 688.1L257.4 691.3L258.3 693.6L259.2 695.5L260.1 697.1L261.0 697.9L261.9 697.7L262.8 696.3L263.7 694.1L264.7 691.4L265.6 688.2L266.5 683.2L267.4 676.8L268.3 669.9L269.2 662.8L270.1 655.0L271.0 646.5L271.9 637.2L272.9 626.5L273.8 614.8L274.7 602.1L275.6 586.8L276.5 572.9L277.4 558.4L278.3 541.1L279.2 525.6L280.1 508.0L281.1 498.0L282.0 491.5L282.9 488.1L283.8 485.8L284.7 485.3L285.6 486.3L286.5 488.3L287.4 490.8L288.3 494.7L289.3 500.3L290.2 511.8L291.1 524.7L292.0 536.4L292.9 548.6L293.8 562.8L294.7 571.2L295.6 581.2L296.5 586.9L297.5 593.4L298.4 599.5L299.3 604.2L300.2 607.8L301.1 610.5L302.0 612.4L302.9 614.1L303.8 615.7L304.7 617.4L305.6 619.2L306.6 621.0L307.5 622.8L308.4 624.6L309.3 626.5L310.2 628.4L311.1 630.6L312.0 632.9L312.9 635.7L313.8 639.2L314.8 643.8L315.7 649.3L316.6 655.6L317.5 661.7L318.4 667.0L319.3 672.2L320.2 677.0L321.1 681.1L322.0 684.8L323.0 688.2L323.9 691.3L324.8 694.1L325.7 696.7L326.6 699.2L327.5 701.5L328.4 703.5L329.3 704.9L330.2 705.9L331.2 706.8L332.1 707.6L333.0 708.2L333.9 708.6L334.8 708.9L335.7 708.8L336.6 708.2L337.5 707.2L338.4 705.9L339.3 704.3L340.3 702.6L341.2 700.4L342.1 696.9L343.0 692.7L343.9 688.0L344.8 682.1L345.7 675.6L346.6 669.7L347.5 663.9L348.5 656.9L349.4 647.7L350.3 637.1L351.2 624.2L352.1 607.3L353.0 589.9L353.9 567.8L354.8 549.3L355.7 534.3L356.7 521.3L357.6 509.9L358.5 498.0L359.4 483.9L360.3 473.4L361.2 464.5L362.1 456.6L363.0 451.7L363.9 448.6L364.9 450.0L365.8 456.0L366.7 464.5L367.6 474.4L368.5 481.4L369.4 492.3L370.3 510.7L371.2 532.1L372.1 549.5L373.1 565.6L374.0 588.8L374.9 606.3L375.8 623.4L376.7 634.1L377.6 643.5L378.5 655.8L379.4 676.0L380.3 690.8L381.2 704.8L382.2 714.3L383.1 720.6L384.0 725.1L384.9 728.3L385.8 730.7L386.7 732.5L387.6 734.0L388.5 735.2L389.4 736.3L390.4 737.3L391.3 738.2L392.2 739.0L393.1 739.8L394.0 740.4L394.9 740.9L395.8 741.4L396.7 741.8L397.6 742.1L398.6 742.4L399.5 742.7L400.4 743.0L401.3 743.2L402.2 743.4L403.1 743.6L404.0 743.8L404.9 744.0L405.8 744.2L406.8 744.3L407.7 744.5L408.6 744.7L409.5 744.9L410.4 745.1L411.3 745.2L412.2 745.4L413.1 745.5L414.0 745.7L414.9 745.8L415.9 745.9L416.8 746.0L417.7 746.1L418.6 746.2L419.5 746.3L420.4 746.3L421.3 746.4L422.2 746.4L423.1 746.5L424.1 746.5L425.0 746.6L425.9 746.6L426.8 746.6L427.7 746.6L428.6 746.6L429.5 746.6L430.4 746.6L431.3 746.5L432.3 746.5L433.2 746.5L434.1 746.5L435.0 746.4L435.9 746.4L436.8 746.4L437.7 746.3L438.6 746.3L439.5 746.2L440.5 746.2L441.4 746.2L442.3 746.3L443.2 746.3L444.1 746.3L445.0 746.3L445.9 746.4L446.8 746.4L447.7 746.4L448.7 746.4L449.6 746.5L450.5 746.5L451.4 746.5L452.3 746.5L453.2 746.5L454.1 746.5L455.0 746.6L455.9 746.6L456.8 746.6L457.8 746.6L458.7 746.6L459.6 746.6L460.5 746.6L461.4 746.7L462.3 746.7L463.2 746.7L464.1 746.7L465.0 746.7L466.0 746.7L466.9 746.7L467.8 746.7L468.7 746.7L469.6 746.7L470.5 746.8L471.4 746.8L472.3 746.8L473.2 746.8L474.2 746.8L475.1 746.8L476.0 746.8L476.9 746.8L477.8 746.8L478.7 746.8L479.6 746.8L480.5 746.9L481.4 746.9L482.4 746.9L483.3 746.9L484.2 746.9L485.1 746.9L486.0 746.9L486.9 746.9L487.8 746.9L488.7 746.9L489.6 746.9L490.6 746.9L491.5 746.9L492.4 746.9L493.3 746.9L494.2 746.9L495.1 746.9L496.0 746.9L496.9 746.9L497.8 747.0L498.7 747.0L499.7 747.0L500.6 747.0L501.5 747.0L502.4 747.0L503.3 747.0L504.2 747.0L505.1 747.0L506.0 747.0L506.9 747.0L507.9 747.0L508.8 747.0L509.7 747.0L510.6 747.0L511.5 747.0L512.4 747.0L513.3 747.0L514.2 747.0L515.1 747.0L516.1 747.0L517.0 747.0L517.9 747.0L518.8 747.0L519.7 747.0L520.6 747.0L521.5 747.0L522.4 747.0L523.3 747.0L524.3 747.0L525.2 747.0L526.1 747.0L527.0 747.0L527.9 747.0L528.8 747.0L529.7 747.0L530.6 747.0L531.5 747.0L532.4 747.0L533.4 747.0"/>
<path d="M60.6 749.0L61.5 749.0L62.5 749.0L63.4 749.0L64.3 749.0L65.2 749.0L66.1 749.0L67.0 749.0L67.9 749.0L68.8 749.0L69.7 748.9L70.6 748.9L71.6 748.9L72.5 748.9L73.4 748.9L74.3 748.9L75.2 748.9L76.1 748.9L77.0 748.9L77.9 748.9L78.8 748.9L79.8 748.9L80.7 748.9L81.6 748.9L82.5 748.8L83.4 748.8L84.3 748.8L85.2 748.8L86.1 748.8L87.0 748.8L88.0 748.8L88.9 748.8L89.8 748.8L90.7 748.8L91.6 748.8L92.5 748.8L93.4 748.8L94.3 748.8L95.2 748.7L96.2 748.7L97.1 748.7L98.0 748.7L98.9 748.7L99.8 748.7L100.7 748.7L101.6 748.7L102.5 748.7L103.4 748.7L104.4 748.7L105.3 748.7L106.2 748.7L107.1 748.7L108.0 748.7L108.9 748.6L109.8 748.6L110.7 748.6L111.6 748.6L112.5 748.6L113.5 748.6L114.4 748.6L115.3 748.6L116.2 748.6L117.1 748.6L118.0 748.5L118.9 748.5L119.8 748.5L120.7 748.5L121.7 748.5L122.6 748.5L123.5 748.5L124.4 748.4L125.3 748.4L126.2 748.3L127.1 748.2L128.0 748.1L128.9 748.0L129.9 747.9L130.8 747.8L131.7 747.6L132.6 747.5L133.5 747.4L134.4 747.3L135.3 747.2L136.2 747.1L137.1 747.1L138.1 747.0L139.0 747.0L139.9 747.0L140.8 747.1L141.7 747.4L142.6 747.7L143.5 747.9L144.4 747.7L145.3 747.2L146.2 746.7L147.2 746.0L148.1 745.5L149.0 745.0L149.9 744.7L150.8 744.3L151.7 744.0L152.6 743.8L153.5 743.5L154.4 743.2L155.4 742.9L156.3 742.6L157.2 742.2L158.1 741.9L159.0 741.5L159.9 741.1L160.8 740.7L161.7 740.3L162.6 739.9L163.6 739.4L164.5 738.9L165.4 738.4L166.3 737.8L167.2 737.2L168.1 736.5L169.0 735.7L169.9 734.8L170.8 733.8L171.8 732.8L172.7 731.5L173.6 729.9L174.5 728.0L175.4 726.0L176.3 723.9L177.2 721.7L178.1 719.6L179.0 717.0L180.0 714.2L180.9 711.7L181.8 709.7L182.7 708.7L183.6 707.8L184.5 707.1L185.4 706.7L186.3 706.5L187.2 706.6L188.1 706.8L189.1 707.2L190.0 707.6L190.9 708.1L191.8 708.7L192.7 709.3L193.6 709.8L194.5 710.4L195.4 710.9L196.3 711.6L197.3 712.3L198.2 713.1L199.1 714.0L200.0 715.0L200.9 716.0L201.8 717.2L202.7 718.4L203.6 719.4L204.5 720.0L205.5 720.5L206.4 720.9L207.3 720.9L208.2 720.0L209.1 718.6L210.0 716.4L210.9 713.3L211.8 709.4L212.7 704.0L213.7 698.3L214.6 693.9L215.5 690.3L216.4 687.2L217.3 684.2L218.2 681.0L219.1 677.3L220.0 673.1L220.9 668.6L221.9 663.7L222.8 658.5L223.7 653.1L224.6 647.6L225.5 641.8L226.4 635.7L227.3 629.2L228.2 622.5L229.1 615.6L230.0 607.9L231.0 599.1L231.9 590.8L232.8 584.6L233.7 580.5L234.6 577.1L235.5 574.4L236.4 572.4L237.3 570.9L238.2 569.7L239.2 568.8L240.1 568.7L241.0 570.0L241.9 572.4L242.8 575.8L243.7 581.6L244.6 588.1L245.5 595.5L246.4 603.6L247.4 611.9L248.3 620.0L249.2 628.3L250.1 636.7L251.0 645.3L251.9 654.5L252.8 664.2L253.7 672.9L254.6 679.1L255.6 684.0L256.5 688.1L257.4 691.3L258.3 693.6L259.2 695.5L260.1 697.1L261.0 697.9L261.9 697.7L262.8 696.3L263.7 694.1L264.7 691.4L265.6 688.2L266.5 683.2L267.4 676.8L268.3 669.9L269.2 662.8L270.1 655.0L271.0 646.5L271.9 637.2L272.9 626.5L273.8 614.8L274.7 602.1L275.6 586.8L276.5 572.9L277.4 558.4L278.3 541.1L279.2 525.6L280.1 508.0L281.1 498.0L282.0 491.5L282.9 488.1L283.8 485.8L284.7 485.3L285.6 486.3L286.5 488.3L287.4 490.8L288.3 494.7L289.3 500.3L290.2 511.8L291.1 524.7L292.0 536.4L292.9 548.6L293.8 562.8L294.7 571.2L295.6 581.2L296.5 586.9L297.5 593.4L298.4 599.5L299.3 604.2L300.2 607.8L301.1 610.5L302.0 612.4L302.9 614.1L303.8 615.7L304.7 617.4L305.6 619.2L306.6 621.0L307.5 622.8L308.4 624.6L309.3 626.5L310.2 628.4L311.1 630.6L312.0 632.9L312.9 635.7L313.8 639.2L314.8 643.8L315.7 649.3L316.6 655.6L317.5 661.7L318.4 667.0L319.3 672.2L320.2 677.0L321.1 681.1L322.0 684.8L323.0 688.2L323.9 691.3L324.8 694.1L325.7 696.7L326.6 699.2L327.5 701.5L328.4 703.5L329.3 704.9L330.2 705.9L331.2 706.8L332.1 707.6L333.0 708.2L333.9 708.6L334.8 708.9L335.7 708.8L336.6 708.2L337.5 707.2L338.4 705.9L339.3 704.3L340.3 702.6L341.2 700.4L342.1 696.9L343.0 692.7L343.9 688.0L344.8 682.1L345.7 675.6L346.6 669.7L347.5 663.9L348.5 656.9L349.4 647.7L350.3 637.1L351.2 624.2L352.1 607.3L353.0 589.9L353.9 567.8L354.8 549.3L355.7 534.3L356.7 521.3L357.6 509.9L358.5 498.0L359.4 483.9L360.3 473.4L361.2 464.5L362.1 456.6L363.0 451.7L363.9 448.6L364.9 450.0L365.8 456.0L366.7 464.5L367.6 474.4L368.5 481.4L369.4 492.3L370.3 510.7L371.2 532.1L372.1 549.5L373.1 565.6L374.0 588.8L374.9 606.3L375.8 623.4L376.7 634.1L377.6 643.5L378.5 655.8L379.4 676.0L380.3 690.8L381.2 704.8L382.2 713.8L383.1 719.5L384.0 723.5L384.9 726.1L385.8 728.3L386.7 730.0L387.6 731.4L388.5 732.6L389.4 733.6L390.4 734.5L391.3 735.3L392.2 736.1L393.1 736.8L394.0 737.4L394.9 737.9L395.8 738.4L396.7 738.9L397.6 739.3L398.6 739.6L399.5 739.9L400.4 740.2L401.3 740.5L402.2 740.7L403.1 740.9L404.0 741.2L404.9 741.4L405.8 741.6L406.8 741.8L407.7 742.0L408.6 742.2L409.5 742.5L410.4 742.7L411.3 742.9L412.2 743.1L413.1 743.3L414.0 743.6L414.9 743.8L415.9 743.9L416.8 744.1L417.7 744.3L418.6 744.4L419.5 744.6L420.4 744.7L421.3 744.8L422.2 745.0L423.1 745.1L424.1 745.2L425.0 745.3L425.9 745.4L426.8 745.5L427.7 745.6L428.6 745.7L429.5 745.7L430.4 745.8L431.3 745.8L432.3 745.9L433.2 745.9L434.1 745.9L435.0 746.0L435.9 746.0L436.8 746.1L437.7 746.1L438.6 746.1L439.5 746.2L440.5 746.2L441.4 746.2L442.3 746.3L443.2 746.3L444.1 746.3L445.0 746.3L445.9 746.4L446.8 746.4L447.7 746.4L448.7 746.4L449.6 746.5L450.5 746.5L451.4 746.5L452.3 746.5L453.2 746.5L454.1 746.5L455.0 746.6L455.9 746.6L456.8 746.6L457.8 746.6L458.7 746.6L459.6 746.6L460.5 746.6L461.4 746.7L462.3 746.7L463.2 746.7L464.1 746.7L465.0 746.7L466.0 746.7L466.9 746.7L467.8 746.7L468.7 746.7L469.6 746.7L470.5 746.8L471.4 746.8L472.3 746.8L473.2 746.8L474.2 746.8L475.1 746.8L476.0 746.8L476.9 746.8L477.8 746.8L478.7 746.8L479.6 746.8L480.5 746.9L481.4 746.9L482.4 746.9L483.3 746.9L484.2 746.9L485.1 746.9L486.0 746.9L486.9 746.9L487.8 746.9L488.7 746.9L489.6 746.9L490.6 746.9L491.5 746.9L492.4 746.9L493.3 746.9L494.2 746.9L495.1 746.9L496.0 746.9L496.9 746.9L497.8 747.0L498.7 747.0L499.7 747.0L500.6 747.0L501.5 747.0L502.4 747.0L503.3 747.0L504.2 747.0L505.1 747.0L506.0 747.0L506.9 747.0L507.9 747.0L508.8 747.0L509.7 747.0L510.6 747.0L511.5 747.0L512.4 747.0L513.3 747.0L514.2 747.0L515.1 747.0L516.1 747.0L517.0 747.0L517.9 747.0L518.8 747.0L519.7 747.0L520.6 747.0L521.5 747.0L522.4 747.0L523.3 747.0L524.3 747.0L525.2 747.0L526.1 747.0L527.0 747.0L527.9 747.0L528.8 747.0L529.7 747.0L530.6 747.0L531.5 747.0L532.4 747.0L533.4 747.0" stroke-width="2.6"/>
<path d="M61.0 749.0h0M62.1 749.0h0M63.2 749.0h0M64.3 749.0h0M65.4 749.0h0M66.5 749.0h0M67.6 749.0h0M68.6 749.0h0M69.7 748.9h0M70.8 748.9h0M71.9 748.9h0M73.0 748.9h0M74.1 748.9h0M75.2 748.9h0M76.3 748.9h0M77.3 748.9h0M78.4 748.9h0M79.5 748.9h0M80.6 748.9h0M81.7 748.9h0M82.8 748.8h0M83.9 748.8h0M84.9 748.8h0M86.0 748.8h0M87.1 748.8h0M88.2 748.8h0M89.3 748.8h0M90.4 748.8h0M91.5 748.8h0M92.5 748.8h0M93.6 748.8h0M94.7 748.7h0M95.8 748.7h0M96.9 748.7h0M98.0 748.7h0M99.1 748.7h0M100.2 748.7h0M101.2 748.7h0M102.3 748.7h0M103.4 748.7h0M104.5 748.7h0M105.6 748.7h0M106.7 748.7h0M107.8 748.7h0M108.8 748.6h0M109.9 748.6h0M111.0 748.6h0M112.1 748.6h0M113.2 748.6h0M114.3 748.6h0M115.4 748.6h0M116.5 748.6h0M117.5 748.6h0M118.6 748.5h0M119.7 748.5h0M120.8 748.5h0M121.9 748.5h0M123.0 748.5h0M124.1 748.4h0M125.1 748.4h0M126.2 748.3h0M127.3 748.2h0M128.4 748.1h0M129.5 747.9h0M130.6 747.8h0M131.7 747.6h0M132.7 747.5h0M133.8 747.4h0M134.9 747.3h0M136.0 747.2h0M137.1 747.1h0M138.2 747.0h0M139.3 747.0h0M140.4 747.0h0M141.4 747.3h0M142.5 747.7h0M143.6 747.9h0M144.7 747.6h0M145.8 747.0h0M146.9 746.2h0M148.0 745.5h0M149.0 745.0h0M150.1 744.6h0M151.2 744.2h0M152.3 743.9h0M153.4 743.5h0M154.5 743.2h0M155.6 742.8h0M156.7 742.4h0M157.7 742.0h0M158.8 741.6h0M159.9 741.1h0M161.0 740.7h0M162.1 740.2h0M163.2 739.6h0M164.3 739.1h0M165.3 738.4h0M166.4 737.7h0M167.5 737.0h0M168.6 736.1h0M169.7 735.1h0M170.8 733.9h0M171.9 732.6h0M172.9 731.0h0M174.0 729.0h0M175.1 726.6h0M176.2 724.1h0M177.3 721.5h0M178.4 718.9h0M179.5 715.7h0M180.6 712.5h0M181.6 710.0h0M182.7 708.6h0M183.8 707.6h0M184.9 706.9h0M186.0 706.5h0M187.1 706.5h0M188.2 706.8h0M189.2 707.3h0M190.3 707.8h0M191.4 708.5h0M192.5 709.2h0M193.6 709.8h0M194.7 710.5h0M195.8 711.2h0M196.9 711.9h0M197.9 712.9h0M199.0 714.0h0M200.1 715.1h0M201.2 716.4h0M202.3 717.8h0M203.4 719.1h0M204.5 720.0h0M205.5 720.6h0M206.6 720.9h0M207.7 720.6h0M208.8 719.1h0M209.9 716.7h0M211.0 713.1h0M212.1 708.2h0M213.2 701.4h0M214.2 695.3h0M215.3 690.9h0M216.4 687.1h0M217.5 683.5h0M218.6 679.6h0M219.7 674.8h0M220.8 669.5h0M221.8 663.7h0M222.9 657.5h0M224.0 651.0h0M225.1 644.3h0M226.2 637.2h0M227.3 629.5h0M228.4 621.5h0M229.4 613.2h0M230.5 603.2h0M231.6 592.9h0M232.7 585.0h0M233.8 580.1h0M234.9 576.2h0M236.0 573.3h0M237.1 571.4h0M238.1 569.8h0M239.2 568.8h0M240.3 568.9h0M241.4 571.0h0M242.5 574.3h0M243.6 580.6h0M244.7 588.4h0M245.7 597.4h0M246.8 607.1h0M247.9 616.9h0M249.0 626.7h0M250.1 636.8h0M251.2 647.0h0M252.3 658.3h0M253.4 669.5h0M254.4 677.9h0M255.5 683.9h0M256.6 688.7h0M257.7 692.2h0M258.8 694.7h0M259.9 696.7h0M261.0 697.9h0M262.0 697.6h0M263.1 695.7h0M264.2 692.7h0M265.3 689.2h0M266.4 683.8h0M267.5 676.2h0M268.6 667.9h0M269.6 659.2h0M270.7 649.4h0M271.8 638.6h0M272.9 625.9h0M274.0 611.8h0M275.1 595.8h0M276.2 577.6h0M277.3 561.3h0M278.3 540.8h0M279.4 522.0h0M280.5 503.2h0M281.6 493.7h0M282.7 488.7h0M283.8 485.9h0M284.9 485.3h0M285.9 487.0h0M287.0 489.7h0M288.1 493.6h0M289.2 500.0h0M290.3 513.9h0M291.4 528.7h0M292.5 542.3h0M293.6 560.1h0M294.6 570.3h0M295.7 581.8h0M296.8 588.7h0M297.9 596.5h0M299.0 602.9h0M300.1 607.4h0M301.2 610.6h0M302.2 612.9h0M303.3 614.8h0M304.4 616.8h0M305.5 618.9h0M306.6 621.0h0M307.7 623.2h0M308.8 625.4h0M309.8 627.6h0M310.9 630.1h0M312.0 632.9h0M313.1 636.3h0M314.2 640.9h0M315.3 646.8h0M316.4 654.1h0M317.5 661.4h0M318.5 667.8h0M319.6 673.9h0M320.7 679.3h0M321.8 683.8h0M322.9 688.0h0M324.0 691.7h0M325.1 694.9h0M326.1 697.9h0M327.2 700.8h0M328.3 703.3h0M329.4 705.0h0M330.5 706.2h0M331.6 707.2h0M332.7 708.0h0M333.8 708.6h0M334.8 708.9h0M335.9 708.7h0M337.0 707.8h0M338.1 706.4h0M339.2 704.6h0M340.3 702.6h0M341.4 699.7h0M342.4 695.3h0M343.5 690.0h0M344.6 683.5h0M345.7 675.8h0M346.8 668.7h0M347.9 661.6h0M349.0 652.0h0M350.0 639.9h0M351.1 625.1h0M352.2 605.1h0M353.3 582.7h0M354.4 557.7h0M355.5 538.3h0M356.6 522.5h0M357.7 508.9h0M358.7 493.5h0M359.8 478.6h0M360.9 467.3h0M362.0 457.5h0M363.1 451.5h0M364.2 448.3h0M365.3 452.5h0M366.3 460.9h0M367.4 472.9h0M368.5 481.6h0M369.6 495.7h0M370.7 520.3h0M371.8 543.1h0M372.9 561.9h0M374.0 588.6h0M375.0 609.5h0M376.1 628.1h0M377.2 639.1h0M378.3 652.5h0M379.4 675.2h0M380.5 693.1h0M381.6 708.4h0M382.6 717.0h0M383.7 722.6h0M384.8 726.0h0M385.9 728.5h0M387.0 730.5h0M388.1 732.0h0M389.2 733.3h0M390.2 734.4h0M391.3 735.4h0M392.4 736.3h0M393.5 737.1h0M394.6 737.8h0M395.7 738.4h0M396.8 738.9h0M397.9 739.3h0M398.9 739.7h0M400.0 740.1h0M401.1 740.4h0M402.2 740.7h0M403.3 741.0h0M404.4 741.2h0M405.5 741.5h0M406.5 741.7h0M407.6 742.0h0M408.7 742.3h0M409.8 742.5h0M410.9 742.8h0M412.0 743.1h0M413.1 743.3h0M414.2 743.6h0M415.2 743.8h0M416.3 744.0h0M417.4 744.2h0M418.5 744.4h0M419.6 744.6h0M420.7 744.8h0M421.8 744.9h0M422.8 745.1h0M423.9 745.2h0M425.0 745.3h0M426.1 745.4h0M427.2 745.5h0M428.3 745.6h0M429.4 745.7h0M430.5 745.8h0M431.5 745.8h0M432.6 745.9h0M433.7 745.9h0M434.8 746.0h0M435.9 746.0h0M437.0 746.1h0M438.1 746.1h0M439.1 746.1h0M440.2 746.2h0M441.3 746.2h0M442.4 746.3h0M443.5 746.3h0M444.6 746.3h0M445.7 746.4h0M446.7 746.4h0M447.8 746.4h0M448.9 746.4h0M450.0 746.5h0M451.1 746.5h0M452.2 746.5h0M453.3 746.5h0M454.4 746.6h0M455.4 746.6h0M456.5 746.6h0M457.6 746.6h0M458.7 746.6h0M459.8 746.6h0M460.9 746.6h0M462.0 746.7h0M463.0 746.7h0M464.1 746.7h0M465.2 746.7h0M466.3 746.7h0M467.4 746.7h0M468.5 746.7h0M469.6 746.7h0M470.7 746.8h0M471.7 746.8h0M472.8 746.8h0M473.9 746.8h0M475.0 746.8h0M476.1 746.8h0M477.2 746.8h0M478.3 746.8h0M479.3 746.8h0M480.4 746.9h0M481.5 746.9h0M482.6 746.9h0M483.7 746.9h0M484.8 746.9h0M485.9 746.9h0M486.9 746.9h0M488.0 746.9h0M489.1 746.9h0M490.2 746.9h0M491.3 746.9h0M492.4 746.9h0M493.5 746.9h0M494.6 746.9h0M495.6 746.9h0M496.7 746.9h0M497.8 747.0h0M498.9 747.0h0M500.0 747.0h0M501.1 747.0h0M502.2 747.0h0M503.2 747.0h0M504.3 747.0h0M505.4 747.0h0M506.5 747.0h0M507.6 747.0h0M508.7 747.0h0M509.8 747.0h0M510.9 747.0h0M511.9 747.0h0M513.0 747.0h0M514.1 747.0h0M515.2 747.0h0M516.3 747.0h0M517.4 747.0h0M518.5 747.0h0M519.5 747.0h0M520.6 747.0h0M521.7 747.0h0M522.8 747.0h0M523.9 747.0h0M525.0 747.0h0M526.1 747.0h0M527.1 747.0h0M528.2 747.0h0M529.3 747.0h0M530.4 747.0h0M531.5 747.0h0M532.6 747.0h0M284.6 459.2h0M284.6 463.4h0M283.0 472.6h0M287.0 472.6h0M281.6 486.2h0M285.2 485.0h0M288.8 486.2h0" stroke-width="6.3" stroke-linecap="round"/></g></g>
<path d="M61.4 36.7H533.0V756.2H61.4Z" fill="none" stroke="#000" stroke-width="1.8"/><path d="M61.4 396.3H533.0" stroke="#000" stroke-width="1.6"/>
<g font-size="22.3">
<text x="51.7" y="396.1" text-anchor="end">0</text><text x="51.7" y="324.1" text-anchor="end">1</text><text x="51.7" y="252.1" text-anchor="end">2</text><text x="51.7" y="180.1" text-anchor="end">3</text><text x="51.7" y="108.1" text-anchor="end">4</text><text x="51.7" y="760.0" text-anchor="end">0</text><text x="51.7" y="699.5" text-anchor="end">1</text><text x="51.7" y="639.1" text-anchor="end">2</text><text x="51.7" y="578.6" text-anchor="end">3</text><text x="51.7" y="518.2" text-anchor="end">4</text><text x="51.7" y="457.8" text-anchor="end">5</text><text x="92.2" y="783.4" text-anchor="middle">−100</text><text x="194.7" y="783.4" text-anchor="middle">−50</text><text x="297.2" y="783.4" text-anchor="middle">0</text><text x="399.7" y="783.4" text-anchor="middle">50</text><text x="502.2" y="783.4" text-anchor="middle">100</text>
</g>
<text x="272.2" y="18.1" font-size="17">85</text>
<text x="291.3" y="28.6" font-size="26">Rb</text>
<text transform="translate(26.5 375.5) rotate(-90)" font-size="24.1" text-anchor="middle">Fluorescence Intensity (arb. units)</text>
<text x="297.5" y="824.2" font-size="23.6" text-anchor="middle">&#948;&#957; (MHz)</text>
<g font-size="23.6">
<text x="109" y="144.1">cell</text>
<text x="393.5" y="108.3">F = 4</text>
<text x="206.6" y="202.6">F = 3</text>
<text x="171.7" y="335.1">F = 2</text>
<text x="421.5" y="357.3">(3,4)</text>
<text x="100.5" y="555.9">MOT</text>
</g>
</svg>
</body></html>
